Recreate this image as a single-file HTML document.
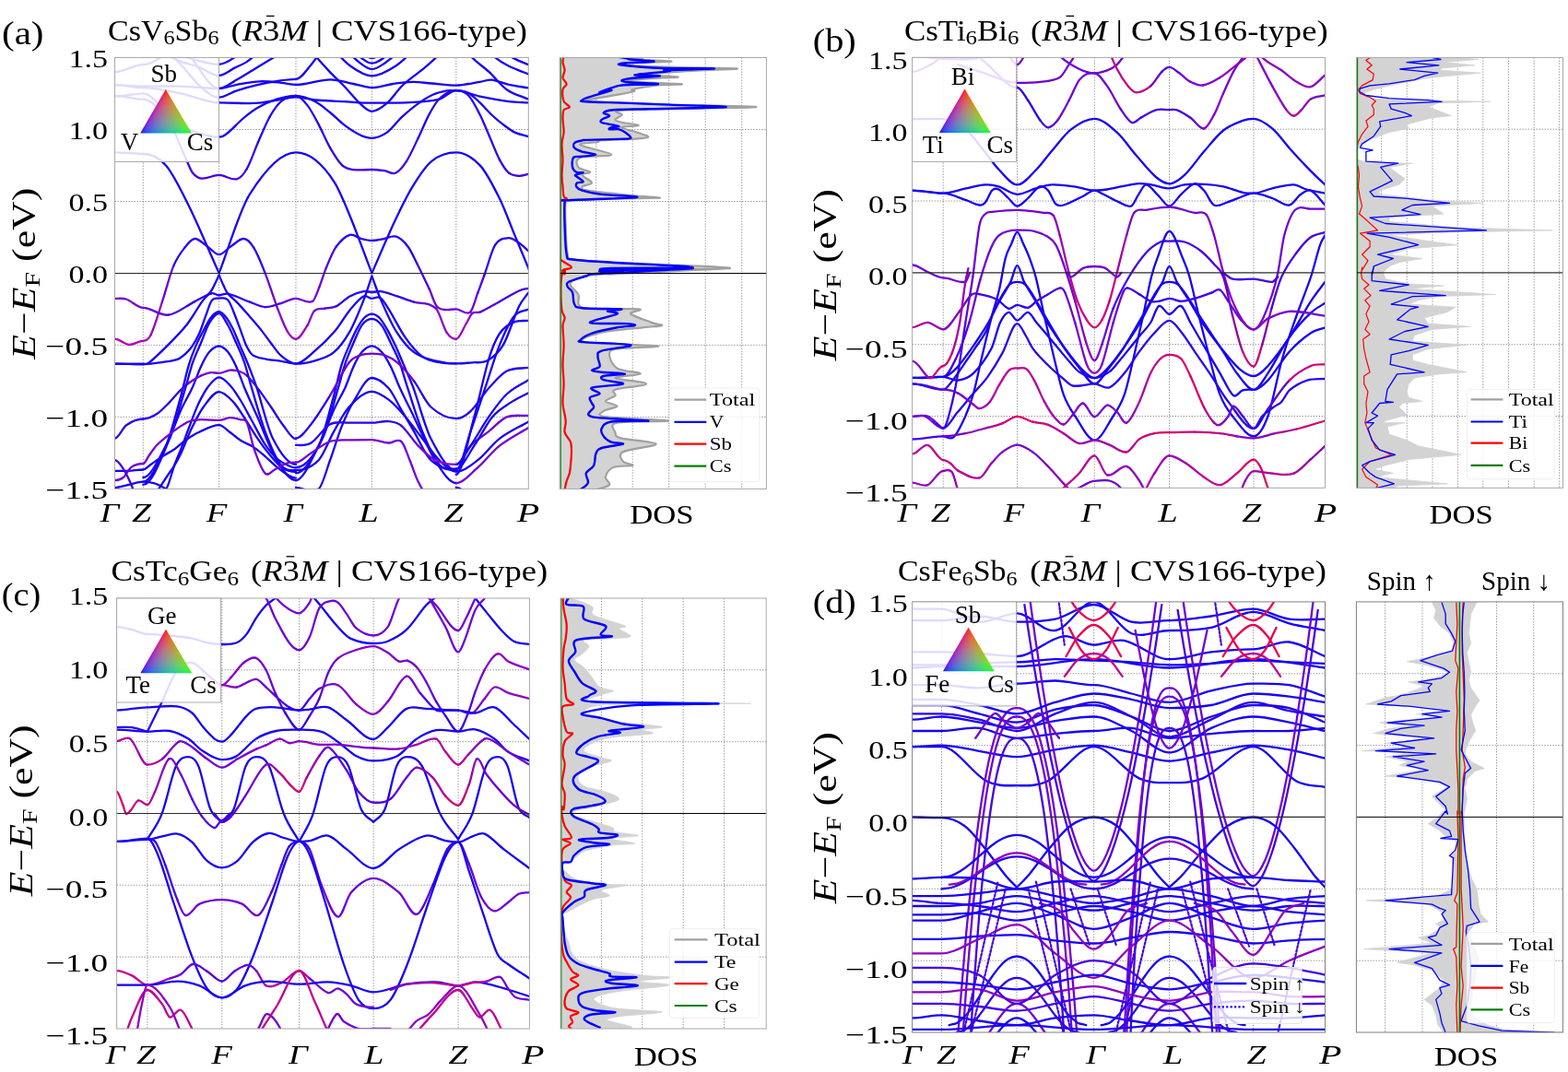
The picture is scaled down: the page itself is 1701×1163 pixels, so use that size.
<!DOCTYPE html>
<html><head><meta charset="utf-8"><title>Band structures</title>
<style>html,body{margin:0;padding:0;background:#fff;overflow:hidden}svg{display:block}</style>
</head><body>
<svg width="1701" height="1163" viewBox="0 0 1701 1163" font-family='"Liberation Serif", "DejaVu Serif", serif' fill="#000">
<rect width="1701" height="1163" fill="#fff"/>
<defs><filter id="gam" x="0" y="0" width="1" height="1" color-interpolation-filters="sRGB"><feComponentTransfer><feFuncR type="gamma" exponent="0.5"/><feFuncG type="gamma" exponent="0.5"/><feFuncB type="gamma" exponent="0.5"/></feComponentTransfer></filter><clipPath id="tria"><path d="M179.8,97.1 L207.9,144.5 L152.2,144.5Z"/></clipPath><linearGradient id="gRa" gradientUnits="userSpaceOnUse" x1="179.80" y1="97.10" x2="179.80" y2="144.50"><stop offset="0" stop-color="#ff0000"/><stop offset="1" stop-color="#000000"/></linearGradient><linearGradient id="gGa" gradientUnits="userSpaceOnUse" x1="207.90" y1="144.50" x2="166.30" y2="120.28"><stop offset="0" stop-color="#00ff00"/><stop offset="1" stop-color="#000000"/></linearGradient><linearGradient id="gBa" gradientUnits="userSpaceOnUse" x1="152.20" y1="144.50" x2="193.42" y2="120.07"><stop offset="0" stop-color="#0000ff"/><stop offset="1" stop-color="#000000"/></linearGradient><clipPath id="clipa"><rect x="124.5" y="62.5" width="448.8" height="467.9"/></clipPath><clipPath id="dclipa"><rect x="607.2" y="62.5" width="224.2" height="467.9"/></clipPath><clipPath id="trib"><path d="M1046.6,96.6 L1074.7,144.0 L1019.0,144.0Z"/></clipPath><linearGradient id="gRb" gradientUnits="userSpaceOnUse" x1="1046.60" y1="96.60" x2="1046.60" y2="144.00"><stop offset="0" stop-color="#ff0000"/><stop offset="1" stop-color="#000000"/></linearGradient><linearGradient id="gGb" gradientUnits="userSpaceOnUse" x1="1074.70" y1="144.00" x2="1033.10" y2="119.78"><stop offset="0" stop-color="#00ff00"/><stop offset="1" stop-color="#000000"/></linearGradient><linearGradient id="gBb" gradientUnits="userSpaceOnUse" x1="1019.00" y1="144.00" x2="1060.22" y2="119.57"><stop offset="0" stop-color="#0000ff"/><stop offset="1" stop-color="#000000"/></linearGradient><clipPath id="clipb"><rect x="989.6" y="62.4" width="447.9" height="466.9"/></clipPath><clipPath id="dclipb"><rect x="1471.6" y="62.4" width="223.9" height="466.9"/></clipPath><clipPath id="tric"><path d="M180.0,682.8 L208.1,730.2 L152.4,730.2Z"/></clipPath><linearGradient id="gRc" gradientUnits="userSpaceOnUse" x1="180.00" y1="682.80" x2="180.00" y2="730.20"><stop offset="0" stop-color="#ff0000"/><stop offset="1" stop-color="#000000"/></linearGradient><linearGradient id="gGc" gradientUnits="userSpaceOnUse" x1="208.10" y1="730.20" x2="166.50" y2="705.98"><stop offset="0" stop-color="#00ff00"/><stop offset="1" stop-color="#000000"/></linearGradient><linearGradient id="gBc" gradientUnits="userSpaceOnUse" x1="152.40" y1="730.20" x2="193.62" y2="705.77"><stop offset="0" stop-color="#0000ff"/><stop offset="1" stop-color="#000000"/></linearGradient><clipPath id="clipc"><rect x="126.6" y="649.0" width="447.8" height="467.0"/></clipPath><clipPath id="dclipc"><rect x="608.1" y="649.0" width="223.1" height="467.0"/></clipPath><clipPath id="trid"><path d="M1050.6,680.8 L1078.7,728.2 L1023.0,728.2Z"/></clipPath><linearGradient id="gRd" gradientUnits="userSpaceOnUse" x1="1050.60" y1="680.80" x2="1050.60" y2="728.20"><stop offset="0" stop-color="#ff0000"/><stop offset="1" stop-color="#000000"/></linearGradient><linearGradient id="gGd" gradientUnits="userSpaceOnUse" x1="1078.70" y1="728.20" x2="1037.10" y2="703.98"><stop offset="0" stop-color="#00ff00"/><stop offset="1" stop-color="#000000"/></linearGradient><linearGradient id="gBd" gradientUnits="userSpaceOnUse" x1="1023.00" y1="728.20" x2="1064.22" y2="703.77"><stop offset="0" stop-color="#0000ff"/><stop offset="1" stop-color="#000000"/></linearGradient><clipPath id="clipd"><rect x="989.6" y="652.9" width="447.9" height="467.1"/></clipPath><clipPath id="dclipd"><rect x="1471.4" y="652.9" width="224.1" height="467.1"/></clipPath></defs>
<path d="M155.3,62.5V530.4M237.6,62.5V530.4M321.0,62.5V530.4M403.4,62.5V530.4M494.8,62.5V530.4M124.5,452.4H573.3M124.5,374.4H573.3M124.5,218.5H573.3M124.5,140.5H573.3" fill="none" stroke="#8a8a8a" stroke-width="0.9" stroke-dasharray="1.4,1.6"/>
<path d="M646.7,62.5V530.4M686.2,62.5V530.4M725.7,62.5V530.4M765.2,62.5V530.4M804.7,62.5V530.4M607.2,452.4H831.4M607.2,374.4H831.4M607.2,218.5H831.4M607.2,140.5H831.4" fill="none" stroke="#8a8a8a" stroke-width="0.9" stroke-dasharray="1.4,1.6"/>
<g clip-path="url(#clipa)" fill="none" stroke-linecap="round" stroke-linejoin="round">
<path d="M121.4,165.4C122.4,165.4 123.5,165.4 124.5,165.4C134.8,165.4 145.0,167.0 155.3,167.0C163.5,167.0 171.8,170.1 180.0,179.4C188.2,188.8 196.5,206.4 204.7,223.1C215.7,245.4 226.6,272.0 237.6,296.4" stroke="#1800f4" stroke-width="2.3"/>
<path d="M237.6,296.4C248.7,267.8 259.8,228.1 271.0,210.6C287.6,184.4 304.3,165.4 321.0,165.4C327.9,165.4 334.7,167.9 341.6,173.2C348.7,178.8 355.9,186.7 363.0,198.2C368.5,207.0 374.0,220.7 379.5,234.0C387.5,253.4 395.4,275.6 403.4,296.4" stroke="#1800f4" stroke-width="2.3"/>
<path d="M403.4,296.4C411.6,277.7 419.9,257.8 428.1,240.3C434.5,226.6 440.9,213.3 447.3,202.8C454.3,191.4 461.3,180.3 468.3,174.8C477.1,167.8 486.0,165.4 494.8,165.4C503.4,165.4 512.1,170.3 520.7,179.4C527.8,186.9 534.8,201.1 541.9,215.3C547.4,226.4 552.9,241.9 558.4,255.1C563.4,267.1 568.3,279.0 573.3,291.0C575.9,298.0 578.5,305.0 581.1,312.1" stroke="#1800f4" stroke-width="2.3"/>
<path d="M121.4,367.7C122.4,367.7 123.5,367.7 124.5,367.7C129.6,367.7 134.8,373.6 139.9,374.0C145.0,374.3 150.2,369.8 155.3,369.8C158.0,369.8 160.8,369.1 163.5,363.5" stroke="#b000b8" stroke-width="2.3"/><path d="M163.5,363.5C167.6,355.1 171.8,340.1 175.9,327.6" stroke="#9a00c2" stroke-width="2.3"/><path d="M175.9,327.6C180.0,315.2 184.1,298.5 188.2,288.6" stroke="#6b00d7" stroke-width="2.3"/><path d="M188.2,288.6C192.3,278.8 196.4,273.7 200.6,268.4" stroke="#3100eb" stroke-width="2.3"/><path d="M200.6,268.4C204.1,263.8 207.7,259.1 211.3,259.0C215.9,258.9 220.6,264.6 225.3,267.6C229.4,270.3 233.5,276.2 237.6,276.2C241.8,276.2 245.9,270.3 250.1,267.6C254.8,264.6 259.6,258.9 264.3,259.0C267.9,259.1 271.5,262.6 275.1,268.4" stroke="#2800ee" stroke-width="2.3"/><path d="M275.1,268.4C279.3,275.1 283.5,285.8 287.6,296.4" stroke="#3200eb" stroke-width="2.3"/><path d="M287.6,296.4C292.4,308.5 297.1,324.0 301.8,336.4" stroke="#6e00d6" stroke-width="2.3"/><path d="M301.8,336.4C305.2,345.1 308.5,354.1 311.8,359.6" stroke="#8e00c8" stroke-width="2.3"/><path d="M311.8,359.6C314.9,364.7 317.9,367.9 321.0,367.9" stroke="#a500bd" stroke-width="2.3"/><path d="M321.0,367.9C325.1,367.9 329.2,359.6 333.4,353.2" stroke="#a100bf" stroke-width="2.3"/><path d="M333.4,353.2C335.8,349.4 338.3,339.9 340.8,337.5" stroke="#8900ca" stroke-width="2.3"/><path d="M340.8,337.5C344.6,333.7 348.5,335.5 352.3,334.7" stroke="#7100d5" stroke-width="2.3"/><path d="M352.3,334.7C356.4,333.8 360.6,334.2 364.7,332.2" stroke="#4d00e1" stroke-width="2.3"/><path d="M364.7,332.2C369.6,329.8 374.6,324.1 379.5,321.4C384.4,318.7 389.4,317.0 394.3,316.1C397.4,315.6 400.4,317.0 403.4,317.0C406.8,317.0 410.1,315.6 413.5,316.1C419.2,317.0 425.0,319.5 430.8,321.4C436.9,323.4 443.0,325.7 449.1,327.6" stroke="#2800ee" stroke-width="2.3"/><path d="M449.1,327.6C457.0,330.1 464.9,327.3 472.9,334.7" stroke="#6200da" stroke-width="2.3"/><path d="M472.9,334.7C476.8,338.4 480.8,354.9 484.7,360.9" stroke="#8d00c8" stroke-width="2.3"/><path d="M484.7,360.9C488.1,366.0 491.4,367.9 494.8,367.9" stroke="#a500bd" stroke-width="2.3"/><path d="M494.8,367.9C498.5,367.9 502.1,356.9 505.8,351.0" stroke="#a200bf" stroke-width="2.3"/><path d="M505.8,351.0C507.9,347.7 510.0,341.9 512.1,340.1" stroke="#8c00c9" stroke-width="2.3"/><path d="M512.1,340.1C514.9,337.7 517.8,339.8 520.7,338.6" stroke="#7900d2" stroke-width="2.3"/><path d="M520.7,338.6C527.8,335.5 534.8,331.0 541.9,327.2" stroke="#5a00dd" stroke-width="2.3"/><path d="M541.9,327.2C549.0,323.3 556.0,318.7 563.1,315.5C566.5,313.9 569.9,313.5 573.3,312.8C575.9,312.3 578.5,312.3 581.1,312.1" stroke="#4400e4" stroke-width="2.3"/>
<path d="M121.4,323.9C122.4,323.9 123.5,323.9 124.5,323.9C128.6,323.9 132.7,323.2 136.8,324.5C143.0,326.5 149.1,333.9 155.3,333.9" stroke="#7400d4" stroke-width="2.3"/><path d="M155.3,333.9C164.4,333.9 173.4,342.7 182.5,341.7" stroke="#6400d9" stroke-width="2.3"/><path d="M182.5,341.7C191.8,340.6 201.1,332.3 210.4,327.6" stroke="#4400e4" stroke-width="2.3"/><path d="M210.4,327.6C216.8,324.5 223.1,320.0 229.4,318.3" stroke="#3400ea" stroke-width="2.3"/><path d="M229.4,318.3C232.1,317.5 234.9,320.3 237.6,320.3" stroke="#2b00ed" stroke-width="2.3"/><path d="M237.6,320.3C240.9,320.3 244.3,318.0 247.6,318.8" stroke="#2a00ed" stroke-width="2.3"/><path d="M247.6,318.8C255.4,320.5 263.2,324.9 271.0,327.6" stroke="#3200ea" stroke-width="2.3"/><path d="M271.0,327.6C276.5,329.6 282.1,332.8 287.6,333.1" stroke="#3c00e7" stroke-width="2.3"/><path d="M287.6,333.1C293.2,333.4 298.8,330.8 304.3,329.2" stroke="#4400e4" stroke-width="2.3"/><path d="M304.3,329.2C309.9,327.6 315.4,323.8 321.0,323.8" stroke="#6400d9" stroke-width="2.3"/><path d="M321.0,323.8C327.0,323.8 333.1,329.9 339.1,326.9C341.6,325.6 344.1,317.2 346.5,311.1" stroke="#7400d4" stroke-width="2.3"/><path d="M346.5,311.1C349.0,305.0 351.5,296.1 354.0,290.2" stroke="#6600d9" stroke-width="2.3"/><path d="M354.0,290.2C357.5,281.7 361.1,272.7 364.7,267.7" stroke="#4a00e2" stroke-width="2.3"/><path d="M364.7,267.7C369.6,260.9 374.6,256.4 379.5,254.8C383.6,253.5 387.7,257.9 391.9,259.0C395.7,260.0 399.6,261.0 403.4,261.0C407.4,261.0 411.3,260.0 415.3,259.3C420.2,258.5 425.0,255.2 429.9,256.7C434.2,258.0 438.4,262.1 442.7,267.7C446.1,272.2 449.4,280.1 452.8,286.8" stroke="#2800ee" stroke-width="2.3"/><path d="M452.8,286.8C457.0,295.3 461.3,304.3 465.6,313.3" stroke="#4400e4" stroke-width="2.3"/><path d="M465.6,313.3C468.6,319.8 471.6,331.0 474.7,333.3" stroke="#6200da" stroke-width="2.3"/><path d="M474.7,333.3C481.4,338.3 488.1,335.3 494.8,335.3C499.9,335.3 505.0,342.4 510.1,338.6" stroke="#7400d4" stroke-width="2.3"/><path d="M510.1,338.6C512.9,336.5 515.6,324.7 518.4,317.5" stroke="#6800d8" stroke-width="2.3"/><path d="M518.4,317.5C520.7,311.3 523.1,305.0 525.4,298.5" stroke="#4f00e1" stroke-width="2.3"/><path d="M525.4,298.5C529.3,287.7 533.3,271.8 537.2,265.7" stroke="#3100eb" stroke-width="2.3"/><path d="M537.2,265.7C541.9,258.4 546.6,258.6 551.3,258.2C555.2,257.9 559.2,261.0 563.1,263.5C566.5,265.7 569.9,269.4 573.3,272.3C575.9,275.1 578.5,278.0 581.1,280.8" stroke="#2800ee" stroke-width="2.3"/>
<path d="M121.4,104.6C122.4,104.6 123.5,104.6 124.5,104.6C134.8,104.6 145.0,101.4 155.3,101.4C163.5,101.4 171.8,112.3 180.0,124.8C187.4,136.2 194.8,157.2 202.2,173.2C204.4,178.0 206.6,184.5 208.8,187.2C212.1,191.3 215.4,193.3 218.7,193.6C225.0,194.2 231.3,189.9 237.6,189.9C244.0,189.9 250.4,195.6 256.8,194.3C260.4,193.5 264.0,189.7 267.6,183.5" stroke="#4400e4" stroke-width="2.3"/><path d="M267.6,183.5C271.8,176.3 276.0,163.5 280.1,154.0" stroke="#3700e8" stroke-width="2.3"/><path d="M280.1,154.0C284.3,144.6 288.5,134.1 292.6,126.7" stroke="#2900ee" stroke-width="2.3"/><path d="M292.6,126.7C296.8,119.4 301.0,113.2 305.2,109.9C310.4,105.6 315.7,103.9 321.0,103.9C325.1,103.9 329.2,108.9 333.4,114.1C337.5,119.3 341.6,127.4 345.7,135.1C349.8,142.9 354.0,153.3 358.1,160.4" stroke="#2800ee" stroke-width="2.3"/><path d="M358.1,160.4C362.5,168.0 366.9,175.4 371.3,179.4" stroke="#3400ea" stroke-width="2.3"/><path d="M371.3,179.4C375.4,183.3 379.5,183.6 383.6,184.1" stroke="#4300e5" stroke-width="2.3"/><path d="M383.6,184.1C390.2,185.1 396.8,184.0 403.4,184.0C408.0,184.0 412.5,184.6 417.1,185.2C421.1,185.8 425.0,189.4 429.0,187.7C433.0,186.0 436.9,181.2 440.9,175.1" stroke="#4400e4" stroke-width="2.3"/><path d="M440.9,175.1C445.1,168.5 449.4,158.6 453.7,149.8" stroke="#3900e8" stroke-width="2.3"/><path d="M453.7,149.8C457.9,141.0 462.2,130.0 466.5,122.4C470.4,115.2 474.4,108.9 478.3,105.5C483.8,100.8 489.3,98.2 494.8,98.2C499.2,98.2 503.7,99.0 508.1,103.5C512.3,107.7 516.5,116.4 520.7,124.5C524.1,131.2 527.5,140.0 530.9,147.8" stroke="#2800ee" stroke-width="2.3"/><path d="M530.9,147.8C534.6,156.2 538.2,166.2 541.9,173.1" stroke="#2b00ed" stroke-width="2.3"/><path d="M541.9,173.1C545.3,179.5 548.7,184.9 552.1,187.7" stroke="#3700e8" stroke-width="2.3"/><path d="M552.1,187.7C555.8,190.8 559.4,190.6 563.1,190.8C566.5,191.0 569.9,189.5 573.3,188.8C575.9,188.3 578.5,187.8 581.1,187.2" stroke="#4400e4" stroke-width="2.3"/>
<path d="M121.4,103.9C122.4,103.9 123.5,103.9 124.5,103.9C134.8,103.9 145.0,107.7 155.3,107.7C166.3,107.7 177.2,125.8 188.2,132.6C196.4,137.8 204.7,140.9 212.9,143.6C221.1,146.2 229.4,148.7 237.6,148.7C240.4,148.7 243.2,147.3 245.9,145.1C251.5,140.9 257.1,134.2 262.6,129.5C268.2,124.8 273.7,120.3 279.3,117.1C286.2,113.0 293.2,109.9 300.1,107.7C307.1,105.5 314.1,103.9 321.0,103.9C327.9,103.9 334.7,106.7 341.6,110.0C347.1,112.7 352.6,117.6 358.1,122.0C363.0,126.0 368.0,131.4 372.9,135.1C378.7,139.5 384.4,143.4 390.2,146.2C394.6,148.3 399.0,149.8 403.4,149.8C408.9,149.8 414.4,147.4 419.9,143.6C425.3,139.7 430.8,131.8 436.3,126.7C442.1,121.4 447.9,116.5 453.7,112.4C459.2,108.4 464.6,105.0 470.1,102.5C475.0,100.3 479.9,99.2 484.7,98.3C488.1,97.7 491.4,98.2 494.8,98.2C499.2,98.2 503.7,98.7 508.1,101.0C512.3,103.1 516.5,107.5 520.7,111.4C524.9,115.4 529.1,120.6 533.3,124.5C537.5,128.5 541.6,132.0 545.8,135.1C550.0,138.3 554.2,141.6 558.4,143.6C563.4,145.9 568.3,146.7 573.3,148.2C575.9,148.8 578.5,149.3 581.1,149.8" stroke="#1800f4" stroke-width="2.3"/>
<path d="M121.4,92.1C122.4,92.1 123.5,92.1 124.5,92.1C134.8,92.1 145.0,95.2 155.3,95.2C169.0,95.2 182.7,98.7 196.4,101.4C210.2,104.2 223.9,111.4 237.6,111.4C250.9,111.4 264.3,112.5 277.6,111.9C284.9,111.6 292.1,109.9 299.3,108.8C306.5,107.7 313.8,105.3 321.0,105.3C327.9,105.3 334.7,107.8 341.6,108.5C352.0,109.4 362.5,109.6 372.9,110.2C383.1,110.7 393.2,111.7 403.4,111.7C418.6,111.7 433.9,111.7 449.1,110.8C458.2,110.3 467.4,110.2 476.5,107.7C482.6,106.0 488.7,98.2 494.8,98.2C503.4,98.2 512.1,102.8 520.7,104.6C531.2,106.8 541.6,108.8 552.1,110.2C559.2,111.1 566.2,111.0 573.3,111.4C575.9,111.4 578.5,111.4 581.1,111.4" stroke="#1800f4" stroke-width="2.3"/>
<path d="M121.4,92.1C122.4,92.1 123.5,92.1 124.5,92.1C134.8,92.1 145.0,93.6 155.3,93.6C169.0,93.6 182.7,93.3 196.4,93.6C210.2,94.0 223.9,96.0 237.6,96.0C244.0,96.0 250.4,93.0 256.8,91.9C265.1,90.5 273.5,88.7 281.8,88.3C289.6,88.0 297.4,89.0 305.2,89.8C310.4,90.2 315.7,91.9 321.0,91.9C324.3,91.9 327.6,91.5 330.9,91.0C340.0,89.6 349.0,86.3 358.1,86.3C366.6,86.3 375.1,89.4 383.6,91.0C390.2,92.3 396.8,95.1 403.4,95.1C411.0,95.1 418.6,92.1 426.2,91.0C433.3,90.0 440.3,88.9 447.3,88.8C454.3,88.7 461.3,90.0 468.3,90.5C477.1,91.2 486.0,92.6 494.8,92.6C503.4,92.6 512.1,90.1 520.7,88.8C524.9,88.2 529.1,86.2 533.3,86.6C539.5,87.3 545.8,90.6 552.1,91.9C559.2,93.5 566.2,94.2 573.3,95.4C575.9,95.8 578.5,96.3 581.1,96.8" stroke="#1800f4" stroke-width="2.3"/>
<path d="M329.2,43.7C332.5,48.1 335.8,53.0 339.1,57.0C345.4,64.6 351.8,71.6 358.1,78.4C363.0,83.6 368.0,87.9 372.9,93.0C378.7,99.0 384.4,106.6 390.2,111.9C394.6,115.9 399.0,120.8 403.4,120.8C408.9,120.8 414.4,116.5 419.9,111.9C425.3,107.3 430.8,98.3 436.3,93.0C443.3,86.3 450.3,82.0 457.3,76.2C462.5,71.8 467.7,67.8 472.9,62.4C477.1,58.0 481.4,52.0 485.7,46.8" stroke="#1800f4" stroke-width="2.3"/>
<path d="M171.8,46.8C180.0,54.6 188.2,61.7 196.4,70.2C203.3,77.3 210.2,87.7 217.0,93.6C223.9,99.6 230.7,105.7 237.6,105.7C244.0,105.7 250.4,100.4 256.8,98.3C264.3,95.9 271.8,93.8 279.3,92.1C287.6,90.2 296.0,88.7 304.3,87.4C309.9,86.6 315.4,85.8 321.0,85.8C326.5,85.8 332.0,76.5 337.5,70.2C341.6,65.6 345.7,58.8 349.8,53.1" stroke="#1800f4" stroke-width="2.3"/>
<path d="M358.1,50.0C365.5,57.2 372.9,66.5 380.3,71.8C388.0,77.3 395.7,82.4 403.4,82.4C411.9,82.4 420.5,77.3 429.0,71.8C437.2,66.5 445.4,57.2 453.7,50.0" stroke="#1800f4" stroke-width="2.3"/>
<path d="M370.4,50.0C377.3,56.2 384.2,63.5 391.0,68.7C395.2,71.8 399.3,75.1 403.4,75.1C408.0,75.1 412.5,71.8 417.1,68.7C424.7,63.5 432.3,56.2 440.0,50.0" stroke="#1800f4" stroke-width="2.3"/>
<path d="M380.3,53.1C388.0,58.3 395.7,68.7 403.4,68.7C411.9,68.7 420.5,58.3 429.0,53.1" stroke="#1800f4" stroke-width="2.3"/>
<path d="M391.0,56.2C395.2,58.5 399.3,63.1 403.4,63.1C408.0,63.1 412.5,58.5 417.1,56.2" stroke="#1800f4" stroke-width="2.3"/>
<path d="M494.8,43.7C500.6,43.7 506.3,56.9 512.1,62.4C518.3,68.5 524.6,72.6 530.9,78.4C537.2,84.2 543.5,92.9 549.8,97.2C557.6,102.7 565.4,104.2 573.3,107.7C575.9,108.2 578.5,108.7 581.1,109.2" stroke="#1800f4" stroke-width="2.3"/>
<path d="M522.3,46.8C527.2,52.0 532.2,58.3 537.2,62.4C542.2,66.6 547.1,69.3 552.1,71.8C559.2,75.3 566.2,77.5 573.3,80.4C575.9,81.2 578.5,81.9 581.1,82.7" stroke="#1800f4" stroke-width="2.3"/>
<path d="M545.8,53.1C549.2,56.2 552.6,60.3 556.0,62.4C561.8,66.0 567.5,67.7 573.3,70.2C575.9,71.3 578.5,72.3 581.1,73.4" stroke="#1800f4" stroke-width="2.3"/>
<path d="M167.6,53.1C176.4,57.4 185.2,62.3 194.0,65.9C200.8,68.7 207.7,69.8 214.6,72.3C222.2,75.1 229.9,81.9 237.6,81.9C243.4,81.9 249.3,76.3 255.1,73.4C259.3,71.3 263.5,69.8 267.6,67.1C271.5,64.6 275.4,60.9 279.3,57.8" stroke="#1800f4" stroke-width="2.3"/>
<path d="M180.0,54.6C189.6,57.8 199.2,61.5 208.8,64.0C218.4,66.5 228.0,69.8 237.6,69.8C243.2,69.8 248.7,66.2 254.3,62.4C257.1,60.6 259.8,56.2 262.6,53.1" stroke="#1800f4" stroke-width="2.3"/>
<path d="M204.7,59.3C215.7,71.5 226.6,96.0 237.6,96.0C244.0,96.0 250.4,90.1 256.8,86.6C263.7,82.8 270.7,78.2 277.6,74.0C286.5,68.6 295.4,63.2 304.3,57.8" stroke="#1800f4" stroke-width="2.3"/>
<path d="M121.4,78.1C122.4,78.1 123.5,78.1 124.5,78.1C134.8,78.1 145.0,70.2 155.3,70.2C166.3,70.2 177.2,58.8 188.2,53.1" stroke="#1800f4" stroke-width="2.3"/>
<path d="M121.4,394.6C122.4,394.6 123.5,394.6 124.5,394.6C134.8,394.6 145.0,395.0 155.3,395.0C157.2,395.0 159.1,395.4 161.1,393.9C167.9,388.7 174.8,381.8 181.6,374.9C188.6,367.9 195.6,361.2 202.6,352.3C208.4,344.9 214.2,334.1 220.0,326.1C223.1,321.7 226.2,320.1 229.4,315.2C232.1,310.9 234.9,304.0 237.6,298.5" stroke="#1800f4" stroke-width="2.3"/>
<path d="M237.6,298.5C239.1,302.0 240.7,305.8 242.2,309.1C243.7,312.3 245.2,316.0 246.8,318.0C250.2,322.4 253.7,324.5 257.2,328.1C261.2,332.3 265.3,336.9 269.3,341.5C273.7,346.6 278.2,351.6 282.6,357.1C286.5,362.0 290.4,367.7 294.3,372.7C297.9,377.4 301.5,383.2 305.2,386.1C310.4,390.5 315.7,394.6 321.0,394.6C327.9,394.6 334.7,393.4 341.6,391.3C348.5,389.2 355.3,388.0 362.2,382.2C368.0,377.4 373.7,369.7 379.5,359.6C384.4,351.0 389.4,338.5 394.3,326.1C397.4,318.5 400.4,308.4 403.4,299.6" stroke="#1800f4" stroke-width="2.3"/>
<path d="M403.4,299.6C406.8,308.4 410.1,318.5 413.5,326.1C418.9,338.5 424.4,351.0 429.9,359.6C436.3,369.7 442.7,377.4 449.1,382.2C456.7,388.0 464.3,389.3 471.9,391.3C479.6,393.3 487.2,394.4 494.8,394.4C500.6,394.4 506.3,393.9 512.1,393.3C517.6,392.8 523.1,394.4 528.6,391.3C534.3,388.1 540.1,384.3 545.8,374.4C551.6,364.6 557.3,344.3 563.1,332.3C566.5,325.3 569.9,322.4 573.3,317.5C575.9,315.7 578.5,313.9 581.1,312.1" stroke="#1800f4" stroke-width="2.3"/>
<path d="M121.4,394.6C122.4,394.6 123.5,394.6 124.5,394.6C134.8,394.6 145.0,395.0 155.3,395.0C162.4,395.0 169.6,393.9 176.7,392.9C182.2,392.1 187.7,391.7 193.2,389.6C196.2,388.4 199.2,385.7 202.2,382.9C204.4,380.8 206.6,378.4 208.8,375.1C211.3,371.3 213.7,367.2 216.2,361.7C218.4,356.7 220.6,349.7 222.8,343.7C224.7,338.5 226.6,332.3 228.5,328.1C229.6,325.8 230.7,324.8 231.8,324.2C233.8,323.3 235.7,323.6 237.6,323.6C239.7,323.6 241.8,322.9 243.9,323.6C245.4,324.1 246.9,324.5 248.4,327.0C250.7,330.8 252.9,337.0 255.1,342.6C257.6,348.9 260.1,356.0 262.6,362.8C264.1,366.9 265.7,372.0 267.2,375.1C269.4,379.5 271.7,383.5 273.9,385.1C278.7,388.4 283.6,388.5 288.5,389.6C294.0,390.8 299.6,390.9 305.2,391.8C310.4,392.6 315.7,394.4 321.0,394.4C327.9,394.4 334.7,386.4 341.6,380.7C348.7,374.8 355.9,368.0 363.0,359.6C368.5,353.2 374.0,343.1 379.5,336.4C384.4,330.4 389.4,324.0 394.3,321.4C397.4,319.8 400.4,323.8 403.4,323.8C406.4,323.8 409.5,321.0 412.5,323.0C415.6,324.9 418.6,330.6 421.7,335.4C427.8,345.2 433.9,358.1 440.0,366.6C446.1,375.2 452.1,382.5 458.2,386.9C464.3,391.4 470.4,391.9 476.5,393.2C482.6,394.4 488.7,394.4 494.8,394.4" stroke="#1800f4" stroke-width="2.3"/>
<path d="M155.3,522.6C163.5,522.6 171.8,502.4 180.0,483.6C185.5,471.2 191.0,448.5 196.4,429.0C199.2,419.3 201.9,405.5 204.7,396.3C207.3,387.5 209.9,381.2 212.5,375.1C215.5,368.1 218.5,362.7 221.5,357.1C224.1,352.2 226.7,346.8 229.4,343.7C232.1,340.5 234.9,338.1 237.6,338.1C240.0,338.1 242.5,340.7 244.9,343.7C247.6,347.0 250.2,351.9 252.8,357.1C255.4,362.3 257.9,369.0 260.5,375.1C263.5,382.1 266.5,388.8 269.5,396.3C272.4,403.8 275.4,411.2 278.4,420.2C284.2,437.8 290.1,464.3 296.0,475.8C304.3,492.2 312.7,503.9 321.0,503.9" stroke="#1800f4" stroke-width="2.3"/>
<path d="M155.3,525.8C164.9,525.8 174.5,497.9 184.1,475.8C189.9,462.6 195.6,439.2 201.4,420.2C203.9,412.0 206.3,401.3 208.8,394.1C211.9,385.1 215.0,379.2 218.1,371.8C221.1,364.6 224.1,355.3 227.1,350.4C230.6,344.7 234.1,339.8 237.6,339.8C240.8,339.8 244.0,347.2 247.2,352.8C250.2,357.9 253.1,365.1 256.1,371.8C259.1,378.5 262.1,384.4 265.0,393.0C267.6,400.5 270.2,411.6 272.8,420.2C277.7,436.6 282.7,454.9 287.6,468.1C293.2,482.8 298.8,496.9 304.3,503.9C309.9,511.0 315.4,510.2 321.0,510.2" stroke="#1800f4" stroke-width="2.3"/>
<path d="M155.3,518.0C163.5,518.0 171.8,498.3 180.0,483.6C185.5,473.9 191.0,456.7 196.4,444.6C200.6,435.6 204.7,429.1 208.8,420.2C211.9,413.4 215.0,403.9 218.1,397.4C221.1,391.1 224.1,385.1 227.1,381.8C230.6,377.9 234.1,375.5 237.6,375.5C240.8,375.5 244.0,378.0 247.2,381.8C250.2,385.3 253.1,391.0 256.1,397.4C259.1,403.8 262.1,413.1 265.0,420.2C269.8,431.4 274.5,441.7 279.3,452.4C286.2,468.1 293.2,487.8 300.1,499.2C307.1,510.7 314.1,521.1 321.0,521.1" stroke="#1800f4" stroke-width="2.3"/>
<path d="M155.3,546.0C163.6,546.0 171.9,540.6 180.2,530.5C183.2,526.7 186.3,512.5 189.4,504.2C192.0,497.2 194.6,491.4 197.3,484.6C199.9,477.9 202.5,470.4 205.1,463.7C208.5,454.8 212.0,445.0 215.5,437.6C219.0,430.2 222.5,423.7 226.0,419.2C229.9,414.3 233.7,409.4 237.6,409.4C241.6,409.4 245.6,413.7 249.5,418.0C253.5,422.2 257.4,428.5 261.4,435.0C265.7,442.1 270.0,450.7 274.4,458.5C278.7,466.4 283.1,475.6 287.5,482.1C291.8,488.6 296.2,493.8 300.6,497.7C304.9,501.6 309.2,503.4 313.6,505.5C316.1,506.7 318.5,507.5 321.0,507.5" stroke="#1800f4" stroke-width="2.3"/>
<path d="M155.3,546.0C165.3,546.0 175.4,524.0 185.4,510.8C188.9,506.2 192.4,499.7 196.0,492.5C199.9,484.5 203.8,473.2 207.7,465.1C212.1,456.2 216.4,447.3 220.7,441.5C226.4,434.0 232.0,425.1 237.6,425.1C242.4,425.1 247.3,430.0 252.1,435.0C256.4,439.4 260.8,446.7 265.1,453.2C269.5,459.8 273.9,467.8 278.3,474.1C283.5,481.7 288.8,488.9 294.0,495.0C298.3,500.2 302.7,505.4 307.1,508.1C311.7,511.1 316.4,512.0 321.0,512.0" stroke="#1800f4" stroke-width="2.3"/>
<path d="M121.4,510.8C122.4,510.8 123.5,510.8 124.5,510.8C129.5,510.8 134.6,511.0 139.6,510.8C144.8,510.6 150.1,509.5 155.3,509.5C157.9,509.5 160.6,506.1 163.2,504.2C167.6,501.2 171.9,497.9 176.3,495.0C180.6,492.2 185.0,490.3 189.4,487.2C193.7,484.2 198.1,479.8 202.5,476.8C206.8,473.8 211.1,470.9 215.5,469.0C222.8,465.7 230.2,461.2 237.6,461.2C241.6,461.2 245.6,466.2 249.5,469.0C253.5,471.8 257.4,475.6 261.4,478.0C265.7,480.8 270.0,481.8 274.4,484.6C278.7,487.4 283.1,491.3 287.5,495.0C291.8,498.8 296.2,503.4 300.6,506.9C304.9,510.4 309.2,513.6 313.6,516.1C316.1,517.5 318.5,518.6 321.0,518.6" stroke="#1800f4" stroke-width="2.3"/>
<path d="M121.4,475.5C122.4,475.5 123.5,475.5 124.5,475.5C128.7,475.5 132.9,464.1 137.1,461.2C143.2,457.0 149.2,454.5 155.3,454.5C160.1,454.5 165.0,452.3 169.8,449.3C174.1,446.7 178.5,442.0 182.8,437.6C186.7,433.7 190.7,428.5 194.6,424.5" stroke="#2800ee" stroke-width="2.3"/><path d="M194.6,424.5C198.1,421.0 201.6,417.8 205.1,415.3" stroke="#3800e9" stroke-width="2.3"/><path d="M205.1,415.3C209.4,412.2 213.8,409.6 218.1,407.5" stroke="#6e00d6" stroke-width="2.3"/><path d="M218.1,407.5C221.6,405.9 225.1,404.7 228.6,404.2C231.6,403.8 234.6,404.9 237.6,404.9C241.6,404.9 245.6,401.9 249.5,401.6C253.0,401.3 256.5,401.9 260.0,403.0" stroke="#7400d4" stroke-width="2.3"/><path d="M260.0,403.0C262.6,403.9 265.2,405.0 267.9,407.5" stroke="#6e00d6" stroke-width="2.3"/><path d="M267.9,407.5C272.2,411.7 276.6,417.4 281.0,423.1" stroke="#3e00e6" stroke-width="2.3"/><path d="M281.0,423.1C285.3,428.8 289.6,435.2 294.0,441.5C298.3,447.9 302.7,455.6 307.1,461.2C311.7,467.1 316.4,476.2 321.0,476.2" stroke="#2800ee" stroke-width="2.3"/>
<path d="M121.4,521.1C122.4,521.1 123.5,521.1 124.5,521.1C127.6,521.1 130.7,520.4 133.7,518.0C136.6,515.7 139.5,508.9 142.4,506.9C146.7,503.9 151.0,503.0 155.3,503.0C157.5,503.0 159.7,496.8 161.9,493.8C164.5,490.2 167.2,486.2 169.8,483.3C173.2,479.6 176.7,477.0 180.2,474.1C184.1,470.9 188.1,467.8 192.0,465.1C196.4,462.1 200.7,459.1 205.1,457.3C208.5,455.8 212.0,455.4 215.5,455.3C222.8,454.9 230.2,455.9 237.6,455.9C241.6,455.9 245.6,453.3 249.5,453.2C253.5,453.1 257.4,454.1 261.4,455.3C263.5,455.9 265.7,453.7 267.9,458.5C270.5,464.4 273.1,479.9 275.7,487.2C279.6,498.2 283.6,509.5 287.5,513.4C291.0,517.0 294.5,511.2 298.0,509.5C301.9,507.7 305.8,504.3 309.7,503.0C313.4,501.7 317.2,501.6 321.0,501.6" stroke="#7400d4" stroke-width="2.3"/>
<path d="M121.4,499.2C122.4,499.2 123.5,499.2 124.5,499.2C127.6,499.2 130.7,503.9 133.7,508.6C136.8,513.3 139.9,519.8 143.0,527.3C145.0,532.3 147.1,539.8 149.1,546.0" stroke="#4400e4" stroke-width="2.3"/>
<path d="M121.4,528.9C122.4,528.9 123.5,528.9 124.5,528.9C129.6,528.9 134.8,526.8 139.9,525.8C145.0,524.7 150.2,522.6 155.3,522.6C163.5,522.6 171.8,524.6 180.0,530.5C182.7,532.4 185.5,540.9 188.2,546.0" stroke="#1800f4" stroke-width="2.3"/>
<path d="M321.0,507.1C329.2,507.1 337.5,499.2 345.7,483.6C351.2,473.2 356.7,448.5 362.2,429.0C364.9,419.3 367.7,405.3 370.4,396.3C373.2,387.3 375.9,381.6 378.7,375.1C381.4,368.5 384.2,362.2 386.9,357.1C389.7,352.1 392.4,347.6 395.2,344.8C397.9,342.1 400.7,340.6 403.4,340.6C406.1,340.6 408.9,342.1 411.6,344.8C414.4,347.6 417.1,352.4 419.9,357.1C422.9,362.4 425.9,368.5 429.0,375.1C432.0,381.6 435.1,389.1 438.1,396.3C441.5,404.2 444.8,411.0 448.2,420.2C454.6,437.6 461.0,463.5 467.4,475.8C476.5,493.5 485.7,510.2 494.8,510.2" stroke="#1800f4" stroke-width="2.3"/>
<path d="M321.0,513.3C330.6,513.3 340.2,495.3 349.8,475.8C355.6,464.2 361.4,439.2 367.1,420.2C369.6,412.0 372.1,401.4 374.6,394.1C377.6,385.2 380.6,378.7 383.6,371.8C386.6,364.9 389.7,356.6 392.7,352.6C396.3,347.9 399.8,345.9 403.4,345.9C406.9,345.9 410.4,348.3 413.9,352.8C417.2,356.9 420.4,365.1 423.7,371.8C427.0,378.5 430.2,384.4 433.5,393.0C436.3,400.5 439.1,411.6 442.0,420.2C447.4,436.6 452.8,454.9 458.2,468.1C464.3,482.8 470.4,497.2 476.5,503.9C482.6,510.7 488.7,508.6 494.8,508.6" stroke="#1800f4" stroke-width="2.3"/>
<path d="M321.0,521.1C329.2,521.1 337.5,498.9 345.7,483.6C351.2,473.5 356.7,456.7 362.2,444.6C366.3,435.6 370.4,429.2 374.6,420.2C377.6,413.5 380.6,403.8 383.6,397.4C386.6,391.0 389.7,385.1 392.7,381.8C396.3,377.8 399.8,375.4 403.4,375.4C406.9,375.4 410.4,378.0 413.9,381.8C417.2,385.3 420.4,391.0 423.7,397.4C427.0,403.8 430.2,413.1 433.5,420.2C438.7,431.4 443.9,441.7 449.1,452.4C456.7,468.1 464.3,487.3 471.9,499.2C479.6,511.2 487.2,524.2 494.8,524.2" stroke="#1800f4" stroke-width="2.3"/>
<path d="M321.0,528.9C329.2,528.9 337.5,537.0 345.7,530.5C349.8,527.2 354.0,510.4 358.1,499.2C362.2,488.1 366.3,473.8 370.4,463.4C374.6,453.0 378.7,443.5 382.8,436.9C389.7,425.7 396.5,410.0 403.4,410.0C409.5,410.0 415.6,414.7 421.7,421.2C426.2,426.2 430.8,436.9 435.4,444.6C440.0,452.4 444.5,460.2 449.1,468.1C455.2,478.4 461.3,493.6 467.4,499.2C476.5,507.7 485.7,510.2 494.8,510.2" stroke="#1800f4" stroke-width="2.3"/>
<path d="M321.0,510.2C329.2,510.2 337.5,507.7 345.7,499.2C351.2,493.6 356.7,477.7 362.2,468.1C367.7,458.4 373.2,447.3 378.7,441.5C386.9,432.9 395.2,424.8 403.4,424.8C409.5,424.8 415.6,429.1 421.7,433.7C427.8,438.3 433.9,445.4 440.0,452.4C446.1,459.5 452.1,468.1 458.2,475.8C464.3,483.6 470.4,493.3 476.5,499.2C482.6,505.2 488.7,511.7 494.8,511.7" stroke="#1800f4" stroke-width="2.3"/>
<path d="M321.0,482.9C326.5,482.9 332.0,483.9 337.5,480.5C344.3,476.3 351.2,463.9 358.1,460.2C364.9,456.6 371.8,458.9 378.7,458.7C386.9,458.4 395.2,458.7 403.4,458.7C409.5,458.7 415.6,456.5 421.7,457.1C426.2,457.6 430.8,458.0 435.4,461.8" stroke="#2800ee" stroke-width="2.3"/><path d="M435.4,461.8C441.5,466.9 447.6,477.4 453.7,483.6" stroke="#4e00e1" stroke-width="2.3"/><path d="M453.7,483.6C459.8,489.9 465.9,496.2 471.9,499.2" stroke="#7c00d0" stroke-width="2.3"/><path d="M471.9,499.2C479.6,503.0 487.2,503.9 494.8,503.9" stroke="#9d00c1" stroke-width="2.3"/><path d="M494.8,503.9C500.0,503.9 505.3,489.0 510.5,483.6" stroke="#9c00c1" stroke-width="2.3"/><path d="M510.5,483.6C517.0,477.0 523.6,473.2 530.1,468.1C536.7,462.9 543.2,455.0 549.8,452.4C557.6,449.3 565.4,451.4 573.3,450.9C575.9,450.4 578.5,449.9 581.1,449.3" stroke="#7400d4" stroke-width="2.3"/>
<path d="M321.0,501.6C326.5,501.6 332.0,494.8 337.5,491.4C344.3,487.3 351.2,481.3 358.1,479.0C364.9,476.6 371.8,477.7 378.7,477.4C386.9,477.1 395.2,477.1 403.4,477.1C409.5,477.1 415.6,480.2 421.7,480.5C426.2,480.8 430.8,475.2 435.4,479.0C438.4,481.5 441.5,492.0 444.5,499.2C447.6,506.5 450.6,516.4 453.7,522.6C458.2,532.0 462.8,538.2 467.4,546.0" stroke="#7400d4" stroke-width="2.3"/>
<path d="M321.0,475.5C326.5,475.5 332.0,467.1 337.5,460.2C344.3,451.6 351.2,440.2 358.1,429.0" stroke="#2800ee" stroke-width="2.3"/><path d="M358.1,429.0C364.9,417.9 371.8,402.3 378.7,393.2" stroke="#6b00d7" stroke-width="2.3"/><path d="M378.7,393.2C382.8,387.7 386.9,387.0 391.0,385.4C395.2,383.8 399.3,383.7 403.4,383.7C408.0,383.7 412.5,383.8 417.1,385.4C421.7,387.0 426.2,389.2 430.8,393.2C436.9,398.5 443.0,405.4 449.1,413.4" stroke="#7400d4" stroke-width="2.3"/><path d="M449.1,413.4C455.2,421.5 461.3,436.1 467.4,441.5C476.5,449.7 485.7,454.2 494.8,454.2C500.0,454.2 505.3,451.1 510.5,446.2C517.0,440.1 523.6,428.5 530.1,421.2C536.7,414.0 543.2,405.9 549.8,402.5C557.6,398.5 565.4,400.1 573.3,398.9C575.9,398.6 578.5,398.2 581.1,397.9" stroke="#2800ee" stroke-width="2.3"/>
<path d="M494.8,503.9C500.0,503.9 505.3,491.3 510.5,483.6C517.0,474.1 523.6,461.8 530.1,452.4C536.7,443.1 543.2,433.6 549.8,427.5C557.6,420.2 565.4,417.3 573.3,412.2C575.9,411.1 578.5,409.9 581.1,408.8" stroke="#1800f4" stroke-width="2.3"/>
<path d="M494.8,508.6C501.3,508.6 507.9,493.0 514.4,483.6C521.0,474.3 527.5,460.2 534.0,452.4C540.6,444.6 547.1,441.2 553.7,436.9C560.2,432.5 566.8,429.8 573.3,426.2C575.9,425.1 578.5,424.0 581.1,422.8" stroke="#1800f4" stroke-width="2.3"/>
<path d="M494.8,511.7C502.7,511.7 510.5,505.2 518.4,499.2C526.2,493.3 534.0,481.8 541.9,475.8C552.4,467.9 562.8,463.6 573.3,457.4C575.9,455.8 578.5,454.1 581.1,452.4" stroke="#1800f4" stroke-width="2.3"/>
<path d="M494.8,524.2C502.7,524.2 510.5,513.8 518.4,507.1C526.2,500.3 534.0,489.8 541.9,483.6C552.4,475.4 562.8,470.5 573.3,464.0C575.9,463.3 578.5,462.5 581.1,461.8" stroke="#7400d4" stroke-width="2.3"/>
<path d="M494.8,528.9C500.0,528.9 505.3,535.1 510.5,538.2" stroke="#1800f4" stroke-width="2.3"/>
<path d="M494.8,510.2C500.0,510.2 505.3,482.9 510.5,468.1C515.7,453.2 521.0,436.9 526.2,421.2C531.4,405.7 536.7,387.4 541.9,374.4C547.1,361.4 552.4,349.8 557.6,343.2C562.8,336.8 568.1,338.1 573.3,335.4" stroke="#1800f4" stroke-width="2.3"/>
<path d="M494.8,514.8C501.3,514.8 507.9,475.6 514.4,452.4C519.7,434.0 524.9,407.3 530.1,390.0C534.0,377.1 538.0,367.8 541.9,362.0C547.1,354.2 552.4,351.8 557.6,349.5C562.8,347.1 568.1,348.4 573.3,347.9" stroke="#1800f4" stroke-width="2.3"/>
</g>
<g clip-path="url(#dclipa)" fill="none" stroke-linejoin="round">
<path d="M607.2,61.3 C617.6,61.3 654.6,61.0 669.5,61.3 C684.5,61.6 694.8,62.5 696.9,63.0 C699.0,63.5 676.9,63.9 682.2,64.5 C687.4,65.1 729.2,66.0 728.5,66.6 C727.8,67.2 686.0,67.4 678.0,68.1 C669.9,68.8 671.3,70.0 680.1,70.8 C688.8,71.6 710.8,72.3 730.6,72.9 C750.5,73.5 793.5,73.9 799.1,74.4 C804.7,74.9 776.8,75.4 764.3,76.1 C751.9,76.8 736.3,77.8 724.3,78.6 C712.4,79.4 691.0,79.9 692.7,80.7 C694.5,81.5 730.6,82.8 734.9,83.4 C739.1,84.1 725.7,84.0 718.0,84.5 C710.3,85.0 694.1,85.9 688.5,86.6 C682.9,87.3 675.9,87.9 684.3,88.7 C692.7,89.5 734.1,90.6 739.1,91.2 C744.0,91.9 722.6,91.5 713.8,92.5 C705.0,93.5 690.8,96.0 686.4,97.1 C682.0,98.3 691.3,98.1 687.4,99.2 C683.6,100.4 671.8,102.3 663.2,103.9 C654.6,105.5 640.0,107.7 635.8,108.7 C631.6,109.8 622.8,109.4 637.9,110.2 C653.0,111.0 696.0,112.6 726.4,113.6 C756.8,114.6 823.7,115.3 820.2,116.1 C816.7,116.9 730.5,117.5 705.4,118.2 C680.2,118.9 674.6,119.3 669.5,120.3 C664.4,121.4 675.2,123.0 674.8,124.5 C674.4,126.1 667.2,128.4 667.4,129.8 C667.6,131.2 671.6,131.9 675.9,133.0 C680.1,134.0 693.1,135.2 692.7,136.1 C692.4,137.0 674.1,137.0 673.7,138.2 C673.4,139.5 685.7,141.7 690.6,143.5 C695.5,145.3 704.3,147.5 703.2,148.8 C702.2,150.0 693.1,150.3 684.3,150.9 C675.5,151.5 656.5,151.8 650.6,152.3 C644.6,152.9 652.0,153.2 648.5,154.0 C645.0,154.8 627.0,154.9 629.5,157.2 C632.0,159.5 663.2,165.4 663.2,167.7 C663.2,170.0 635.5,168.6 629.5,170.9 C623.5,173.2 625.6,178.8 627.4,181.4 C629.1,184.1 639.3,185.3 640.0,186.7 C640.7,188.1 631.3,187.9 631.6,189.9 C632.0,191.8 642.1,196.2 642.1,198.3 C642.1,200.4 632.3,201.1 631.6,202.5 C630.9,203.9 629.1,205.1 637.9,206.7 C646.7,208.3 671.3,210.7 684.3,212.0 C697.3,213.3 715.2,214.0 715.9,214.5 C716.6,215.0 704.3,214.7 688.5,215.1 C672.7,215.6 633.5,216.5 621.1,217.2 C608.6,217.9 614.9,214.8 613.7,219.3 C612.5,223.9 613.3,235.2 613.7,244.6 C614.0,254.1 614.2,270.1 615.8,276.2 C617.4,282.4 611.8,279.9 623.2,281.5 C634.6,283.1 656.2,284.2 684.3,285.7 C712.4,287.2 790.0,289.3 791.7,290.6 C793.5,291.8 710.3,292.3 694.8,293.1 C679.4,293.9 704.3,294.5 699.0,295.2 C693.8,295.9 647.8,298.0 663.2,297.3 C678.7,296.6 786.5,291.5 791.7,291.1 C797.0,290.6 719.7,293.4 694.8,294.6 C669.9,295.9 654.8,296.4 642.1,298.4 C629.5,300.5 621.4,303.3 619.0,306.9 C616.5,310.4 624.9,314.9 627.4,319.5 C629.8,324.1 622.8,331.6 633.7,334.2 C644.6,336.9 684.3,334.2 692.7,335.3 C701.1,336.4 681.8,338.1 684.3,340.6 C686.7,343.0 701.8,347.9 707.5,350.1 C713.1,352.2 719.7,352.3 718.0,353.2 C716.2,354.1 707.8,354.1 696.9,355.3 C686.0,356.5 663.2,358.0 652.7,360.6 C642.1,363.2 623.5,368.7 633.7,371.1 C643.9,373.6 707.8,374.1 713.8,375.3 C719.7,376.6 678.3,376.9 669.5,378.5 C660.8,380.1 661.1,381.3 661.1,384.8 C661.1,388.3 663.9,396.1 669.5,399.6 C675.2,403.0 695.2,403.7 694.8,405.5 C694.5,407.2 666.4,408.3 667.4,410.1 C668.5,411.9 701.1,414.3 701.1,416.4 C701.1,418.5 673.0,420.6 667.4,422.7 C661.8,424.9 669.2,427.0 667.4,429.1 C665.7,431.2 656.5,433.5 656.9,435.4 C657.2,437.3 669.9,438.9 669.5,440.7 C669.2,442.4 656.9,444.0 654.8,445.9 C652.7,447.9 645.0,450.5 656.9,452.2 C668.8,454.0 724.3,455.4 726.4,456.5 C728.5,457.5 679.4,456.5 669.5,458.6 C659.7,460.7 666.7,466.3 667.4,469.1 C668.1,471.9 666.4,473.3 673.7,475.4 C681.1,477.5 711.3,479.3 711.7,481.7 C712.0,484.2 681.8,487.0 675.9,490.2 C669.9,493.3 674.1,498.2 675.9,500.7 C677.6,503.2 688.1,503.9 686.4,504.9 C684.6,506.0 670.2,504.9 665.3,507.0 C660.4,509.1 657.6,514.4 656.9,517.6 C656.2,520.7 662.9,523.7 661.1,526.0 C659.3,528.3 655.3,530.4 646.4,531.3 C637.4,532.1 613.7,531.3 607.2,531.3Z" fill="#d3d3d3" stroke="#d3d3d3" stroke-width="0.8"/>
<path d="M669.5,61.3 C674.1,61.6 694.8,62.5 696.9,63.0 C699.0,63.5 676.9,63.9 682.2,64.5 C687.4,65.1 729.2,66.0 728.5,66.6 C727.8,67.2 686.0,67.4 678.0,68.1 C669.9,68.8 671.3,70.0 680.1,70.8 C688.8,71.6 710.8,72.3 730.6,72.9 C750.5,73.5 793.5,73.9 799.1,74.4 C804.7,74.9 776.8,75.4 764.3,76.1 C751.9,76.8 736.3,77.8 724.3,78.6 C712.4,79.4 691.0,79.9 692.7,80.7 C694.5,81.5 730.6,82.8 734.9,83.4 C739.1,84.1 725.7,84.0 718.0,84.5 C710.3,85.0 694.1,85.9 688.5,86.6 C682.9,87.3 675.9,87.9 684.3,88.7 C692.7,89.5 734.1,90.6 739.1,91.2 C744.0,91.9 722.6,91.5 713.8,92.5 C705.0,93.5 690.8,96.0 686.4,97.1 C682.0,98.3 691.3,98.1 687.4,99.2 C683.6,100.4 671.8,102.3 663.2,103.9 C654.6,105.5 640.0,107.7 635.8,108.7 C631.6,109.8 622.8,109.4 637.9,110.2 C653.0,111.0 696.0,112.6 726.4,113.6 C756.8,114.6 823.7,115.3 820.2,116.1 C816.7,116.9 730.5,117.5 705.4,118.2 C680.2,118.9 674.6,119.3 669.5,120.3 C664.4,121.4 675.2,123.0 674.8,124.5 C674.4,126.1 667.2,128.4 667.4,129.8 C667.6,131.2 671.6,131.9 675.9,133.0 C680.1,134.0 693.1,135.2 692.7,136.1 C692.4,137.0 674.1,137.0 673.7,138.2 C673.4,139.5 685.7,141.7 690.6,143.5 C695.5,145.3 704.3,147.5 703.2,148.8 C702.2,150.0 693.1,150.3 684.3,150.9 C675.5,151.5 656.5,151.8 650.6,152.3 C644.6,152.9 652.0,153.2 648.5,154.0 C645.0,154.8 627.0,154.9 629.5,157.2 C632.0,159.5 663.2,165.4 663.2,167.7 C663.2,170.0 635.5,168.6 629.5,170.9 C623.5,173.2 625.6,178.8 627.4,181.4 C629.1,184.1 639.3,185.3 640.0,186.7 C640.7,188.1 631.3,187.9 631.6,189.9 C632.0,191.8 642.1,196.2 642.1,198.3 C642.1,200.4 632.3,201.1 631.6,202.5 C630.9,203.9 629.1,205.1 637.9,206.7 C646.7,208.3 671.3,210.7 684.3,212.0 C697.3,213.3 715.2,214.0 715.9,214.5 C716.6,215.0 704.3,214.7 688.5,215.1 C672.7,215.6 633.5,216.5 621.1,217.2 C608.6,217.9 614.9,214.8 613.7,219.3 C612.5,223.9 613.3,235.2 613.7,244.6 C614.0,254.1 614.2,270.1 615.8,276.2 C617.4,282.4 611.8,279.9 623.2,281.5 C634.6,283.1 656.2,284.2 684.3,285.7 C712.4,287.2 790.0,289.3 791.7,290.6 C793.5,291.8 710.3,292.3 694.8,293.1 C679.4,293.9 704.3,294.5 699.0,295.2 C693.8,295.9 647.8,298.0 663.2,297.3 C678.7,296.6 786.5,291.5 791.7,291.1 C797.0,290.6 719.7,293.4 694.8,294.6 C669.9,295.9 654.8,296.4 642.1,298.4 C629.5,300.5 621.4,303.3 619.0,306.9 C616.5,310.4 624.9,314.9 627.4,319.5 C629.8,324.1 622.8,331.6 633.7,334.2 C644.6,336.9 684.3,334.2 692.7,335.3 C701.1,336.4 681.8,338.1 684.3,340.6 C686.7,343.0 701.8,347.9 707.5,350.1 C713.1,352.2 719.7,352.3 718.0,353.2 C716.2,354.1 707.8,354.1 696.9,355.3 C686.0,356.5 663.2,358.0 652.7,360.6 C642.1,363.2 623.5,368.7 633.7,371.1 C643.9,373.6 707.8,374.1 713.8,375.3 C719.7,376.6 678.3,376.9 669.5,378.5 C660.8,380.1 661.1,381.3 661.1,384.8 C661.1,388.3 663.9,396.1 669.5,399.6 C675.2,403.0 695.2,403.7 694.8,405.5 C694.5,407.2 666.4,408.3 667.4,410.1 C668.5,411.9 701.1,414.3 701.1,416.4 C701.1,418.5 673.0,420.6 667.4,422.7 C661.8,424.9 669.2,427.0 667.4,429.1 C665.7,431.2 656.5,433.5 656.9,435.4 C657.2,437.3 669.9,438.9 669.5,440.7 C669.2,442.4 656.9,444.0 654.8,445.9 C652.7,447.9 645.0,450.5 656.9,452.2 C668.8,454.0 724.3,455.4 726.4,456.5 C728.5,457.5 679.4,456.5 669.5,458.6 C659.7,460.7 666.7,466.3 667.4,469.1 C668.1,471.9 666.4,473.3 673.7,475.4 C681.1,477.5 711.3,479.3 711.7,481.7 C712.0,484.2 681.8,487.0 675.9,490.2 C669.9,493.3 674.1,498.2 675.9,500.7 C677.6,503.2 688.1,503.9 686.4,504.9 C684.6,506.0 670.2,504.9 665.3,507.0 C660.4,509.1 657.6,514.4 656.9,517.6 C656.2,520.7 662.9,523.7 661.1,526.0 C659.3,528.3 648.8,530.4 646.4,531.3" stroke="#a0a0a0" stroke-width="2.2"/>
<path d="M611.6,61.3 C611.4,62.4 610.4,65.2 610.5,67.6 C610.7,70.1 612.6,73.3 612.6,76.1 C612.6,78.9 610.2,82.0 610.5,84.5 C610.9,87.0 614.7,89.1 614.7,91.2 C614.7,93.3 611.1,94.1 610.5,97.1 C610.0,100.2 610.4,106.6 611.6,109.8 C612.8,112.9 617.9,114.5 617.9,116.1 C617.9,117.7 612.8,117.2 611.6,119.3 C610.4,121.4 610.5,124.7 610.5,128.7 C610.5,132.8 611.8,138.9 611.6,143.5 C611.4,148.1 609.7,151.2 609.5,156.1 C609.3,161.1 610.5,167.4 610.5,173.0 C610.5,178.6 609.5,184.9 609.5,189.9 C609.5,194.8 610.2,198.6 610.5,202.5 C610.9,206.4 610.9,210.9 611.6,213.0 C612.3,215.2 615.3,214.7 614.7,215.6 C614.2,216.4 609.6,217.3 608.4,218.3 C607.2,219.3 607.7,211.8 607.6,221.5 C607.4,231.1 607.3,266.1 607.6,276.2 C607.9,286.4 607.4,280.3 609.5,282.6 C611.6,284.8 619.8,288.2 620.0,289.9 C620.2,291.7 611.8,291.9 610.5,293.1 C609.3,294.3 612.3,297.5 612.6,297.3 C613.0,297.1 613.2,291.9 612.6,292.1 C612.1,292.3 610.2,294.6 609.5,298.4 C608.8,302.3 608.4,309.0 608.4,315.3 C608.4,321.6 608.8,331.4 609.5,336.4 C610.2,341.3 612.5,342.0 612.6,344.8 C612.8,347.6 610.7,348.3 610.5,353.2 C610.4,358.1 611.6,367.3 611.6,374.3 C611.6,381.3 610.5,388.3 610.5,395.4 C610.5,402.4 611.6,409.4 611.6,416.4 C611.6,423.4 610.2,430.8 610.5,437.5 C610.9,444.2 613.3,451.2 613.7,456.5 C614.0,461.7 611.8,465.2 612.6,469.1 C613.5,473.0 617.7,476.1 619.0,479.6 C620.2,483.1 620.0,486.0 620.0,490.2 C620.0,494.4 619.3,501.1 619.0,504.9 C618.6,508.8 618.6,510.5 617.9,513.3 C617.2,516.2 615.6,518.8 614.7,521.8 C613.9,524.8 613.0,529.7 612.6,531.3" stroke="#ff0000" stroke-width="2.2"/>
<path d="M668.5,61.3 C670.4,61.7 677.4,62.9 680.1,63.4 C682.7,64.0 679.4,64.0 684.3,64.5 C689.2,65.0 711.0,65.9 709.6,66.6 C708.2,67.3 681.5,68.0 675.9,68.7 C670.2,69.4 668.5,69.9 675.9,70.8 C683.2,71.7 703.6,73.4 720.1,74.0 C736.6,74.6 774.5,74.0 774.9,74.4 C775.2,74.7 730.3,75.6 722.2,76.1 C714.1,76.5 732.0,76.2 726.4,77.1 C720.8,78.0 690.3,80.5 688.5,81.3 C686.7,82.2 717.3,81.7 715.9,82.4 C714.5,83.1 686.4,84.5 680.1,85.6 C673.7,86.6 672.3,87.8 678.0,88.7 C683.6,89.7 712.0,90.7 713.8,91.2 C715.5,91.8 695.5,91.6 688.5,91.9 C681.5,92.2 677.6,91.7 671.6,92.9 C665.7,94.2 656.0,98.0 652.7,99.2 C649.3,100.5 649.9,100.5 651.6,100.3 C653.4,100.1 665.5,97.3 663.2,98.2 C660.9,99.1 643.2,103.8 637.9,105.6 C632.7,107.3 632.0,108.0 631.6,108.7 C631.3,109.5 627.0,109.7 635.8,110.2 C644.6,110.7 669.2,111.3 684.3,111.9 C699.4,112.5 709.2,112.9 726.4,113.6 C743.6,114.3 791.0,115.3 787.5,116.1 C784.0,116.9 725.7,117.7 705.4,118.2 C685.0,118.7 673.7,118.6 665.3,119.3 C656.9,120.0 655.5,121.4 654.8,122.4 C654.1,123.5 661.5,124.4 661.1,125.6 C660.8,126.8 654.1,128.6 652.7,129.8 C651.3,131.0 650.9,132.1 652.7,133.0 C654.4,133.8 660.1,134.4 663.2,135.1 C666.4,135.8 671.6,136.6 671.6,137.2 C671.6,137.7 665.0,137.7 663.2,138.2 C661.5,138.8 659.7,140.0 661.1,140.3 C662.5,140.7 668.8,139.8 671.6,140.3 C674.4,140.9 675.9,141.9 678.0,143.5 C680.1,145.1 685.3,148.6 684.3,149.8 C683.2,151.0 679.7,150.5 671.6,150.9 C663.6,151.2 642.5,151.7 635.8,151.9 C629.1,152.2 633.7,151.8 631.6,152.3 C629.5,152.9 624.6,153.7 623.2,155.1 C621.8,156.4 621.8,158.8 623.2,160.4 C624.6,161.9 627.7,163.3 631.6,164.6 C635.5,165.8 646.4,166.8 646.4,167.7 C646.4,168.6 635.6,169.3 631.6,169.8 C627.6,170.4 623.9,169.0 622.1,170.9 C620.4,172.8 620.5,178.8 621.1,181.4 C621.6,184.1 623.4,185.7 625.3,186.7 C627.2,187.7 632.8,186.8 632.7,187.3 C632.5,187.8 625.3,189.1 624.2,189.9 C623.2,190.6 624.9,190.7 626.3,192.0 C627.7,193.2 632.7,196.2 632.7,197.2 C632.7,198.3 627.6,197.4 626.3,198.3 C625.1,199.2 624.4,201.1 625.3,202.5 C626.2,203.9 627.0,205.3 631.6,206.7 C636.2,208.1 642.8,209.7 652.7,210.9 C662.5,212.1 696.6,213.0 690.6,214.1 C684.6,215.1 629.8,216.4 616.9,217.2 C603.9,218.1 613.3,214.8 612.6,219.3 C611.9,223.9 612.3,235.2 612.6,244.6 C613.0,254.1 613.3,270.1 614.7,276.2 C616.2,282.4 613.0,280.1 621.1,281.5 C629.1,282.9 641.4,283.3 663.2,284.7 C685.0,286.1 751.7,288.9 751.7,289.9 C751.7,291.0 679.7,290.5 663.2,291.0 C646.7,291.5 650.6,292.4 652.7,293.1 C654.8,293.8 677.6,294.5 675.9,295.2 C674.1,295.9 629.5,298.0 642.1,297.3 C654.8,296.6 750.0,291.6 751.7,291.1 C753.5,290.5 665.3,293.1 652.7,293.8 C640.0,294.5 677.6,294.7 675.9,295.3 C674.1,295.9 648.8,296.7 642.1,297.4 C635.5,298.1 640.0,298.1 635.8,299.5 C631.6,300.9 620.2,303.9 616.9,305.8 C613.5,307.7 615.1,309.1 615.8,311.1 C616.5,313.0 619.8,314.2 621.1,317.4 C622.3,320.6 621.4,327.2 623.2,330.0 C624.9,332.8 623.2,333.4 631.6,334.2 C640.0,335.1 669.2,334.8 673.7,335.3 C678.3,335.8 659.7,336.5 659.0,337.4 C658.3,338.3 672.7,338.5 669.5,340.6 C666.4,342.7 638.3,348.3 640.0,350.1 C641.8,351.8 672.0,350.6 680.1,351.1 C688.1,351.6 690.3,352.5 688.5,353.2 C686.7,353.9 677.3,353.9 669.5,355.3 C661.8,356.7 648.8,359.4 642.1,361.6 C635.5,363.9 630.9,367.4 629.5,369.0 C628.1,370.6 624.6,370.2 633.7,371.1 C642.8,372.0 681.1,372.7 684.3,374.3 C687.4,375.9 658.6,378.5 652.7,380.6 C646.7,382.7 648.8,384.1 648.5,386.9 C648.1,389.7 651.6,395.0 650.6,397.5 C649.5,399.9 641.8,400.6 642.1,401.7 C642.5,402.7 646.7,403.1 652.7,403.8 C658.6,404.4 677.6,404.8 678.0,405.5 C678.3,406.2 658.6,406.9 654.8,408.0 C650.9,409.1 651.3,410.8 654.8,412.2 C658.3,413.6 678.0,415.0 675.9,416.4 C673.7,417.8 646.4,418.9 642.1,420.6 C637.9,422.4 650.9,425.2 650.6,427.0 C650.2,428.7 641.4,429.4 640.0,431.2 C638.6,432.9 641.4,435.7 642.1,437.5 C642.8,439.2 644.2,439.2 644.2,441.7 C644.2,444.2 632.3,449.8 642.1,452.2 C652.0,454.7 699.7,455.6 703.2,456.5 C706.8,457.3 671.6,456.1 663.2,457.5 C654.8,458.9 654.1,462.3 652.7,464.9 C651.3,467.5 653.0,470.9 654.8,473.3 C656.5,475.8 659.7,478.2 663.2,479.6 C666.7,481.0 677.6,480.7 675.9,481.7 C674.1,482.8 657.6,484.2 652.7,486.0 C647.8,487.7 647.8,489.1 646.4,492.3 C645.0,495.4 646.0,501.4 644.2,504.9 C642.5,508.4 636.9,510.2 635.8,513.3 C634.8,516.5 639.0,520.9 637.9,523.9 C636.9,526.9 630.9,530.0 629.5,531.3" stroke="#0000ff" stroke-width="2.4"/>
<path d="M608.0,60.0 L608.0,535.0" stroke="#008000" stroke-width="1.6"/>
</g>
<path d="M124.5,296.5H573.3" stroke="#2a2a2a" stroke-width="1.1"/>
<rect x="124.5" y="62.5" width="448.8" height="467.9" fill="none" stroke="#a8a8a8" stroke-width="1"/>
<path d="M607.2,296.5H831.4" stroke="#000" stroke-width="1"/>
<rect x="607.2" y="62.5" width="224.2" height="467.9" fill="none" stroke="#a8a8a8" stroke-width="1"/>
<text x="117.0" y="72.9" font-size="28" text-anchor="end" textLength="42.5" lengthAdjust="spacingAndGlyphs" >1.5</text>
<text x="117.0" y="150.5" font-size="28" text-anchor="end" textLength="42.5" lengthAdjust="spacingAndGlyphs" >1.0</text>
<text x="117.0" y="228.7" font-size="28" text-anchor="end" textLength="42.5" lengthAdjust="spacingAndGlyphs" >0.5</text>
<text x="117.0" y="307.3" font-size="28" text-anchor="end" textLength="42.5" lengthAdjust="spacingAndGlyphs" >0.0</text>
<text x="117.0" y="384.5" font-size="28" text-anchor="end" textLength="67.5" lengthAdjust="spacingAndGlyphs" >−0.5</text>
<text x="117.0" y="462.6" font-size="28" text-anchor="end" textLength="67.5" lengthAdjust="spacingAndGlyphs" >−1.0</text>
<text x="117.0" y="540.6" font-size="28" text-anchor="end" textLength="67.5" lengthAdjust="spacingAndGlyphs" >−1.5</text>
<text x="118.8" y="565.9" font-size="29.5" text-anchor="middle" textLength="20.8" lengthAdjust="spacingAndGlyphs" font-style="italic">Γ</text>
<text x="153.6" y="565.9" font-size="29.5" text-anchor="middle" textLength="21.0" lengthAdjust="spacingAndGlyphs" font-style="italic">Z</text>
<text x="235.0" y="565.9" font-size="29.5" text-anchor="middle" textLength="22.6" lengthAdjust="spacingAndGlyphs" font-style="italic">F</text>
<text x="317.9" y="565.9" font-size="29.5" text-anchor="middle" textLength="20.8" lengthAdjust="spacingAndGlyphs" font-style="italic">Γ</text>
<text x="400.0" y="565.9" font-size="29.5" text-anchor="middle" textLength="21.5" lengthAdjust="spacingAndGlyphs" font-style="italic">L</text>
<text x="492.0" y="565.9" font-size="29.5" text-anchor="middle" textLength="21.0" lengthAdjust="spacingAndGlyphs" font-style="italic">Z</text>
<text x="572.9" y="565.9" font-size="29.5" text-anchor="middle" textLength="24.5" lengthAdjust="spacingAndGlyphs" font-style="italic">P</text>
<text x="717.9" y="567.6" font-size="30" text-anchor="middle" textLength="69.4" lengthAdjust="spacingAndGlyphs" >DOS</text>
<rect x="124.5" y="62.5" width="113" height="113" fill="#fff" fill-opacity="0.86" stroke="#aaa" stroke-width="1"/>
<g clip-path="url(#tria)"><g filter="url(#gam)"><rect x="151.2" y="96.1" width="57.7" height="49.4" fill="url(#gRa)"/><rect x="151.2" y="96.1" width="57.7" height="49.4" fill="url(#gGa)" style="mix-blend-mode:screen"/><rect x="151.2" y="96.1" width="57.7" height="49.4" fill="url(#gBa)" style="mix-blend-mode:screen"/></g></g>
<text x="177.8" y="88.8" font-size="27" text-anchor="middle" >Sb</text>
<text x="140.4" y="163.1" font-size="27" text-anchor="middle" >V</text>
<text x="216.9" y="163.1" font-size="27" text-anchor="middle" >Cs</text>
<path d="M1023.2,62.4V529.3M1103.5,62.4V529.3M1187.3,62.4V529.3M1268.5,62.4V529.3M1360.0,62.4V529.3M989.6,451.5H1437.5M989.6,373.7H1437.5M989.6,218.0H1437.5M989.6,140.2H1437.5" fill="none" stroke="#8a8a8a" stroke-width="0.9" stroke-dasharray="1.4,1.6"/>
<path d="M1498.6,62.4V529.3M1526.3,62.4V529.3M1554.0,62.4V529.3M1581.4,62.4V529.3M1608.8,62.4V529.3M1636.6,62.4V529.3M1664.2,62.4V529.3M1691.6,62.4V529.3M1471.6,451.5H1695.5M1471.6,373.7H1695.5M1471.6,218.0H1695.5M1471.6,140.2H1695.5" fill="none" stroke="#8a8a8a" stroke-width="0.9" stroke-dasharray="1.4,1.6"/>
<g clip-path="url(#clipb)" fill="none" stroke-linecap="round" stroke-linejoin="round">
<path d="M986.2,129.2C987.4,129.2 988.5,129.2 989.6,129.2C1000.8,129.2 1012.0,129.2 1023.2,129.2C1031.2,129.2 1039.3,133.9 1047.3,140.1C1054.0,145.3 1060.7,155.4 1067.4,163.5C1072.7,169.9 1078.1,178.3 1083.4,183.7C1090.1,190.5 1096.8,200.4 1103.5,200.4C1110.5,200.4 1117.5,190.5 1124.5,183.7C1130.0,178.3 1135.6,169.9 1141.2,163.5C1148.2,155.4 1155.2,145.4 1162.2,140.1C1170.5,133.8 1178.9,128.8 1187.3,128.8C1195.4,128.8 1203.5,136.4 1211.7,143.6C1218.7,149.7 1225.7,160.7 1232.8,168.8C1239.8,176.8 1246.8,186.0 1253.9,192.0C1258.8,196.1 1263.6,199.3 1268.5,199.3C1274.0,199.3 1279.5,195.0 1285.0,189.9C1292.0,183.5 1299.0,172.6 1306.0,164.6C1313.0,156.5 1320.0,147.1 1327.1,141.5C1334.1,135.9 1341.1,133.7 1348.1,130.9C1352.1,129.4 1356.0,128.8 1360.0,128.8C1366.7,128.8 1373.4,133.7 1380.2,139.4C1386.9,145.0 1393.6,155.0 1400.3,162.4C1407.5,170.4 1414.8,178.2 1422.0,185.6C1427.2,190.9 1432.3,195.4 1437.5,200.4C1440.1,203.1 1442.7,205.9 1445.2,208.6" stroke="#1800f4" stroke-width="2.3"/>
<path d="M1047.3,46.7C1055.3,54.5 1063.4,63.2 1071.4,70.1" stroke="#7000d4" stroke-width="2.3"/><path d="M1071.4,70.1C1082.1,79.3 1092.8,95.0 1103.5,95.0" stroke="#5100df" stroke-width="2.3"/><path d="M1103.5,95.0C1107.4,95.0 1111.3,103.4 1115.2,109.0" stroke="#3500e9" stroke-width="2.3"/><path d="M1115.2,109.0C1119.7,115.4 1124.2,124.8 1128.6,130.8" stroke="#2c00ed" stroke-width="2.3"/><path d="M1128.6,130.8C1131.4,134.5 1134.2,138.3 1137.0,138.3" stroke="#4300e4" stroke-width="2.3"/><path d="M1137.0,138.3C1140.4,138.3 1143.7,135.1 1147.1,130.8" stroke="#5700dd" stroke-width="2.3"/><path d="M1147.1,130.8C1151.3,125.4 1155.5,116.8 1159.6,109.0" stroke="#6f00d4" stroke-width="2.3"/><path d="M1159.6,109.0C1163.3,102.3 1166.9,92.6 1170.5,87.2C1173.3,83.0 1176.1,81.5 1178.9,80.2C1181.7,78.9 1184.5,79.3 1187.3,79.3C1191.9,79.3 1196.5,87.1 1201.1,93.4C1206.0,100.1 1210.8,111.1 1215.7,118.3" stroke="#7000d4" stroke-width="2.3"/><path d="M1215.7,118.3C1219.8,124.3 1223.8,131.2 1227.9,133.0" stroke="#5e00db" stroke-width="2.3"/><path d="M1227.9,133.0C1231.1,134.4 1234.4,129.4 1237.6,127.7" stroke="#4a00e2" stroke-width="2.3"/><path d="M1237.6,127.7C1243.1,124.8 1248.5,120.8 1253.9,119.3C1258.8,117.9 1263.6,119.1 1268.5,119.1C1271.2,119.1 1274.0,118.2 1276.7,119.3C1281.6,121.1 1286.5,124.3 1291.4,127.7" stroke="#4400e4" stroke-width="2.3"/><path d="M1291.4,127.7C1296.3,131.0 1301.1,140.1 1306.0,139.5" stroke="#6500d4" stroke-width="2.3"/><path d="M1306.0,139.5C1309.7,139.1 1313.3,131.2 1317.0,124.6" stroke="#8800c4" stroke-width="2.3"/><path d="M1317.0,124.6C1320.4,118.5 1323.7,108.7 1327.1,101.2" stroke="#8700c6" stroke-width="2.3"/><path d="M1327.1,101.2C1330.7,93.1 1334.4,84.6 1338.0,77.9" stroke="#7b00cd" stroke-width="2.3"/><path d="M1338.0,77.9C1341.4,71.7 1344.8,67.1 1348.1,62.3C1350.5,58.8 1353.0,56.1 1355.4,53.0" stroke="#7000d4" stroke-width="2.3"/>
<path d="M1039.3,70.1C1047.3,72.7 1055.3,75.4 1063.3,77.9C1076.7,82.0 1090.1,89.8 1103.5,89.8C1111.9,89.8 1120.3,89.8 1128.6,88.8C1135.6,87.9 1142.6,88.3 1149.6,84.1C1152.9,82.1 1156.3,75.1 1159.6,70.1C1161.9,66.8 1164.1,64.0 1166.3,59.2C1167.7,56.2 1169.1,50.9 1170.5,46.7" stroke="#7000d4" stroke-width="2.3"/>
<path d="M1141.2,46.7C1144.0,51.4 1146.8,58.1 1149.6,60.7C1156.6,67.4 1163.6,71.3 1170.5,74.7C1176.1,77.5 1181.7,79.3 1187.3,79.3C1191.9,79.3 1196.5,78.0 1201.1,76.3C1204.6,75.0 1208.1,73.5 1211.7,70.1C1215.7,66.2 1219.8,59.7 1223.8,54.5" stroke="#7000d4" stroke-width="2.3"/>
<path d="M1199.5,46.7C1203.5,56.1 1207.6,67.0 1211.7,74.7C1215.7,82.5 1219.8,88.5 1223.8,93.4C1226.8,97.0 1229.8,100.3 1232.8,100.3C1237.9,100.3 1243.1,97.6 1248.2,93.4" stroke="#c00090" stroke-width="2.3"/><path d="M1248.2,93.4C1252.3,90.1 1256.3,82.0 1260.4,77.9" stroke="#7200c5" stroke-width="2.3"/><path d="M1260.4,77.9C1263.1,75.1 1265.8,72.9 1268.5,72.9" stroke="#4b00e1" stroke-width="2.3"/><path d="M1268.5,72.9C1272.2,72.9 1275.8,76.9 1279.5,79.4" stroke="#5b00db" stroke-width="2.3"/><path d="M1279.5,79.4C1283.4,82.2 1287.4,86.7 1291.4,88.8" stroke="#6e00d5" stroke-width="2.3"/><path d="M1291.4,88.8C1296.0,91.1 1300.5,93.2 1305.1,92.5" stroke="#7a00ce" stroke-width="2.3"/><path d="M1305.1,92.5C1311.2,91.6 1317.3,87.8 1323.4,84.1" stroke="#8800c5" stroke-width="2.3"/><path d="M1323.4,84.1C1329.5,80.4 1335.6,74.8 1341.7,70.1C1346.3,66.5 1350.8,63.5 1355.4,59.2C1357.0,57.8 1358.5,53.0 1360.0,53.0" stroke="#9000c0" stroke-width="2.3"/>
<path d="M1087.4,46.7C1092.8,54.5 1098.1,70.1 1103.5,70.1C1106.3,70.1 1109.1,64.4 1111.9,59.2C1113.3,56.6 1114.7,50.9 1116.1,46.7" stroke="#7000d4" stroke-width="2.3"/>
<path d="M1355.4,46.7C1357.0,49.3 1358.5,52.0 1360.0,54.6" stroke="#7000d4" stroke-width="2.3"/><path d="M1360.0,54.6C1361.3,57.2 1362.6,59.8 1363.9,62.3" stroke="#7200d3" stroke-width="2.3"/><path d="M1363.9,62.3C1369.3,72.8 1374.7,83.6 1380.2,93.4" stroke="#7c00cc" stroke-width="2.3"/><path d="M1380.2,93.4C1385.1,102.3 1390.0,111.5 1394.9,118.3" stroke="#8c00c2" stroke-width="2.3"/><path d="M1394.9,118.3C1397.7,122.3 1400.6,125.4 1403.4,125.7" stroke="#a900a7" stroke-width="2.3"/><path d="M1403.4,125.7C1406.0,125.9 1408.6,122.4 1411.2,119.9" stroke="#bc0093" stroke-width="2.3"/><path d="M1411.2,119.9C1414.8,116.4 1418.4,109.7 1422.0,107.4" stroke="#8c00bc" stroke-width="2.3"/><path d="M1422.0,107.4C1427.2,104.2 1432.3,104.7 1437.5,103.4C1440.1,103.2 1442.7,103.0 1445.2,102.8" stroke="#7000d4" stroke-width="2.3"/>
<path d="M1360.0,46.7C1363.1,46.7 1366.2,59.3 1369.3,62.3C1376.3,69.1 1383.2,71.3 1390.2,76.3C1395.6,80.2 1401.1,85.7 1406.5,88.8C1411.7,91.6 1416.8,95.3 1422.0,94.1C1427.2,92.8 1432.3,85.6 1437.5,81.4C1440.1,79.2 1442.7,77.0 1445.2,74.7" stroke="#9000c0" stroke-width="2.3"/>
<path d="M986.2,77.9C987.4,77.9 988.5,77.9 989.6,77.9C996.3,77.9 1003.0,73.2 1009.8,70.1C1014.2,68.0 1018.7,62.3 1023.2,62.3C1031.2,62.3 1039.3,51.9 1047.3,46.7" stroke="#7000d4" stroke-width="2.3"/>
<path d="M986.2,59.2C987.4,59.2 988.5,59.2 989.6,59.2C995.2,59.2 1000.8,61.5 1006.4,62.3C1012.0,63.1 1017.6,63.9 1023.2,63.9C1036.6,63.9 1050.0,65.9 1063.3,62.3C1071.4,60.2 1079.4,51.9 1087.4,46.7" stroke="#7000d4" stroke-width="2.3"/>
<path d="M986.2,206.6C987.4,206.6 988.5,206.6 989.6,206.6C1000.8,206.6 1012.0,209.7 1023.2,209.7C1031.5,209.7 1039.8,206.1 1048.1,204.4C1055.1,203.0 1062.0,200.8 1069.0,200.4C1073.8,200.1 1078.6,200.9 1083.4,202.4C1090.1,204.4 1096.8,210.8 1103.5,210.8C1110.2,210.8 1116.9,206.3 1123.6,204.4C1129.5,202.8 1135.3,200.7 1141.2,200.4C1149.3,200.0 1157.4,201.3 1165.5,202.4C1172.8,203.4 1180.0,206.6 1187.3,206.6C1191.9,206.6 1196.5,206.3 1201.1,205.5C1211.7,203.8 1222.2,200.4 1232.8,199.3C1238.2,198.7 1243.6,199.6 1249.0,200.4C1255.5,201.3 1262.0,204.4 1268.5,204.4C1274.0,204.4 1279.5,201.0 1285.0,200.4C1292.0,199.5 1299.0,199.6 1306.0,199.9C1313.0,200.2 1320.0,200.9 1327.1,202.4C1334.1,203.9 1341.1,207.2 1348.1,208.8C1352.1,209.7 1356.0,209.7 1360.0,209.7C1366.7,209.7 1373.4,205.9 1380.2,204.4C1387.9,202.8 1395.6,200.1 1403.4,200.4C1408.0,200.5 1412.7,204.2 1417.3,205.5C1424.1,207.4 1430.8,208.3 1437.5,209.7C1440.1,209.9 1442.7,210.0 1445.2,210.2" stroke="#1800f4" stroke-width="2.3"/>
<path d="M986.2,206.6C987.4,206.6 988.5,206.6 989.6,206.6C1000.8,206.6 1012.0,209.7 1023.2,209.7C1031.5,209.7 1039.8,214.5 1048.1,217.2C1052.9,218.7 1057.7,222.0 1062.5,222.5C1064.7,222.7 1066.8,221.9 1069.0,219.4C1071.4,216.6 1073.8,208.9 1076.2,206.6C1078.6,204.3 1081.0,204.4 1083.4,205.5C1086.9,207.2 1090.4,211.9 1093.9,215.0C1097.1,217.9 1100.3,223.6 1103.5,223.6C1107.4,223.6 1111.3,218.4 1115.2,215.0C1119.4,211.4 1123.6,204.0 1127.8,202.4C1130.9,201.2 1133.9,203.3 1137.0,206.6C1139.8,209.6 1142.6,218.7 1145.4,221.4C1148.2,224.0 1151.0,223.3 1153.8,222.5C1160.8,220.5 1167.7,216.3 1174.7,213.0C1178.9,211.0 1183.1,206.6 1187.3,206.6C1190.5,206.6 1193.8,209.3 1197.0,210.8C1202.7,213.5 1208.4,217.0 1214.1,219.4C1218.4,221.2 1222.8,225.3 1227.1,223.6C1229.8,222.5 1232.5,214.7 1235.2,210.8C1237.9,206.9 1240.6,200.2 1243.3,200.4C1247.7,200.6 1252.0,207.9 1256.3,211.9C1260.4,215.6 1264.4,223.6 1268.5,223.6C1272.8,223.6 1277.0,214.6 1281.3,210.8C1286.2,206.5 1291.1,200.1 1296.0,199.3C1299.3,198.7 1302.7,202.9 1306.0,206.6C1309.7,210.6 1313.3,220.7 1317.0,222.5C1321.9,224.9 1326.8,220.9 1331.6,219.4C1337.1,217.7 1342.6,214.9 1348.1,213.0C1352.1,211.6 1356.0,209.7 1360.0,209.7C1366.7,209.7 1373.4,212.8 1380.2,215.0C1386.4,217.0 1392.5,223.3 1398.8,222.5C1402.9,221.9 1407.0,213.6 1411.2,210.8C1414.8,208.3 1418.4,205.0 1422.0,206.6C1427.2,208.9 1432.3,217.2 1437.5,222.5C1440.1,223.6 1442.7,224.7 1445.2,225.7" stroke="#1800f4" stroke-width="2.3"/>
<path d="M986.2,451.5C987.4,451.6 988.5,451.8 989.6,451.8C994.1,451.8 998.6,449.7 1003.0,451.5C1009.8,454.1 1016.5,464.7 1023.2,464.7" stroke="#7000d4" stroke-width="2.3"/><path d="M1023.2,464.7C1025.9,464.7 1028.6,453.7 1031.2,443.7" stroke="#3a00e8" stroke-width="2.3"/><path d="M1031.2,443.7C1033.9,433.7 1036.6,420.3 1039.3,404.8" stroke="#3400ea" stroke-width="2.3"/><path d="M1039.3,404.8C1041.9,389.2 1044.6,367.7 1047.3,350.3" stroke="#4c00e1" stroke-width="2.3"/><path d="M1047.3,350.3C1050.0,332.9 1052.6,319.0 1055.3,300.5" stroke="#6400d8" stroke-width="2.3"/><path d="M1055.3,300.5C1057.7,283.8 1060.1,256.7 1062.5,244.6C1064.7,233.8 1066.8,234.3 1069.0,232.0C1071.4,229.4 1073.8,230.1 1076.2,229.8C1085.3,228.7 1094.4,227.8 1103.5,227.8C1113.0,227.8 1122.5,229.4 1132.0,230.9" stroke="#7000d4" stroke-width="2.3"/><path d="M1132.0,230.9C1135.6,231.5 1139.3,229.0 1142.9,234.0" stroke="#7100d3" stroke-width="2.3"/><path d="M1142.9,234.0C1145.1,237.1 1147.4,246.8 1149.6,255.0" stroke="#8d00bb" stroke-width="2.3"/><path d="M1149.6,255.0C1152.9,267.4 1156.3,283.3 1159.6,295.8" stroke="#a800a4" stroke-width="2.3"/><path d="M1159.6,295.8C1162.7,307.3 1165.8,318.7 1168.9,326.9" stroke="#c3008c" stroke-width="2.3"/><path d="M1168.9,326.9C1172.2,335.9 1175.6,342.0 1178.9,347.2" stroke="#cf007a" stroke-width="2.3"/><path d="M1178.9,347.2C1181.7,351.5 1184.5,355.4 1187.3,355.4C1190.0,355.4 1192.7,351.9 1195.4,347.2" stroke="#db0068" stroke-width="2.3"/><path d="M1195.4,347.2C1198.1,342.4 1200.8,335.5 1203.5,326.9" stroke="#d00078" stroke-width="2.3"/><path d="M1203.5,326.9C1206.2,318.4 1209.0,306.2 1211.7,295.8" stroke="#c50088" stroke-width="2.3"/><path d="M1211.7,295.8C1215.2,282.2 1218.7,267.2 1222.2,255.0" stroke="#a600a6" stroke-width="2.3"/><path d="M1222.2,255.0C1224.9,245.6 1227.6,234.4 1230.3,230.9" stroke="#7800cd" stroke-width="2.3"/><path d="M1230.3,230.9C1234.7,225.3 1239.0,228.5 1243.3,227.8C1251.7,226.4 1260.1,224.7 1268.5,224.7C1277.7,224.7 1286.8,229.0 1296.0,230.9C1300.2,231.8 1304.5,228.0 1308.8,232.9" stroke="#7000d4" stroke-width="2.3"/><path d="M1308.8,232.9C1311.5,236.1 1314.2,245.6 1317.0,255.0" stroke="#7900ce" stroke-width="2.3"/><path d="M1317.0,255.0C1320.4,266.5 1323.7,283.8 1327.1,295.8" stroke="#8400c8" stroke-width="2.3"/><path d="M1327.1,295.8C1330.4,307.8 1333.8,319.0 1337.1,326.9" stroke="#8f00c0" stroke-width="2.3"/><path d="M1337.1,326.9C1341.7,337.7 1346.3,345.7 1350.9,351.8" stroke="#8300c8" stroke-width="2.3"/><path d="M1350.9,351.8C1353.9,355.9 1357.0,357.4 1360.0,357.4" stroke="#7500d1" stroke-width="2.3"/><path d="M1360.0,357.4C1363.1,357.4 1366.2,353.1 1369.3,347.2C1372.9,340.3 1376.5,330.0 1380.2,319.2C1382.2,312.9 1384.3,305.9 1386.3,295.8C1388.7,284.5 1391.0,263.5 1393.3,255.0C1397.2,240.8 1401.1,231.6 1405.0,227.8C1410.6,222.2 1416.3,226.9 1422.0,226.7C1427.2,226.5 1432.3,226.7 1437.5,226.7C1440.1,226.7 1442.7,226.7 1445.2,226.7" stroke="#7000d4" stroke-width="2.3"/>
<path d="M1023.2,408.8C1027.8,408.8 1032.3,398.7 1036.9,389.2" stroke="#3400ea" stroke-width="2.3"/><path d="M1036.9,389.2C1041.7,379.2 1046.5,365.9 1051.3,350.3" stroke="#4d00e0" stroke-width="2.3"/><path d="M1051.3,350.3C1055.3,337.3 1059.3,317.4 1063.3,303.6" stroke="#6500d8" stroke-width="2.3"/><path d="M1063.3,303.6C1067.1,290.7 1070.8,278.7 1074.6,270.0C1077.8,262.5 1081.0,257.3 1084.2,255.0C1090.7,250.5 1097.1,249.7 1103.5,249.7C1109.6,249.7 1115.8,249.5 1121.9,250.8C1127.0,251.9 1132.0,253.9 1137.0,257.0C1139.8,258.8 1142.6,260.7 1145.4,265.6C1148.2,270.5 1151.0,278.4 1153.8,286.6" stroke="#7000d4" stroke-width="2.3"/><path d="M1153.8,286.6C1158.0,298.9 1162.2,312.4 1166.3,326.9" stroke="#7600d0" stroke-width="2.3"/><path d="M1166.3,326.9C1170.5,341.4 1174.7,360.8 1178.9,373.6" stroke="#8200c9" stroke-width="2.3"/><path d="M1178.9,373.6C1181.7,382.2 1184.5,391.1 1187.3,391.1" stroke="#8c00c2" stroke-width="2.3"/><path d="M1187.3,391.1C1190.0,391.1 1192.7,381.1 1195.4,373.6" stroke="#8300c6" stroke-width="2.3"/><path d="M1195.4,373.6C1199.5,362.4 1203.5,344.9 1207.6,334.7" stroke="#6400d5" stroke-width="2.3"/><path d="M1207.6,334.7C1213.3,320.5 1219.0,310.1 1224.7,300.5C1230.9,289.9 1237.1,281.1 1243.3,274.2C1248.5,268.4 1253.6,265.1 1258.8,262.5C1262.0,260.9 1265.3,261.6 1268.5,261.6C1274.0,261.6 1279.5,260.8 1285.0,262.5C1290.8,264.3 1296.6,267.6 1302.4,272.0C1307.2,275.7 1312.1,281.0 1317.0,286.6C1320.4,290.5 1323.7,291.2 1327.1,300.5" stroke="#4400e4" stroke-width="2.3"/><path d="M1327.1,300.5C1330.4,309.8 1333.8,329.6 1337.1,342.5" stroke="#6900c5" stroke-width="2.3"/><path d="M1337.1,342.5C1340.8,356.6 1344.4,372.6 1348.1,381.4" stroke="#96009f" stroke-width="2.3"/><path d="M1348.1,381.4C1352.1,390.9 1356.0,397.5 1360.0,397.5" stroke="#c70075" stroke-width="2.3"/><path d="M1360.0,397.5C1363.1,397.5 1366.2,383.7 1369.3,373.6" stroke="#c1007a" stroke-width="2.3"/><path d="M1369.3,373.6C1372.7,362.8 1376.0,346.5 1379.4,334.7" stroke="#8000b1" stroke-width="2.3"/><path d="M1379.4,334.7C1383.0,322.1 1386.6,308.5 1390.2,300.5C1395.6,288.4 1401.1,281.6 1406.5,274.2C1411.7,267.1 1416.8,260.9 1422.0,257.2C1427.2,253.5 1432.3,253.7 1437.5,251.9C1440.1,251.5 1442.7,251.1 1445.2,250.7" stroke="#4400e4" stroke-width="2.3"/>
<path d="M1023.2,473.3C1026.9,473.3 1030.7,477.7 1034.4,474.4C1038.7,470.5 1043.0,460.9 1047.3,451.5C1050.2,445.0 1053.2,437.1 1056.1,426.6C1059.1,416.0 1062.0,400.6 1065.0,388.1C1068.4,373.4 1071.9,358.7 1075.4,345.1C1078.3,333.7 1081.3,325.8 1084.2,313.2C1086.4,304.1 1088.5,288.3 1090.7,280.2C1092.8,272.1 1094.9,269.4 1097.1,264.7C1099.2,259.9 1101.4,251.9 1103.5,251.9C1105.7,251.9 1108.0,259.9 1110.2,264.7C1112.4,269.4 1114.7,274.3 1116.9,280.2C1119.1,286.2 1121.4,291.7 1123.6,300.5C1126.7,312.5 1129.8,328.9 1132.8,342.5C1136.5,358.5 1140.1,374.4 1143.7,389.2C1147.1,402.9 1150.4,418.9 1153.8,428.1C1158.0,439.7 1162.2,445.3 1166.3,451.5C1173.3,461.8 1180.3,477.5 1187.3,477.5C1194.1,477.5 1200.8,461.8 1207.6,451.5C1211.7,445.3 1215.7,439.7 1219.8,428.1C1223.0,418.9 1226.3,402.9 1229.5,389.2C1233.0,374.4 1236.6,358.5 1240.1,342.5C1243.1,328.9 1246.0,312.5 1249.0,300.5C1251.2,291.7 1253.3,285.8 1255.5,280.2C1259.8,269.2 1264.2,250.8 1268.5,250.8C1273.4,250.8 1278.3,269.2 1283.1,280.2C1285.6,285.8 1288.0,291.7 1290.5,300.5C1293.8,312.5 1297.2,328.9 1300.5,342.5C1304.5,358.5 1308.5,374.4 1312.4,389.2C1316.1,402.9 1319.7,418.9 1323.4,428.1C1328.0,439.7 1332.5,445.8 1337.1,451.5C1344.8,460.9 1352.4,473.3 1360.0,473.3C1365.2,473.3 1370.3,465.5 1375.5,451.5C1380.7,437.5 1385.8,407.4 1391.0,389.2C1396.2,371.0 1401.3,357.3 1406.5,342.5C1411.7,327.7 1416.8,316.0 1422.0,300.5C1425.4,290.4 1428.7,275.4 1432.1,265.6C1433.9,260.3 1435.7,258.5 1437.5,255.0C1440.1,250.4 1442.7,245.9 1445.2,241.3" stroke="#1800f4" stroke-width="2.3"/>
<path d="M986.2,287.5C987.4,287.5 988.5,287.5 989.6,287.5C995.2,287.5 1000.8,292.7 1006.4,295.0C1012.0,297.3 1017.6,301.4 1023.2,301.4C1031.2,301.4 1039.3,307.3 1047.3,305.8C1048.9,305.5 1050.5,299.1 1052.1,295.8" stroke="#7000d4" stroke-width="2.3"/>
<path d="M1157.1,295.8C1158.8,297.4 1160.5,300.9 1162.2,300.5C1166.4,299.4 1170.5,293.0 1174.7,291.1C1178.9,289.2 1183.1,289.0 1187.3,289.0C1191.4,289.0 1195.4,289.2 1199.5,291.1C1203.5,293.0 1207.6,299.4 1211.7,300.5C1213.3,300.9 1214.9,297.4 1216.5,295.8" stroke="#7000d4" stroke-width="2.3"/>
<path d="M1327.1,295.8C1330.4,298.1 1333.8,302.0 1337.1,302.6C1344.8,304.2 1352.4,302.6 1360.0,302.6C1366.7,302.6 1373.4,306.3 1380.2,305.8C1382.2,305.6 1384.3,302.2 1386.3,300.5" stroke="#4400e4" stroke-width="2.3"/>
<path d="M986.2,409.9C987.4,409.9 988.5,409.9 989.6,409.9C995.2,409.9 1000.8,410.1 1006.4,409.9C1012.0,409.7 1017.6,408.8 1023.2,408.8C1027.8,408.8 1032.3,404.6 1036.9,400.1C1042.5,394.5 1048.1,386.2 1053.7,378.3C1059.6,370.0 1065.5,361.3 1071.4,351.4C1075.7,344.2 1079.9,334.8 1084.2,326.9C1088.2,319.6 1092.3,313.9 1096.3,305.8C1098.7,300.9 1101.1,288.0 1103.5,288.0C1106.0,288.0 1108.5,300.9 1111.0,305.8C1115.2,313.9 1119.4,319.6 1123.6,326.9C1128.1,334.8 1132.6,344.2 1137.0,351.4C1143.2,361.3 1149.3,370.0 1155.5,378.3C1161.3,386.2 1167.2,394.2 1173.1,400.1C1177.8,404.8 1182.6,410.1 1187.3,410.1C1191.9,410.1 1196.5,404.8 1201.1,400.1C1206.8,394.2 1212.5,386.2 1218.2,378.3C1224.1,370.0 1230.1,361.3 1236.0,351.4C1240.4,344.2 1244.7,334.8 1249.0,326.9C1253.1,319.6 1257.1,313.7 1261.2,305.8C1263.6,301.0 1266.1,288.8 1268.5,288.8C1271.2,288.8 1274.0,301.0 1276.7,305.8C1281.3,313.7 1285.9,319.6 1290.5,326.9C1295.3,334.8 1300.2,344.2 1305.1,351.4C1311.8,361.3 1318.5,370.0 1325.2,378.3C1331.6,386.2 1338.0,394.6 1344.4,400.1C1349.6,404.5 1354.8,408.0 1360.0,408.0C1365.2,408.0 1370.3,402.6 1375.5,397.0C1383.2,388.5 1391.0,377.5 1398.8,365.9C1406.5,354.2 1414.2,339.0 1422.0,326.9C1427.2,318.9 1432.3,312.8 1437.5,305.8C1440.1,302.4 1442.7,299.1 1445.2,295.8" stroke="#1800f4" stroke-width="2.3"/>
<path d="M986.2,416.4C987.4,416.4 988.5,416.4 989.6,416.4C1000.8,416.4 1012.0,422.7 1023.2,422.7C1027.2,422.7 1031.2,415.3 1035.2,410.4C1038.7,406.1 1042.2,400.3 1045.7,395.3C1049.7,389.5 1053.7,383.8 1057.7,377.8C1061.7,371.8 1065.8,367.2 1069.8,359.3C1072.5,354.0 1075.1,344.3 1077.8,338.3C1081.0,331.1 1084.2,325.2 1087.4,319.8C1090.1,315.2 1092.8,310.6 1095.5,308.3C1098.1,305.9 1100.8,305.8 1103.5,305.8C1106.3,305.8 1109.1,305.9 1111.9,308.3C1114.7,310.6 1117.5,315.4 1120.3,319.8C1123.6,325.0 1127.0,331.5 1130.3,337.2C1134.2,343.9 1138.1,350.5 1142.0,357.0C1146.8,364.8 1151.5,373.2 1156.3,380.2C1161.0,387.1 1165.8,393.1 1170.5,398.7C1176.1,405.2 1181.7,416.4 1187.3,416.4C1192.7,416.4 1198.1,405.2 1203.5,398.7C1208.1,393.1 1212.7,387.1 1217.3,380.2C1221.9,373.2 1226.5,364.8 1231.1,357.0C1234.9,350.5 1238.7,343.9 1242.5,337.2C1245.8,331.5 1249.0,325.0 1252.3,319.8C1255.0,315.4 1257.7,310.6 1260.4,308.3C1263.1,305.9 1265.8,305.8 1268.5,305.8C1271.5,305.8 1274.6,305.9 1277.6,308.3C1280.7,310.6 1283.8,315.4 1286.8,319.8C1290.5,325.0 1294.1,331.5 1297.8,337.2C1302.0,343.9 1306.3,350.5 1310.6,357.0C1315.8,364.8 1321.0,372.2 1326.1,380.2C1331.3,388.1 1336.5,398.2 1341.7,404.8C1347.8,412.5 1353.9,422.8 1360.0,422.8C1365.2,422.8 1370.3,412.4 1375.5,404.8C1383.2,393.4 1391.0,376.7 1398.8,365.9C1406.5,355.0 1414.2,346.8 1422.0,339.4C1427.2,334.4 1432.3,332.3 1437.5,328.8C1440.1,328.2 1442.7,327.6 1445.2,326.9" stroke="#1800f4" stroke-width="2.3"/>
<path d="M986.2,355.1C987.4,355.1 988.5,355.1 989.6,355.1" stroke="#c00090" stroke-width="2.3"/><path d="M989.6,355.1C995.2,355.1 1000.8,349.5 1006.4,349.8" stroke="#b3009d" stroke-width="2.3"/><path d="M1006.4,349.8C1012.0,350.2 1017.6,357.3 1023.2,357.3" stroke="#9800b8" stroke-width="2.3"/><path d="M1023.2,357.3C1029.1,357.3 1035.0,345.1 1040.9,337.8" stroke="#7f00ca" stroke-width="2.3"/><path d="M1040.9,337.8C1045.1,332.6 1049.4,323.5 1053.7,319.8" stroke="#7000d4" stroke-width="2.3"/><path d="M1053.7,319.8C1056.7,317.2 1059.6,318.6 1062.5,319.2" stroke="#5d00db" stroke-width="2.3"/><path d="M1062.5,319.2C1069.0,320.4 1075.4,321.9 1081.8,325.1" stroke="#4300e4" stroke-width="2.3"/><path d="M1081.8,325.1C1086.0,327.1 1090.1,333.8 1094.3,334.9" stroke="#2800ee" stroke-width="2.3"/><path d="M1094.3,334.9C1097.3,335.7 1100.4,330.8 1103.5,330.8" stroke="#2e00ec" stroke-width="2.3"/><path d="M1103.5,330.8C1107.4,330.8 1111.3,334.5 1115.2,333.8" stroke="#3300ea" stroke-width="2.3"/><path d="M1115.2,333.8C1118.3,333.2 1121.4,328.8 1124.5,326.8" stroke="#3800e8" stroke-width="2.3"/><path d="M1124.5,326.8C1128.4,324.2 1132.3,322.0 1136.2,319.8" stroke="#3d00e7" stroke-width="2.3"/><path d="M1136.2,319.8C1140.9,317.1 1145.7,312.8 1150.4,312.3" stroke="#4300e4" stroke-width="2.3"/><path d="M1150.4,312.3C1152.1,312.1 1153.8,313.6 1155.5,317.6" stroke="#5800dd" stroke-width="2.3"/><path d="M1155.5,317.6C1159.1,326.3 1162.7,338.2 1166.3,350.3" stroke="#6d00d5" stroke-width="2.3"/><path d="M1166.3,350.3C1170.5,364.2 1174.7,384.5 1178.9,395.4" stroke="#7d00cc" stroke-width="2.3"/><path d="M1178.9,395.4C1181.7,402.7 1184.5,404.8 1187.3,404.8C1190.0,404.8 1192.7,402.7 1195.4,395.4" stroke="#8b00c3" stroke-width="2.3"/><path d="M1195.4,395.4C1199.5,384.5 1203.5,364.2 1207.6,350.3" stroke="#7d00cc" stroke-width="2.3"/><path d="M1207.6,350.3C1211.1,338.2 1214.6,326.3 1218.2,317.6" stroke="#6c00d5" stroke-width="2.3"/><path d="M1218.2,317.6C1219.8,313.6 1221.4,312.1 1223.0,312.3" stroke="#5600de" stroke-width="2.3"/><path d="M1223.0,312.3C1227.6,312.8 1232.2,317.1 1236.8,319.8" stroke="#3a00e8" stroke-width="2.3"/><path d="M1236.8,319.8C1240.6,322.0 1244.4,325.4 1248.2,326.8" stroke="#2a00ed" stroke-width="2.3"/><path d="M1248.2,326.8C1251.2,327.8 1254.2,327.4 1257.1,326.9" stroke="#2e00ec" stroke-width="2.3"/><path d="M1257.1,326.9C1260.9,326.4 1264.7,323.8 1268.5,323.8" stroke="#3200ea" stroke-width="2.3"/><path d="M1268.5,323.8C1272.8,323.8 1277.0,326.9 1281.3,326.9" stroke="#3700e9" stroke-width="2.3"/><path d="M1281.3,326.9C1286.2,326.9 1291.1,325.2 1296.0,323.8" stroke="#3b00e7" stroke-width="2.3"/><path d="M1296.0,323.8C1302.0,322.1 1308.2,319.7 1314.2,317.6" stroke="#4100e5" stroke-width="2.3"/><path d="M1314.2,317.6C1317.3,316.6 1320.3,312.9 1323.4,314.5" stroke="#4b00e1" stroke-width="2.3"/><path d="M1323.4,314.5C1326.4,316.0 1329.5,322.6 1332.5,326.9" stroke="#5a00dc" stroke-width="2.3"/><path d="M1332.5,326.9C1337.1,333.5 1341.7,342.1 1346.3,347.2" stroke="#6c00d5" stroke-width="2.3"/><path d="M1346.3,347.2C1350.8,352.3 1355.4,357.4 1360.0,357.4" stroke="#8400c8" stroke-width="2.3"/><path d="M1360.0,357.4C1365.2,357.4 1370.3,348.2 1375.5,345.6" stroke="#8800c5" stroke-width="2.3"/><path d="M1375.5,345.6C1383.2,341.7 1391.0,338.2 1398.8,337.8" stroke="#7400d1" stroke-width="2.3"/><path d="M1398.8,337.8C1411.7,337.2 1424.6,341.0 1437.5,342.7C1440.1,342.6 1442.7,342.6 1445.2,342.5" stroke="#7000d4" stroke-width="2.3"/>
<path d="M986.2,409.9C987.4,409.9 988.5,409.9 989.6,409.9C1000.8,409.9 1012.0,408.8 1023.2,408.8C1028.6,408.8 1033.9,413.2 1039.3,412.6C1044.9,411.9 1050.5,410.1 1056.1,404.8C1062.5,398.7 1069.0,390.5 1075.4,378.3C1078.6,372.2 1081.8,356.7 1085.0,350.0C1088.1,343.5 1091.2,339.3 1094.3,338.9C1097.3,338.5 1100.4,347.6 1103.5,347.6C1107.4,347.6 1111.3,338.5 1115.2,338.9C1118.3,339.3 1121.4,346.3 1124.5,350.0C1128.4,354.6 1132.3,359.2 1136.2,363.8C1140.1,368.5 1144.0,373.2 1147.9,377.8C1151.8,382.5 1155.7,387.3 1159.6,391.7C1163.3,395.8 1166.9,401.0 1170.5,403.4C1176.1,407.1 1181.7,410.1 1187.3,410.1C1192.7,410.1 1198.1,407.1 1203.5,403.4C1207.1,401.0 1210.6,395.8 1214.1,391.7C1217.9,387.3 1221.7,382.5 1225.5,377.8C1229.3,373.2 1233.0,368.5 1236.8,363.8C1240.6,359.2 1244.4,355.9 1248.2,350.0C1251.2,345.3 1254.2,333.4 1257.1,332.1C1260.9,330.4 1264.7,340.9 1268.5,340.9C1272.8,340.9 1277.0,330.4 1281.3,332.1C1284.7,333.4 1288.0,344.1 1291.4,350.0C1296.0,358.0 1300.5,365.8 1305.1,373.6C1311.2,384.1 1317.3,394.5 1323.4,404.8C1328.3,413.0 1333.2,425.4 1338.0,429.1C1341.4,431.6 1344.8,424.4 1348.1,423.4C1352.1,422.3 1356.0,422.8 1360.0,422.8C1365.2,422.8 1370.3,418.1 1375.5,412.6C1383.2,404.3 1391.0,390.0 1398.8,381.4C1406.5,372.9 1414.2,366.4 1422.0,361.2C1427.2,357.7 1432.3,357.3 1437.5,355.4C1440.1,354.7 1442.7,354.1 1445.2,353.4" stroke="#1800f4" stroke-width="2.3"/>
<path d="M986.2,451.5C987.4,451.6 988.5,451.8 989.6,451.8C995.2,451.8 1000.8,449.9 1006.4,451.5C1009.8,452.4 1013.1,456.6 1016.5,459.3" stroke="#7000d4" stroke-width="2.3"/><path d="M1016.5,459.3C1018.7,461.0 1021.0,464.7 1023.2,464.7" stroke="#4000e5" stroke-width="2.3"/><path d="M1023.2,464.7C1028.3,464.7 1033.4,453.5 1038.5,447.6C1044.3,440.8 1050.2,433.5 1056.1,426.6C1061.2,420.6 1066.3,415.9 1071.4,408.8C1076.7,401.4 1082.1,392.8 1087.4,383.1C1092.8,373.5 1098.1,351.1 1103.5,351.1C1106.6,351.1 1109.6,359.1 1112.7,364.0C1115.2,368.0 1117.7,374.2 1120.3,377.8C1123.6,382.7 1127.0,385.9 1130.3,389.5C1134.2,393.7 1138.1,397.4 1142.0,401.0C1145.7,404.4 1149.3,407.5 1152.9,410.4C1156.6,413.3 1160.2,417.8 1163.8,418.5C1171.7,419.9 1179.5,416.4 1187.3,416.4C1192.7,416.4 1198.1,422.3 1203.5,420.3C1209.0,418.4 1214.4,411.3 1219.8,404.8C1225.2,398.3 1230.6,388.7 1236.0,381.4C1241.4,374.2 1246.8,366.8 1252.3,361.2C1257.7,355.6 1263.1,347.9 1268.5,347.9C1273.1,347.9 1277.7,355.6 1282.2,361.2C1286.8,366.8 1291.4,374.7 1296.0,381.4C1302.0,390.3 1308.2,398.8 1314.2,407.9C1320.3,417.0 1326.5,428.3 1332.5,435.9C1341.7,447.3 1350.8,464.9 1360.0,464.9C1365.2,464.9 1370.3,450.7 1375.5,443.7" stroke="#2800ee" stroke-width="2.3"/><path d="M1375.5,443.7C1383.2,433.2 1391.0,420.3 1398.8,412.6" stroke="#6100cb" stroke-width="2.3"/><path d="M1398.8,412.6C1406.5,404.8 1414.2,400.4 1422.0,397.0" stroke="#c4008a" stroke-width="2.3"/><path d="M1422.0,397.0C1427.2,394.7 1432.3,395.8 1437.5,395.3" stroke="#d8006c" stroke-width="2.3"/><path d="M1437.5,395.3C1440.1,395.3 1442.7,395.4 1445.2,395.4" stroke="#e00060" stroke-width="2.3"/>
<path d="M986.2,416.4C987.4,416.4 988.5,416.4 989.6,416.4" stroke="#2800ee" stroke-width="2.3"/><path d="M989.6,416.4C995.2,416.4 1000.8,417.7 1006.4,418.8" stroke="#3700e9" stroke-width="2.3"/><path d="M1006.4,418.8C1012.0,419.8 1017.6,422.7 1023.2,422.7" stroke="#5500de" stroke-width="2.3"/><path d="M1023.2,422.7C1028.6,422.7 1033.9,423.9 1039.3,426.6" stroke="#6a00d6" stroke-width="2.3"/><path d="M1039.3,426.6C1044.9,429.4 1050.5,435.0 1056.1,439.0" stroke="#7b00cd" stroke-width="2.3"/><path d="M1056.1,439.0C1058.3,440.5 1060.4,443.6 1062.5,443.2" stroke="#8b00c3" stroke-width="2.3"/><path d="M1062.5,443.2C1066.3,442.6 1070.0,440.4 1073.8,435.9" stroke="#9a00b6" stroke-width="2.3"/><path d="M1073.8,435.9C1077.3,431.7 1080.7,422.9 1084.2,417.2" stroke="#af00a1" stroke-width="2.3"/><path d="M1084.2,417.2C1087.7,411.5 1091.2,404.9 1094.7,401.7C1097.6,398.9 1100.6,399.5 1103.5,399.5C1106.9,399.5 1110.2,398.0 1113.6,400.4C1116.3,402.4 1119.1,407.5 1121.9,412.6" stroke="#c00090" stroke-width="2.3"/><path d="M1121.9,412.6C1125.6,419.2 1129.2,428.7 1132.8,435.4" stroke="#b6009a" stroke-width="2.3"/><path d="M1132.8,435.4C1136.2,441.7 1139.5,447.5 1142.9,451.5" stroke="#a700a9" stroke-width="2.3"/><path d="M1142.9,451.5C1146.5,455.8 1150.1,460.8 1153.8,460.5" stroke="#9800b8" stroke-width="2.3"/><path d="M1153.8,460.5C1157.1,460.2 1160.5,453.6 1163.8,449.9" stroke="#8b00c3" stroke-width="2.3"/><path d="M1163.8,449.9C1167.5,445.9 1171.1,437.1 1174.7,437.5" stroke="#8100c9" stroke-width="2.3"/><path d="M1174.7,437.5C1178.9,437.9 1183.1,452.2 1187.3,452.2" stroke="#7600d0" stroke-width="2.3"/><path d="M1187.3,452.2C1191.9,452.2 1196.5,440.7 1201.1,439.6" stroke="#7500d1" stroke-width="2.3"/><path d="M1201.1,439.6C1204.6,438.9 1208.1,443.6 1211.7,446.8" stroke="#7f00cb" stroke-width="2.3"/><path d="M1211.7,446.8C1215.2,450.0 1218.7,460.2 1222.2,458.6" stroke="#8700c5" stroke-width="2.3"/><path d="M1222.2,458.6C1226.8,456.6 1231.4,445.4 1236.0,435.9" stroke="#9200be" stroke-width="2.3"/><path d="M1236.0,435.9C1240.1,427.5 1244.1,413.1 1248.2,404.8" stroke="#ac00a4" stroke-width="2.3"/><path d="M1248.2,404.8C1251.7,397.5 1255.2,392.7 1258.8,389.2" stroke="#c1008f" stroke-width="2.3"/><path d="M1258.8,389.2C1262.0,386.0 1265.3,384.8 1268.5,384.8" stroke="#c90083" stroke-width="2.3"/><path d="M1268.5,384.8C1272.8,384.8 1277.0,384.9 1281.3,389.2" stroke="#d10076" stroke-width="2.3"/><path d="M1281.3,389.2C1284.7,392.6 1288.0,400.8 1291.4,407.9" stroke="#d9006a" stroke-width="2.3"/><path d="M1291.4,407.9C1296.3,418.2 1301.1,432.0 1306.0,441.7" stroke="#d8006a" stroke-width="2.3"/><path d="M1306.0,441.7C1309.7,448.9 1313.3,454.6 1317.0,458.6" stroke="#b30096" stroke-width="2.3"/><path d="M1317.0,458.6C1319.1,461.0 1321.3,461.8 1323.4,460.8" stroke="#9900b5" stroke-width="2.3"/><path d="M1323.4,460.8C1326.4,459.4 1329.5,455.7 1332.5,451.5" stroke="#8300c6" stroke-width="2.3"/><path d="M1332.5,451.5C1334.4,448.9 1336.2,440.6 1338.0,440.6" stroke="#6e00cf" stroke-width="2.3"/><path d="M1338.0,440.6C1341.4,440.6 1344.8,447.8 1348.1,451.5" stroke="#5800d9" stroke-width="2.3"/><path d="M1348.1,451.5C1352.1,455.9 1356.0,464.9 1360.0,464.9" stroke="#3900e7" stroke-width="2.3"/><path d="M1360.0,464.9C1363.1,464.9 1366.2,454.7 1369.3,451.5C1374.0,446.6 1378.6,444.0 1383.2,440.6C1385.6,438.8 1387.9,438.5 1390.2,435.9C1393.1,432.8 1395.9,425.8 1398.8,423.4C1405.2,418.0 1411.7,414.6 1418.1,412.6C1424.6,410.5 1431.0,411.5 1437.5,411.0" stroke="#2800ee" stroke-width="2.3"/>
<path d="M986.2,476.5C987.4,476.5 988.5,476.5 989.6,476.5" stroke="#2800ee" stroke-width="2.3"/><path d="M989.6,476.5C1000.8,476.5 1012.0,473.3 1023.2,473.3" stroke="#4600e3" stroke-width="2.3"/><path d="M1023.2,473.3C1031.2,473.3 1039.3,471.7 1047.3,470.2" stroke="#6d00d5" stroke-width="2.3"/><path d="M1047.3,470.2C1055.3,468.6 1063.4,466.1 1071.4,463.9" stroke="#9100b8" stroke-width="2.3"/><path d="M1071.4,463.9C1076.7,462.5 1082.1,461.3 1087.4,459.3" stroke="#b3009b" stroke-width="2.3"/><path d="M1087.4,459.3C1092.8,457.2 1098.1,451.8 1103.5,451.8" stroke="#cb0080" stroke-width="2.3"/><path d="M1103.5,451.8C1109.1,451.8 1114.7,456.2 1120.3,457.7" stroke="#e00060" stroke-width="2.3"/><path d="M1120.3,457.7C1125.8,459.2 1131.4,458.7 1137.0,460.8" stroke="#d00078" stroke-width="2.3"/><path d="M1137.0,460.8C1142.6,462.9 1148.2,466.8 1153.8,470.2" stroke="#c00090" stroke-width="2.3"/><path d="M1153.8,470.2C1159.4,473.5 1165.0,479.8 1170.5,481.0" stroke="#ad00a3" stroke-width="2.3"/><path d="M1170.5,481.0C1176.1,482.3 1181.7,477.5 1187.3,477.5C1192.7,477.5 1198.1,480.6 1203.5,482.6" stroke="#9a00b6" stroke-width="2.3"/><path d="M1203.5,482.6C1209.8,484.9 1216.0,491.6 1222.2,490.4" stroke="#ae00a2" stroke-width="2.3"/><path d="M1222.2,490.4C1226.8,489.5 1231.4,479.5 1236.0,476.4" stroke="#c1008f" stroke-width="2.3"/><path d="M1236.0,476.4C1241.4,472.7 1246.8,471.4 1252.3,470.2" stroke="#cd007d" stroke-width="2.3"/><path d="M1252.3,470.2C1257.7,468.9 1263.1,469.1 1268.5,469.1" stroke="#da006a" stroke-width="2.3"/><path d="M1268.5,469.1C1277.7,469.1 1286.8,468.4 1296.0,468.6" stroke="#d8006c" stroke-width="2.3"/><path d="M1296.0,468.6C1305.1,468.8 1314.2,469.2 1323.4,470.2" stroke="#c80084" stroke-width="2.3"/><path d="M1323.4,470.2C1329.5,470.8 1335.6,472.4 1341.7,473.3" stroke="#ac00a1" stroke-width="2.3"/><path d="M1341.7,473.3C1347.8,474.1 1353.9,475.4 1360.0,475.4C1367.8,475.4 1375.5,471.8 1383.2,470.2" stroke="#8400c3" stroke-width="2.3"/><path d="M1383.2,470.2C1391.0,468.5 1398.8,467.4 1406.5,465.5" stroke="#ac00a1" stroke-width="2.3"/><path d="M1406.5,465.5C1416.8,462.9 1427.2,459.5 1437.5,456.5" stroke="#d00078" stroke-width="2.3"/><path d="M1437.5,456.5C1440.1,455.8 1442.7,455.2 1445.2,454.6" stroke="#e00060" stroke-width="2.3"/>
<path d="M986.2,391.7C987.4,391.7 988.5,391.7 989.6,391.7" stroke="#7000d4" stroke-width="2.3"/><path d="M989.6,391.7C995.2,391.7 1000.8,403.9 1006.4,408.8" stroke="#8400c8" stroke-width="2.3"/><path d="M1006.4,408.8C1007.7,410.0 1009.1,410.9 1010.4,409.9" stroke="#b6009a" stroke-width="2.3"/><path d="M1010.4,409.9C1014.7,406.9 1018.9,397.0 1023.2,397.0" stroke="#d10077" stroke-width="2.3"/><path d="M1023.2,397.0C1026.4,397.0 1029.6,391.2 1032.8,383.0" stroke="#d00073" stroke-width="2.3"/><path d="M1032.8,383.0C1035.5,376.1 1038.2,366.1 1040.9,351.8" stroke="#b30096" stroke-width="2.3"/><path d="M1040.9,351.8C1043.0,340.4 1045.1,319.3 1047.3,305.8" stroke="#9b00b3" stroke-width="2.3"/><path d="M1047.3,305.8C1048.4,299.0 1049.4,296.0 1050.5,291.1" stroke="#9000c0" stroke-width="2.3"/>
<path d="M986.2,492.6C987.4,492.6 988.5,492.6 989.6,492.6C995.2,492.6 1000.8,481.8 1006.4,482.9C1012.0,484.0 1017.6,499.1 1023.2,499.1C1025.9,499.1 1028.6,500.9 1031.2,502.8C1033.9,504.8 1036.6,509.3 1039.3,510.6" stroke="#c00090" stroke-width="2.3"/><path d="M1039.3,510.6C1047.0,514.5 1054.8,520.1 1062.5,518.4" stroke="#bb0095" stroke-width="2.3"/><path d="M1062.5,518.4C1066.8,517.5 1071.1,507.7 1075.4,502.8" stroke="#a000b0" stroke-width="2.3"/><path d="M1075.4,502.8C1079.4,498.3 1083.4,493.3 1087.4,490.4" stroke="#8e00c1" stroke-width="2.3"/><path d="M1087.4,490.4C1092.8,486.5 1098.1,482.6 1103.5,482.6" stroke="#8300c8" stroke-width="2.3"/><path d="M1103.5,482.6C1109.1,482.6 1114.7,486.5 1120.3,490.4" stroke="#7600d0" stroke-width="2.3"/><path d="M1120.3,490.4C1125.8,494.3 1131.4,500.2 1137.0,506.0" stroke="#7800cf" stroke-width="2.3"/><path d="M1137.0,506.0C1142.6,511.7 1148.2,518.7 1153.8,524.6" stroke="#8800c5" stroke-width="2.3"/><path d="M1153.8,524.6C1158.0,529.1 1162.2,532.9 1166.3,537.1" stroke="#9000c0" stroke-width="2.3"/>
<path d="M986.2,523.7C987.4,523.7 988.5,523.7 989.6,523.7C995.2,523.7 1000.8,528.3 1006.4,526.2C1012.0,524.0 1017.6,510.8 1023.2,510.8C1026.4,510.8 1029.6,507.9 1032.8,512.2C1035.0,515.1 1037.1,525.7 1039.3,532.4C1040.6,536.6 1041.9,540.7 1043.3,544.9" stroke="#9000c0" stroke-width="2.3"/>
<path d="M1137.0,544.9C1142.6,539.7 1148.2,534.5 1153.8,529.3C1159.4,524.1 1165.0,519.5 1170.5,513.7C1176.1,507.9 1181.7,494.4 1187.3,494.4" stroke="#c00090" stroke-width="2.3"/><path d="M1187.3,494.4C1191.9,494.4 1196.5,513.8 1201.1,515.3" stroke="#b2009e" stroke-width="2.3"/><path d="M1201.1,515.3C1208.1,517.6 1215.2,504.7 1222.2,506.0C1226.8,506.8 1231.4,515.0 1236.0,521.5C1238.7,525.4 1241.4,531.9 1244.1,537.1" stroke="#9000c0" stroke-width="2.3"/>
<path d="M1153.8,537.1C1159.4,534.5 1165.0,531.8 1170.5,529.3C1176.1,526.8 1181.7,521.8 1187.3,521.8C1192.7,521.8 1198.1,520.1 1203.5,521.5C1207.6,522.6 1211.7,524.6 1215.7,529.3C1218.4,532.4 1221.1,539.7 1223.8,544.9" stroke="#7000d4" stroke-width="2.3"/>
<path d="M1236.0,544.9C1241.4,534.5 1246.8,522.1 1252.3,513.7" stroke="#b4009c" stroke-width="2.3"/><path d="M1252.3,513.7C1257.7,505.3 1263.1,494.4 1268.5,494.4" stroke="#9c00b4" stroke-width="2.3"/><path d="M1268.5,494.4C1274.6,494.4 1280.7,499.1 1286.8,502.8" stroke="#9a00b6" stroke-width="2.3"/><path d="M1286.8,502.8C1292.9,506.6 1299.0,513.0 1305.1,516.9" stroke="#ad00a3" stroke-width="2.3"/><path d="M1305.1,516.9C1311.2,520.7 1317.3,526.7 1323.4,526.2" stroke="#c00090" stroke-width="2.3"/><path d="M1323.4,526.2C1329.5,525.7 1335.6,518.3 1341.7,513.7" stroke="#cd007d" stroke-width="2.3"/><path d="M1341.7,513.7C1347.8,509.1 1353.9,498.6 1360.0,498.6" stroke="#da006a" stroke-width="2.3"/><path d="M1360.0,498.6C1362.6,498.6 1365.2,502.4 1367.8,507.5C1370.3,512.6 1372.9,523.1 1375.5,529.3C1378.1,535.5 1380.7,539.7 1383.2,544.9" stroke="#e00060" stroke-width="2.3"/>
<path d="M1341.7,544.9C1344.8,537.1 1347.8,527.1 1350.9,521.5" stroke="#9300bd" stroke-width="2.3"/><path d="M1350.9,521.5C1353.9,515.9 1357.0,511.2 1360.0,511.2" stroke="#9a00b6" stroke-width="2.3"/><path d="M1360.0,511.2C1366.7,511.2 1373.4,513.4 1380.2,513.7" stroke="#a700a9" stroke-width="2.3"/><path d="M1380.2,513.7C1387.9,514.2 1395.6,516.6 1403.4,513.7" stroke="#ba0096" stroke-width="2.3"/><path d="M1403.4,513.7C1409.6,511.4 1415.8,503.6 1422.0,498.2" stroke="#a300a8" stroke-width="2.3"/><path d="M1422.0,498.2C1427.2,493.6 1432.3,488.6 1437.5,483.8" stroke="#8000c6" stroke-width="2.3"/><path d="M1437.5,483.8C1440.1,483.4 1442.7,483.0 1445.2,482.6" stroke="#7000d4" stroke-width="2.3"/>
</g>
<g clip-path="url(#dclipb)" fill="none" stroke-linejoin="round">
<path d="M1471.6,62.4 L1583.0,62.4 L1604.1,64.5 L1566.1,67.6 L1599.9,70.8 L1564.0,74.0 L1561.9,76.1 L1606.2,79.2 L1583.0,81.3 L1549.3,84.5 L1528.2,88.7 L1507.1,92.9 L1490.3,97.1 L1481.9,100.3 L1477.6,103.5 L1486.1,106.6 L1528.2,108.7 L1616.7,110.2 L1559.8,111.9 L1549.3,116.1 L1574.6,125.6 L1553.5,127.7 L1526.1,135.1 L1528.2,139.3 L1507.1,143.5 L1490.3,149.8 L1477.6,156.1 L1473.4,160.4 L1472.4,166.7 L1472.4,173.0 L1481.9,176.2 L1532.4,177.2 L1507.1,181.4 L1524.0,194.1 L1517.7,200.4 L1496.6,206.7 L1496.6,210.9 L1528.2,214.1 L1553.5,217.2 L1608.3,220.4 L1553.5,223.6 L1566.1,232.0 L1538.7,234.1 L1507.1,236.2 L1507.1,240.4 L1580.9,246.7 L1684.1,249.9 L1570.4,252.0 L1507.1,255.2 L1549.3,261.5 L1580.9,265.7 L1528.2,269.9 L1507.1,276.2 L1543.0,280.5 L1517.7,284.7 L1507.1,288.9 L1500.8,295.2 L1502.9,290.0 L1500.8,296.3 L1502.9,302.6 L1528.2,307.9 L1566.1,310.0 L1528.2,313.2 L1623.0,319.5 L1559.8,321.6 L1538.7,325.8 L1528.2,330.0 L1578.8,333.2 L1570.4,338.5 L1545.1,344.8 L1549.3,351.1 L1595.6,354.3 L1553.5,357.4 L1534.5,363.7 L1532.4,370.1 L1591.4,374.3 L1549.3,378.5 L1532.4,384.8 L1532.4,391.1 L1549.3,395.4 L1591.4,403.8 L1559.8,405.9 L1534.5,410.1 L1528.2,416.4 L1526.1,424.9 L1528.2,431.2 L1543.0,435.4 L1521.9,437.5 L1517.7,441.7 L1526.1,450.1 L1502.9,456.5 L1500.8,458.6 L1524.0,458.6 L1505.0,462.8 L1507.1,471.2 L1526.1,477.5 L1538.7,483.8 L1585.1,493.3 L1528.2,498.6 L1502.9,504.9 L1490.3,509.1 L1511.4,513.3 L1492.4,517.6 L1570.4,524.9 L1517.7,527.0 L1507.1,530.2 L1471.6,530.2Z" fill="#d3d3d3" stroke="#d3d3d3" stroke-width="0.8"/>
<path d="M1486.1,62.4 L1481.9,65.5 L1488.2,70.8 L1482.9,75.0 L1490.3,80.3 L1489.2,86.6 L1477.6,92.9 L1473.4,97.1 L1475.5,101.4 L1486.1,105.6 L1492.4,109.8 L1488.2,114.0 L1490.3,118.2 L1490.3,124.5 L1481.9,130.9 L1484.0,137.2 L1477.6,145.6 L1473.4,154.0 L1471.3,162.5 L1471.3,176.2 L1473.4,181.4 L1474.5,189.9 L1473.4,202.5 L1475.5,215.1 L1477.6,223.6 L1474.5,232.0 L1481.9,238.3 L1494.5,249.9 L1475.5,253.1 L1486.1,261.5 L1486.1,267.8 L1477.6,276.2 L1484.0,282.6 L1477.6,293.1 L1477.6,290.0 L1476.6,296.3 L1477.6,302.6 L1485.0,309.0 L1479.7,313.2 L1487.1,320.6 L1480.8,325.8 L1486.1,332.1 L1481.9,340.6 L1485.0,349.0 L1480.8,357.4 L1486.1,362.7 L1478.7,368.0 L1479.7,378.5 L1481.9,389.0 L1486.1,403.8 L1479.7,408.0 L1479.7,416.4 L1484.0,424.9 L1481.9,437.5 L1482.9,448.0 L1480.8,458.6 L1485.0,469.1 L1492.4,486.0 L1509.2,493.3 L1486.1,500.7 L1477.6,509.1 L1481.9,517.6 L1494.5,526.0 L1492.4,530.2" stroke="#ff0000" stroke-width="1.2"/>
<path d="M1553.5,62.4 L1563.0,64.5 L1526.1,67.6 L1560.9,70.8 L1518.7,75.0 L1559.8,79.2 L1545.1,82.4 L1534.5,86.6 L1507.1,90.8 L1486.1,92.9 L1475.5,96.1 L1474.5,99.2 L1481.9,103.5 L1507.1,106.6 L1549.3,108.7 L1564.0,110.4 L1507.1,112.9 L1509.2,118.2 L1524.0,122.4 L1531.4,125.6 L1496.6,131.9 L1497.7,137.2 L1490.3,147.7 L1477.6,156.1 L1475.5,160.4 L1489.2,162.9 L1481.9,164.6 L1481.9,175.1 L1516.6,177.2 L1497.7,181.4 L1510.3,196.2 L1486.1,207.8 L1490.3,213.0 L1524.0,215.1 L1572.5,220.4 L1532.4,222.5 L1520.8,227.8 L1540.9,232.6 L1486.1,236.2 L1502.9,242.5 L1612.5,249.9 L1482.9,253.1 L1507.1,257.3 L1538.7,265.7 L1494.5,276.2 L1511.4,280.5 L1490.3,288.9 L1488.2,299.4 L1490.3,290.0 L1488.2,296.3 L1488.2,304.7 L1528.2,309.0 L1496.6,315.3 L1568.2,320.6 L1532.4,321.6 L1509.2,330.0 L1538.7,333.2 L1530.3,335.3 L1515.6,346.9 L1549.3,354.3 L1524.0,359.5 L1507.1,368.0 L1549.3,374.3 L1528.2,380.6 L1509.2,384.8 L1508.2,395.4 L1545.1,403.8 L1515.6,405.9 L1505.0,422.7 L1502.9,435.4 L1511.4,436.4 L1496.6,437.5 L1488.2,448.0 L1494.5,451.2 L1481.9,458.6 L1490.3,458.6 L1484.0,464.9 L1488.2,477.5 L1496.6,488.1 L1513.5,493.3 L1486.1,500.7 L1477.6,504.9 L1486.1,513.3 L1492.4,517.6 L1512.4,524.9 L1490.3,530.2" stroke="#0000ff" stroke-width="1.3"/>
<path d="M1472.4,60.0 L1472.4,535.0" stroke="#008000" stroke-width="1.6"/>
</g>
<path d="M989.6,295.9H1437.5" stroke="#2a2a2a" stroke-width="1.1"/>
<rect x="989.6" y="62.4" width="447.9" height="466.9" fill="none" stroke="#a8a8a8" stroke-width="1"/>
<path d="M1471.6,295.9H1695.5" stroke="#000" stroke-width="1"/>
<rect x="1471.6" y="62.4" width="223.9" height="466.9" fill="none" stroke="#a8a8a8" stroke-width="1"/>
<text x="984.6" y="74.6" font-size="28" text-anchor="end" textLength="42.5" lengthAdjust="spacingAndGlyphs" >1.5</text>
<text x="984.6" y="152.5" font-size="28" text-anchor="end" textLength="42.5" lengthAdjust="spacingAndGlyphs" >1.0</text>
<text x="984.6" y="231.2" font-size="28" text-anchor="end" textLength="42.5" lengthAdjust="spacingAndGlyphs" >0.5</text>
<text x="984.6" y="309.3" font-size="28" text-anchor="end" textLength="42.5" lengthAdjust="spacingAndGlyphs" >0.0</text>
<text x="984.6" y="387.5" font-size="28" text-anchor="end" textLength="67.5" lengthAdjust="spacingAndGlyphs" >−0.5</text>
<text x="984.6" y="465.6" font-size="28" text-anchor="end" textLength="67.5" lengthAdjust="spacingAndGlyphs" >−1.0</text>
<text x="984.6" y="543.6" font-size="28" text-anchor="end" textLength="67.5" lengthAdjust="spacingAndGlyphs" >−1.5</text>
<text x="983.8" y="565.9" font-size="29.5" text-anchor="middle" textLength="20.8" lengthAdjust="spacingAndGlyphs" font-style="italic">Γ</text>
<text x="1020.3" y="565.9" font-size="29.5" text-anchor="middle" textLength="21.0" lengthAdjust="spacingAndGlyphs" font-style="italic">Z</text>
<text x="1099.8" y="565.9" font-size="29.5" text-anchor="middle" textLength="22.6" lengthAdjust="spacingAndGlyphs" font-style="italic">F</text>
<text x="1183.0" y="565.9" font-size="29.5" text-anchor="middle" textLength="20.8" lengthAdjust="spacingAndGlyphs" font-style="italic">Γ</text>
<text x="1267.1" y="565.9" font-size="29.5" text-anchor="middle" textLength="21.5" lengthAdjust="spacingAndGlyphs" font-style="italic">L</text>
<text x="1357.7" y="565.9" font-size="29.5" text-anchor="middle" textLength="21.0" lengthAdjust="spacingAndGlyphs" font-style="italic">Z</text>
<text x="1438.1" y="565.9" font-size="29.5" text-anchor="middle" textLength="24.5" lengthAdjust="spacingAndGlyphs" font-style="italic">P</text>
<text x="1585.2" y="568.2" font-size="30" text-anchor="middle" textLength="69.4" lengthAdjust="spacingAndGlyphs" >DOS</text>
<rect x="989.6" y="62.4" width="113" height="113" fill="#fff" fill-opacity="0.86" stroke="#aaa" stroke-width="1"/>
<g clip-path="url(#trib)"><g filter="url(#gam)"><rect x="1018.0" y="95.6" width="57.7" height="49.4" fill="url(#gRb)"/><rect x="1018.0" y="95.6" width="57.7" height="49.4" fill="url(#gGb)" style="mix-blend-mode:screen"/><rect x="1018.0" y="95.6" width="57.7" height="49.4" fill="url(#gBb)" style="mix-blend-mode:screen"/></g></g>
<text x="1044.5" y="92.4" font-size="27" text-anchor="middle" >Bi</text>
<text x="1012.3" y="166.4" font-size="27" text-anchor="middle" >Ti</text>
<text x="1084.8" y="166.4" font-size="27" text-anchor="middle" >Cs</text>
<path d="M159.9,649.0V1116.0M240.8,649.0V1116.0M324.6,649.0V1116.0M405.1,649.0V1116.0M497.1,649.0V1116.0M126.6,1038.2H574.4M126.6,960.3H574.4M126.6,804.7H574.4M126.6,726.8H574.4" fill="none" stroke="#8a8a8a" stroke-width="0.9" stroke-dasharray="1.4,1.6"/>
<path d="M652.4,649.0V1116.0M696.8,649.0V1116.0M741.2,649.0V1116.0M785.6,649.0V1116.0M608.1,1038.2H831.2M608.1,960.3H831.2M608.1,804.7H831.2M608.1,726.8H831.2" fill="none" stroke="#8a8a8a" stroke-width="0.9" stroke-dasharray="1.4,1.6"/>
<g clip-path="url(#clipc)" fill="none" stroke-linecap="round" stroke-linejoin="round">
<path d="M123.3,680.1C124.4,680.1 125.5,680.1 126.6,680.1C132.2,680.1 137.7,681.9 143.2,683.2C148.8,684.5 154.3,687.9 159.9,687.9C168.0,687.9 176.1,688.7 184.2,689.5C192.3,690.2 200.4,691.1 208.4,692.6C214.1,693.7 219.8,696.1 225.4,697.3C230.6,698.3 235.7,699.0 240.8,699.0C246.1,699.0 251.4,699.4 256.7,697.3C260.4,695.8 264.0,692.5 267.6,687.9C271.0,683.7 274.3,675.8 277.7,670.8C281.3,665.4 284.9,660.6 288.6,656.8C291.9,653.3 295.3,652.0 298.6,649.0C301.7,646.3 304.8,642.8 307.8,639.7" stroke="#1800f4" stroke-width="2.3"/>
<path d="M332.7,639.7C337.2,644.8 341.8,649.8 346.3,655.2C353.0,663.3 359.8,672.7 366.5,680.1C371.0,685.2 375.6,690.5 380.1,692.6C388.5,696.4 396.8,698.0 405.1,698.0C410.3,698.0 415.5,697.8 420.7,695.7C427.5,692.9 434.2,689.6 441.0,683.2C448.0,676.6 455.1,664.6 462.1,656.8C465.8,652.7 469.5,650.4 473.2,647.4C476.6,644.7 479.9,642.2 483.3,639.7" stroke="#1800f4" stroke-width="2.3"/>
<path d="M508.7,639.7C511.0,642.8 513.3,646.0 515.7,649.0C519.8,654.3 523.9,659.5 528.0,664.6C533.2,670.9 538.3,677.8 543.5,683.2C548.1,688.2 552.8,693.3 557.4,695.7C563.1,698.6 568.7,697.9 574.4,699.0C577.0,699.4 579.6,699.9 582.1,700.4" stroke="#1800f4" stroke-width="2.3"/>
<path d="M291.1,639.7C296.7,645.4 302.3,652.5 307.8,656.8C313.4,661.1 319.0,665.3 324.6,665.3C328.4,665.3 332.1,659.7 335.9,653.7C337.5,651.1 339.1,644.3 340.7,639.7" stroke="#7000d4" stroke-width="2.3"/>
<path d="M274.3,639.7C279.1,642.8 283.8,642.9 288.6,649.0C291.9,653.3 295.3,664.4 298.6,670.8C303.7,680.4 308.7,690.6 313.7,697.3C317.3,702.1 321.0,705.3 324.6,705.3C328.4,705.3 332.1,698.9 335.9,691.0C339.4,683.7 342.8,665.9 346.3,659.9C350.4,652.9 354.4,653.4 358.4,652.1C361.1,651.3 363.8,651.5 366.5,653.7C369.7,656.2 372.9,661.6 376.1,666.1C379.6,671.0 383.1,678.9 386.6,681.7C392.8,686.7 398.9,689.5 405.1,689.5C410.3,689.5 415.5,687.4 420.7,680.1C424.1,675.4 427.5,661.9 430.9,653.7C433.0,648.4 435.2,644.3 437.3,639.7" stroke="#7000d4" stroke-width="2.3"/>
<path d="M455.7,639.7C461.5,645.4 467.4,650.5 473.2,656.8C481.2,665.3 489.1,684.0 497.1,684.0C499.7,684.0 502.3,677.2 504.8,672.3C508.4,665.5 512.0,656.6 515.7,649.0C517.2,645.7 518.7,642.8 520.3,639.7" stroke="#7000d4" stroke-width="2.3"/>
<path d="M460.3,639.7C468.0,653.1 475.6,666.0 483.3,680.1C487.9,688.6 492.5,707.4 497.1,707.4C499.7,707.4 502.3,699.0 504.8,692.6C508.4,683.7 512.0,669.0 515.7,661.4C519.0,654.5 522.4,653.5 525.7,649.0C527.8,646.2 529.8,642.8 531.9,639.7" stroke="#7000d4" stroke-width="2.3"/>
<path d="M123.3,789.1C124.4,789.1 125.5,789.1 126.6,789.1C132.2,789.1 137.7,788.3 143.2,789.1C148.8,789.9 154.3,792.2 159.9,793.8" stroke="#2800ee" stroke-width="2.3"/><path d="M159.9,793.8C164.5,784.4 169.1,775.2 173.7,765.7" stroke="#2d00ec" stroke-width="2.3"/><path d="M173.7,765.7C179.9,752.9 186.1,735.2 192.3,726.8" stroke="#3800e8" stroke-width="2.3"/><path d="M192.3,726.8C197.7,719.6 203.0,718.3 208.4,719.0" stroke="#4400e4" stroke-width="2.3"/><path d="M208.4,719.0C213.8,719.8 219.2,727.5 224.6,731.5" stroke="#6200d6" stroke-width="2.3"/><path d="M224.6,731.5C230.0,735.5 235.4,743.2 240.8,743.2" stroke="#8100c7" stroke-width="2.3"/><path d="M240.8,743.2C244.2,743.2 247.5,738.1 250.9,734.6" stroke="#8d00c2" stroke-width="2.3"/><path d="M250.9,734.6C255.3,730.0 259.8,722.5 264.3,719.0" stroke="#8500c7" stroke-width="2.3"/><path d="M264.3,719.0C268.7,715.6 273.2,712.3 277.7,713.8" stroke="#7d00cc" stroke-width="2.3"/><path d="M277.7,713.8C281.3,714.9 284.9,720.2 288.6,726.8" stroke="#7500d1" stroke-width="2.3"/><path d="M288.6,726.8C291.9,732.9 295.3,744.3 298.6,751.7" stroke="#6b00d6" stroke-width="2.3"/><path d="M298.6,751.7C302.3,759.8 305.9,768.0 309.5,773.5" stroke="#5400de" stroke-width="2.3"/><path d="M309.5,773.5C314.5,781.2 319.6,791.6 324.6,791.6" stroke="#3800e8" stroke-width="2.3"/><path d="M324.6,791.6C328.4,791.6 332.1,782.5 335.9,776.6" stroke="#3200ea" stroke-width="2.3"/><path d="M335.9,776.6C339.4,771.2 342.8,766.1 346.3,758.0" stroke="#4600e3" stroke-width="2.3"/><path d="M346.3,758.0C349.6,750.5 352.8,736.9 356.0,729.9" stroke="#5800dd" stroke-width="2.3"/><path d="M356.0,729.9C359.5,722.4 363.0,717.2 366.5,714.4" stroke="#6a00d6" stroke-width="2.3"/><path d="M366.5,714.4C373.2,708.9 379.9,707.3 386.6,705.0" stroke="#7900ce" stroke-width="2.3"/><path d="M386.6,705.0C392.8,702.9 398.9,701.1 405.1,701.1" stroke="#8900c5" stroke-width="2.3"/><path d="M405.1,701.1C410.3,701.1 415.5,705.1 420.7,708.1" stroke="#8b00c3" stroke-width="2.3"/><path d="M420.7,708.1C424.7,710.5 428.7,715.9 432.7,717.5" stroke="#8300c8" stroke-width="2.3"/><path d="M432.7,717.5C435.8,718.7 438.8,715.7 441.9,716.7" stroke="#7d00cc" stroke-width="2.3"/><path d="M441.9,716.7C445.3,717.8 448.6,720.0 452.0,723.7" stroke="#7800cf" stroke-width="2.3"/><path d="M452.0,723.7C455.4,727.5 458.8,733.3 462.1,739.3" stroke="#7200d3" stroke-width="2.3"/><path d="M462.1,739.3C465.8,745.8 469.5,754.6 473.2,761.1" stroke="#6200d9" stroke-width="2.3"/><path d="M473.2,761.1C476.6,767.0 479.9,772.1 483.3,776.6" stroke="#4d00e1" stroke-width="2.3"/><path d="M483.3,776.6C487.9,782.9 492.5,793.6 497.1,793.6" stroke="#3600e9" stroke-width="2.3"/><path d="M497.1,793.6C500.7,793.6 504.3,782.0 507.9,773.5" stroke="#3700e8" stroke-width="2.3"/><path d="M507.9,773.5C510.5,767.5 513.1,756.9 515.7,750.2" stroke="#5000dd" stroke-width="2.3"/><path d="M515.7,750.2C519.0,741.4 522.4,733.1 525.7,726.8" stroke="#6700d2" stroke-width="2.3"/><path d="M525.7,726.8C529.3,720.1 532.9,714.9 536.5,711.3" stroke="#8400c6" stroke-width="2.3"/><path d="M536.5,711.3C538.6,709.2 540.6,708.8 542.7,709.7C545.5,710.9 548.4,716.0 551.2,717.5C558.9,721.6 566.7,723.4 574.4,726.4C577.0,726.5 579.6,726.7 582.1,726.8" stroke="#9000c0" stroke-width="2.3"/>
<path d="M240.8,743.2C246.1,743.2 251.4,746.4 256.7,745.5" stroke="#8a00c4" stroke-width="2.3"/><path d="M256.7,745.5C263.7,744.3 270.7,736.9 277.7,736.9" stroke="#7c00cd" stroke-width="2.3"/><path d="M277.7,736.9C281.3,736.9 284.9,742.4 288.6,745.5" stroke="#6f00d4" stroke-width="2.3"/><path d="M288.6,745.5C293.6,749.9 298.6,755.2 303.7,759.5" stroke="#5900dc" stroke-width="2.3"/><path d="M303.7,759.5C307.0,762.4 310.4,765.5 313.7,767.3" stroke="#4300e4" stroke-width="2.3"/><path d="M313.7,767.3C317.3,769.2 321.0,770.6 324.6,770.6" stroke="#3100eb" stroke-width="2.3"/><path d="M324.6,770.6C328.4,770.6 332.1,762.0 335.9,758.0" stroke="#3900e8" stroke-width="2.3"/><path d="M335.9,758.0C339.4,754.2 342.8,748.8 346.3,747.1" stroke="#5900dc" stroke-width="2.3"/><path d="M346.3,747.1C353.0,743.8 359.8,740.3 366.5,743.2" stroke="#7400d1" stroke-width="2.3"/><path d="M366.5,743.2C373.2,746.0 379.9,758.7 386.6,764.2" stroke="#8000ca" stroke-width="2.3"/><path d="M386.6,764.2C392.8,769.2 398.9,774.8 405.1,774.8C410.3,774.8 415.5,767.0 420.7,761.1" stroke="#8b00c3" stroke-width="2.3"/><path d="M420.7,761.1C427.5,753.3 434.2,735.5 441.0,733.7" stroke="#7e00cb" stroke-width="2.3"/><path d="M441.0,733.7C445.9,732.4 450.8,746.1 455.7,751.7" stroke="#7200d3" stroke-width="2.3"/><path d="M455.7,751.7C461.5,758.4 467.4,766.4 473.2,770.4" stroke="#4d00e1" stroke-width="2.3"/><path d="M473.2,770.4C476.6,772.7 479.9,770.6 483.3,770.6" stroke="#2900ee" stroke-width="2.3"/><path d="M483.3,770.6C487.9,770.6 492.5,770.6 497.1,770.6" stroke="#3e00e4" stroke-width="2.3"/><path d="M497.1,770.6C502.3,770.6 507.4,775.8 512.6,773.5" stroke="#5c00d7" stroke-width="2.3"/><path d="M512.6,773.5C516.9,771.6 521.3,763.1 525.7,758.0" stroke="#7c00c9" stroke-width="2.3"/><path d="M525.7,758.0C529.3,753.7 532.9,746.4 536.5,745.5C541.4,744.3 546.3,750.1 551.2,751.7C558.9,754.3 566.7,755.9 574.4,758.0C577.0,758.5 579.6,759.0 582.1,759.5" stroke="#9000c0" stroke-width="2.3"/>
<path d="M123.3,770.6C124.4,770.6 125.5,770.6 126.6,770.6C137.7,770.6 148.8,767.3 159.9,767.3C170.7,767.3 181.5,765.0 192.3,766.4C197.7,767.1 203.0,769.2 208.4,773.5C212.5,776.8 216.5,784.4 220.6,789.1C224.6,793.8 228.7,798.4 232.7,801.6C235.4,803.6 238.1,804.7 240.8,804.7C244.2,804.7 247.5,800.4 250.9,796.9C256.4,791.0 262.0,782.5 267.6,776.6C271.0,773.1 274.3,769.9 277.7,768.9C284.7,766.8 291.6,767.0 298.6,767.3C307.3,767.6 315.9,770.6 324.6,770.6C328.4,770.6 332.1,770.0 335.9,769.6C342.6,768.9 349.3,765.4 356.0,767.3C362.7,769.3 369.4,776.6 376.1,781.3C385.8,788.1 395.4,802.0 405.1,802.0C410.3,802.0 415.5,793.9 420.7,789.1C427.5,782.9 434.2,772.2 441.0,768.9C448.0,765.4 455.1,768.6 462.1,768.9C473.8,769.2 485.4,770.6 497.1,770.6C503.3,770.6 509.5,774.0 515.7,773.5C522.6,773.0 529.6,765.2 536.5,767.3C543.5,769.4 550.4,779.6 557.4,786.0C563.1,791.2 568.7,796.7 574.4,802.0C577.0,802.9 579.6,803.8 582.1,804.7" stroke="#1800f4" stroke-width="2.3"/>
<path d="M123.3,791.6C124.4,791.6 125.5,791.6 126.6,791.6C137.7,791.6 148.8,793.8 159.9,793.8C168.0,793.8 176.1,791.6 184.2,793.0C190.9,794.2 197.7,797.5 204.4,801.6C209.2,804.5 214.1,811.0 219.0,814.0C226.2,818.5 233.5,824.1 240.8,824.1C246.1,824.1 251.4,823.5 256.7,820.2C263.7,816.0 270.7,806.0 277.7,801.6C284.9,796.9 292.2,794.5 299.5,793.0C307.8,791.2 316.2,791.6 324.6,791.6C332.7,791.6 340.7,791.3 348.8,793.8C354.7,795.6 360.6,800.5 366.5,804.7C373.2,809.4 379.9,816.6 386.6,820.2C392.8,823.5 398.9,825.4 405.1,825.4C413.7,825.4 422.3,824.6 430.9,820.2C437.9,816.7 445.0,806.2 452.0,801.6C459.1,796.9 466.1,793.5 473.2,792.2C481.2,790.8 489.1,793.6 497.1,793.6C503.3,793.6 509.5,790.2 515.7,791.4C522.6,792.8 529.6,796.8 536.5,801.6C541.4,804.9 546.3,812.5 551.2,815.6C558.9,820.4 566.7,822.1 574.4,825.4C577.0,825.7 579.6,826.1 582.1,826.5" stroke="#1800f4" stroke-width="2.3"/>
<path d="M123.3,804.2C124.4,804.2 125.5,804.2 126.6,804.2" stroke="#c00090" stroke-width="2.3"/><path d="M126.6,804.2C131.5,804.2 136.4,797.8 141.3,801.6" stroke="#ab00a5" stroke-width="2.3"/><path d="M141.3,801.6C147.5,806.3 153.7,829.6 159.9,829.6" stroke="#a500ab" stroke-width="2.3"/><path d="M159.9,829.6C165.3,829.6 170.7,827.3 176.1,823.3" stroke="#ac00a1" stroke-width="2.3"/><path d="M176.1,823.3C182.0,819.0 187.9,807.9 193.9,804.7" stroke="#8200c5" stroke-width="2.3"/><path d="M193.9,804.7C197.4,802.7 200.9,805.6 204.4,807.8C211.1,811.9 217.9,818.7 224.6,823.3C230.0,827.0 235.4,832.7 240.8,832.7" stroke="#7000d4" stroke-width="2.3"/><path d="M240.8,832.7C246.4,832.7 252.0,826.3 257.6,823.3" stroke="#7300d2" stroke-width="2.3"/><path d="M257.6,823.3C264.5,819.6 271.5,815.8 278.5,812.4" stroke="#7a00ce" stroke-width="2.3"/><path d="M278.5,812.4C281.9,810.8 285.2,809.9 288.6,808.4" stroke="#8000ca" stroke-width="2.3"/><path d="M288.6,808.4C293.6,806.2 298.6,802.0 303.7,801.6" stroke="#8500c7" stroke-width="2.3"/><path d="M303.7,801.6C307.0,801.3 310.4,805.8 313.7,806.2" stroke="#8a00c4" stroke-width="2.3"/><path d="M313.7,806.2C317.3,806.7 321.0,804.2 324.6,804.2" stroke="#8e00c1" stroke-width="2.3"/><path d="M324.6,804.2C331.8,804.2 339.1,807.2 346.3,807.8" stroke="#8c00c3" stroke-width="2.3"/><path d="M346.3,807.8C353.0,808.4 359.8,807.4 366.5,807.8" stroke="#8300c8" stroke-width="2.3"/><path d="M366.5,807.8C379.3,808.6 392.2,811.5 405.1,811.5" stroke="#7800cf" stroke-width="2.3"/><path d="M405.1,811.5C414.3,811.5 423.5,813.2 432.7,812.4" stroke="#7c00ca" stroke-width="2.3"/><path d="M432.7,812.4C439.1,811.9 445.6,809.5 452.0,807.8" stroke="#9000b8" stroke-width="2.3"/><path d="M452.0,807.8C459.1,805.9 466.1,799.8 473.2,801.6" stroke="#a200aa" stroke-width="2.3"/><path d="M473.2,801.6C476.6,802.4 479.9,811.6 483.3,815.6" stroke="#b0009e" stroke-width="2.3"/><path d="M483.3,815.6C487.9,821.0 492.5,829.6 497.1,829.6" stroke="#ba0095" stroke-width="2.3"/><path d="M497.1,829.6C500.7,829.6 504.3,822.2 507.9,818.7" stroke="#b2009c" stroke-width="2.3"/><path d="M507.9,818.7C513.8,812.9 519.8,804.5 525.7,801.6" stroke="#8d00bb" stroke-width="2.3"/><path d="M525.7,801.6C529.3,799.8 532.9,802.7 536.5,804.7C541.4,807.4 546.3,812.3 551.2,815.6C558.9,820.6 566.7,824.9 574.4,829.6C577.0,830.1 579.6,830.6 582.1,831.1" stroke="#7000d4" stroke-width="2.3"/>
<path d="M159.9,910.5C165.1,901.4 170.3,896.4 175.5,883.1C180.7,869.9 185.9,842.2 191.0,831.1C195.5,821.6 199.9,821.2 204.4,821.2C208.0,821.2 211.7,822.5 215.3,831.1C219.6,841.2 223.8,867.4 228.1,877.5C232.3,887.6 236.6,887.1 240.8,891.8" stroke="#1800f4" stroke-width="2.3"/>
<path d="M240.8,891.8C245.1,887.1 249.4,887.6 253.7,877.5C258.0,867.4 262.3,841.2 266.6,831.1C270.3,822.5 274.0,821.2 277.7,821.2C282.4,821.2 287.1,821.5 291.8,831.1C297.2,842.4 302.7,870.2 308.2,883.8C313.7,897.4 319.1,903.2 324.6,912.9" stroke="#1800f4" stroke-width="2.3"/>
<path d="M324.6,912.9C329.5,903.2 334.4,897.4 339.3,883.8C344.1,870.2 349.0,842.4 353.9,831.1C358.1,821.5 362.3,821.2 366.5,821.2C370.3,821.2 374.2,822.5 378.1,831.1C382.6,841.2 387.1,867.4 391.6,877.5C396.1,887.6 400.6,887.1 405.1,891.8" stroke="#1800f4" stroke-width="2.3"/>
<path d="M405.1,891.8C409.3,887.1 413.5,887.6 417.7,877.5C421.8,867.4 426.0,841.2 430.2,831.1C433.8,822.5 437.4,821.2 441.0,821.2C446.6,821.2 452.2,821.6 457.8,831.1C464.4,842.2 470.9,869.9 477.5,883.1C484.0,896.4 490.6,901.4 497.1,910.5" stroke="#1800f4" stroke-width="2.3"/>
<path d="M497.1,910.5C502.2,901.4 507.2,896.4 512.3,883.1C517.3,869.9 522.4,842.2 527.4,831.1C531.7,821.6 536.1,821.2 540.4,821.2C543.8,821.2 547.2,822.7 550.6,831.1C554.6,841.0 558.5,866.8 562.5,876.1C566.5,885.5 570.4,883.5 574.4,887.2" stroke="#1800f4" stroke-width="2.3"/>
<path d="M123.3,859.0C124.4,859.0 125.5,859.0 126.6,859.0" stroke="#e00060" stroke-width="2.3"/><path d="M126.6,859.0C128.8,859.0 131.0,867.9 133.3,873.2" stroke="#dd0065" stroke-width="2.3"/><path d="M133.3,873.2C134.4,875.8 135.5,881.7 136.6,882.5" stroke="#d8006c" stroke-width="2.3"/><path d="M136.6,882.5C138.3,883.7 139.9,881.1 141.6,879.4" stroke="#d40072" stroke-width="2.3"/><path d="M141.6,879.4C144.4,876.5 147.1,869.4 149.9,868.5" stroke="#ce007c" stroke-width="2.3"/><path d="M149.9,868.5C153.2,867.4 156.6,873.2 159.9,873.2" stroke="#c50089" stroke-width="2.3"/><path d="M159.9,873.2C162.6,873.2 165.3,864.9 168.0,859.1" stroke="#b3009b" stroke-width="2.3"/><path d="M168.0,859.1C173.1,848.3 178.2,826.7 183.4,823.3" stroke="#8c00bc" stroke-width="2.3"/><path d="M183.4,823.3C187.7,820.5 192.0,833.0 196.3,840.5" stroke="#6c00d6" stroke-width="2.3"/><path d="M196.3,840.5C200.4,847.5 204.4,858.9 208.4,866.9" stroke="#6200d9" stroke-width="2.3"/><path d="M208.4,866.9C211.9,873.9 215.5,881.1 219.0,885.6" stroke="#5900dc" stroke-width="2.3"/><path d="M219.0,885.6C223.5,891.5 228.1,897.2 232.7,898.1" stroke="#5000e0" stroke-width="2.3"/><path d="M232.7,898.1C235.4,898.6 238.1,889.8 240.8,889.8" stroke="#4700e3" stroke-width="2.3"/><path d="M240.8,889.8C243.6,889.8 246.4,884.9 249.2,882.5" stroke="#4400e4" stroke-width="2.3"/>
<path d="M232.7,882.5C235.4,885.6 238.1,891.8 240.8,891.8" stroke="#4400e4" stroke-width="2.3"/><path d="M240.8,891.8C244.2,891.8 247.5,889.3 250.9,885.6" stroke="#4900e2" stroke-width="2.3"/><path d="M250.9,885.6C255.9,880.0 260.9,871.3 265.9,863.8" stroke="#5600dd" stroke-width="2.3"/><path d="M265.9,863.8C273.5,852.6 281.0,834.6 288.6,829.6" stroke="#6a00d6" stroke-width="2.3"/><path d="M288.6,829.6C293.6,826.3 298.6,834.7 303.7,838.9" stroke="#9400af" stroke-width="2.3"/><path d="M303.7,838.9C307.8,842.5 312.0,848.9 316.2,852.9" stroke="#b90089" stroke-width="2.3"/><path d="M316.2,852.9C319.0,855.6 321.8,859.0 324.6,859.0" stroke="#d5006c" stroke-width="2.3"/><path d="M324.6,859.0C327.3,859.0 330.0,848.4 332.7,843.6" stroke="#cd0073" stroke-width="2.3"/><path d="M332.7,843.6C337.2,835.4 341.8,826.4 346.3,820.2" stroke="#9b00a8" stroke-width="2.3"/><path d="M346.3,820.2C349.8,815.5 353.3,809.1 356.8,810.9" stroke="#6e00d5" stroke-width="2.3"/><path d="M356.8,810.9C363.2,814.3 369.7,826.1 376.1,835.8" stroke="#6200d9" stroke-width="2.3"/><path d="M376.1,835.8C380.4,842.2 384.7,854.0 389.0,859.1" stroke="#5600de" stroke-width="2.3"/><path d="M389.0,859.1C394.4,865.6 399.7,870.7 405.1,870.7" stroke="#4a00e2" stroke-width="2.3"/><path d="M405.1,870.7C411.2,870.7 417.4,871.6 423.5,866.9" stroke="#4d00e1" stroke-width="2.3"/><path d="M423.5,866.9C429.3,862.5 435.2,850.6 441.0,843.6" stroke="#5e00db" stroke-width="2.3"/><path d="M441.0,843.6C444.7,839.2 448.3,832.7 452.0,832.7" stroke="#6c00d6" stroke-width="2.3"/><path d="M452.0,832.7C457.8,832.7 463.7,837.8 469.5,843.6" stroke="#8800bc" stroke-width="2.3"/><path d="M469.5,843.6C474.1,848.2 478.7,858.8 483.3,863.8" stroke="#ae0094" stroke-width="2.3"/><path d="M483.3,863.8C487.9,868.9 492.5,873.8 497.1,873.8" stroke="#cf0071" stroke-width="2.3"/><path d="M497.1,873.8C501.0,873.8 504.8,861.1 508.7,851.4" stroke="#c4007d" stroke-width="2.3"/><path d="M508.7,851.4C511.5,844.3 514.4,824.9 517.2,823.3" stroke="#9300af" stroke-width="2.3"/><path d="M517.2,823.3C520.8,821.3 524.4,835.6 528.0,840.5C533.2,847.5 538.3,853.4 543.5,859.1C548.6,864.9 553.8,870.6 558.9,874.7C564.1,878.9 569.2,880.9 574.4,884.1C577.0,886.1 579.6,888.2 582.1,890.3" stroke="#7000d4" stroke-width="2.3"/>
<path d="M123.3,912.9C124.4,912.9 125.5,912.9 126.6,912.9C137.7,912.9 148.8,910.8 159.9,910.8C165.3,910.8 170.7,908.4 176.1,907.4C181.5,906.4 186.9,903.6 192.3,904.6C197.7,905.6 203.0,908.8 208.4,913.6C213.8,918.5 219.2,929.3 224.6,933.9C230.0,938.5 235.4,941.3 240.8,941.3C246.4,941.3 252.0,938.5 257.6,933.9C263.1,929.3 268.7,918.6 274.3,913.6C279.9,908.7 285.5,904.8 291.1,904.0C296.7,903.2 302.3,907.5 307.8,909.0C313.4,910.4 319.0,912.9 324.6,912.9C328.6,912.9 332.7,912.9 336.7,912.1C343.1,910.8 349.6,905.1 356.0,906.6C362.7,908.2 369.4,916.6 376.1,921.4C385.8,928.4 395.4,942.0 405.1,942.0C414.3,942.0 423.5,927.1 432.7,921.4C442.5,915.3 452.3,908.4 462.1,906.6C469.2,905.3 476.2,910.7 483.3,912.1C487.9,913.0 492.5,913.6 497.1,913.6C502.3,913.6 507.4,909.0 512.6,907.4C516.9,906.0 521.3,902.8 525.7,904.6C532.7,907.5 539.6,916.1 546.6,921.4C555.8,928.5 565.1,935.1 574.4,942.0C577.0,942.9 579.6,943.8 582.1,944.8" stroke="#1800f4" stroke-width="2.3"/>
<path d="M159.9,910.8C162.9,910.8 165.8,909.4 168.8,913.6" stroke="#2d00ec" stroke-width="2.3"/><path d="M168.8,913.6C172.3,918.6 175.8,929.2 179.3,938.5" stroke="#3800e8" stroke-width="2.3"/><path d="M179.3,938.5C183.6,950.0 187.9,965.1 192.3,975.9" stroke="#4700e3" stroke-width="2.3"/><path d="M192.3,975.9C195.2,983.3 198.2,992.5 201.2,993.0" stroke="#5b00dc" stroke-width="2.3"/><path d="M201.2,993.0C206.3,994.0 211.4,982.8 216.5,980.6C224.6,977.1 232.7,976.1 240.8,976.1C248.1,976.1 255.3,977.5 262.6,980.6C268.5,983.1 274.3,995.2 280.2,992.9" stroke="#7000d4" stroke-width="2.3"/><path d="M280.2,992.9C284.9,991.0 289.7,978.4 294.4,968.1" stroke="#5900dc" stroke-width="2.3"/><path d="M294.4,968.1C298.1,960.3 301.7,947.9 305.3,938.5" stroke="#4400e4" stroke-width="2.3"/><path d="M305.3,938.5C308.1,931.3 310.9,922.0 313.7,918.3" stroke="#3900e8" stroke-width="2.3"/><path d="M313.7,918.3C317.3,913.5 321.0,912.9 324.6,912.9" stroke="#2e00ec" stroke-width="2.3"/><path d="M324.6,912.9C328.4,912.9 332.1,914.0 335.9,921.4" stroke="#3500e9" stroke-width="2.3"/><path d="M335.9,921.4C340.2,929.9 344.5,950.1 348.8,960.3" stroke="#5000e0" stroke-width="2.3"/><path d="M348.8,960.3C354.7,974.5 360.6,993.2 366.5,994.6C371.3,995.7 376.1,973.3 381.0,968.1C389.0,959.4 397.1,952.9 405.1,952.9C414.3,952.9 423.5,960.5 432.7,968.1C439.1,973.5 445.6,993.3 452.0,991.9" stroke="#7000d4" stroke-width="2.3"/><path d="M452.0,991.9C457.8,990.7 463.7,972.7 469.5,960.3" stroke="#5700dd" stroke-width="2.3"/><path d="M469.5,960.3C474.7,949.2 479.9,930.2 485.1,921.4" stroke="#2c00ed" stroke-width="2.3"/><path d="M485.1,921.4C489.1,914.7 493.1,913.6 497.1,913.6" stroke="#3b00e7" stroke-width="2.3"/><path d="M497.1,913.6C501.0,913.6 504.8,927.7 508.7,937.0" stroke="#5000e0" stroke-width="2.3"/><path d="M508.7,937.0C513.1,947.5 517.5,964.5 521.8,972.8" stroke="#6700d7" stroke-width="2.3"/><path d="M521.8,972.8C526.5,981.6 531.1,987.4 535.8,988.4C540.9,989.4 546.1,982.6 551.2,979.0C555.1,976.3 558.9,971.5 562.8,969.7C566.7,967.9 570.5,968.6 574.4,968.1C577.0,968.1 579.6,968.1 582.1,968.1" stroke="#7000d4" stroke-width="2.3"/>
<path d="M123.3,912.9C124.4,912.9 125.5,912.9 126.6,912.9C137.7,912.9 148.8,909.7 159.9,909.7C163.9,909.7 168.0,919.3 172.0,929.2C177.4,942.4 182.8,962.9 188.2,979.0C195.0,999.2 201.7,1020.9 208.4,1038.2C213.8,1052.0 219.2,1065.0 224.6,1072.4C230.0,1079.8 235.4,1082.4 240.8,1082.4C246.4,1082.4 252.0,1079.8 257.6,1072.4C263.1,1065.0 268.7,1052.0 274.3,1038.2C281.3,1020.9 288.3,999.2 295.3,979.0C300.9,962.9 306.4,941.8 312.0,929.2C316.2,919.7 320.4,912.9 324.6,912.9C328.6,912.9 332.7,919.7 336.7,929.2C342.0,941.8 347.4,961.7 352.8,979.0C359.5,1000.6 366.2,1026.4 372.9,1046.0C378.3,1061.6 383.6,1076.8 389.0,1084.9C394.4,1092.9 399.7,1094.2 405.1,1094.2C411.2,1094.2 417.4,1092.9 423.5,1084.9C429.6,1076.8 435.8,1061.6 441.9,1046.0C449.6,1026.4 457.2,1000.6 464.9,979.0C471.0,961.7 477.2,941.7 483.3,929.2C487.9,919.9 492.5,913.6 497.1,913.6C501.0,913.6 504.8,933.6 508.7,944.8C513.8,959.6 519.0,976.4 524.2,991.5C529.3,1006.5 534.5,1024.7 539.6,1035.1C543.5,1042.8 547.3,1043.0 551.2,1046.0C558.9,1051.8 566.7,1056.3 574.4,1061.5C577.0,1064.1 579.6,1066.7 582.1,1069.3" stroke="#1800f4" stroke-width="2.3"/>
<path d="M123.3,1053.1C124.4,1053.1 125.5,1053.1 126.6,1053.1C132.2,1053.1 137.7,1055.8 143.2,1058.4C148.8,1061.0 154.3,1068.7 159.9,1068.7" stroke="#c00090" stroke-width="2.3"/><path d="M159.9,1068.7C168.0,1068.7 176.1,1064.1 184.2,1061.5" stroke="#a200aa" stroke-width="2.3"/><path d="M184.2,1061.5C188.2,1060.2 192.3,1059.4 196.3,1056.9" stroke="#7500d0" stroke-width="2.3"/><path d="M196.3,1056.9C200.6,1054.2 204.9,1046.4 209.2,1046.0" stroke="#6600d7" stroke-width="2.3"/><path d="M209.2,1046.0C214.4,1045.4 219.5,1050.7 224.6,1053.7" stroke="#5a00dc" stroke-width="2.3"/><path d="M224.6,1053.7C230.0,1056.9 235.4,1064.6 240.8,1064.6" stroke="#4b00e1" stroke-width="2.3"/><path d="M240.8,1064.6C245.3,1064.6 249.7,1056.8 254.2,1053.7" stroke="#4d00e1" stroke-width="2.3"/><path d="M254.2,1053.7C258.1,1051.1 262.0,1048.9 265.9,1047.5" stroke="#5d00db" stroke-width="2.3"/><path d="M265.9,1047.5C267.9,1046.8 269.9,1046.7 271.8,1047.7" stroke="#6900d7" stroke-width="2.3"/><path d="M271.8,1047.7C274.0,1048.8 276.3,1050.9 278.5,1053.7" stroke="#7300d2" stroke-width="2.3"/><path d="M278.5,1053.7C281.9,1058.1 285.2,1067.7 288.6,1069.3" stroke="#8d00bb" stroke-width="2.3"/><path d="M288.6,1069.3C294.2,1071.9 299.7,1068.7 305.3,1066.2" stroke="#b80097" stroke-width="2.3"/><path d="M305.3,1066.2C311.8,1063.3 318.2,1053.1 324.6,1053.1" stroke="#c00090" stroke-width="2.3"/><path d="M324.6,1053.1C328.4,1053.1 332.1,1058.7 335.9,1061.5" stroke="#ad00a0" stroke-width="2.3"/><path d="M335.9,1061.5C342.6,1066.6 349.3,1074.7 356.0,1077.1" stroke="#7900cc" stroke-width="2.3"/><path d="M356.0,1077.1C359.5,1078.3 363.0,1072.1 366.5,1072.4C369.7,1072.7 372.9,1075.9 376.1,1078.6C379.6,1081.6 383.1,1087.9 386.6,1089.5C392.8,1092.5 398.9,1092.7 405.1,1092.7" stroke="#7000d4" stroke-width="2.3"/>
<path d="M123.3,1068.7C124.4,1068.7 125.5,1068.7 126.6,1068.7C137.7,1068.7 148.8,1068.7 159.9,1068.7C170.7,1068.7 181.5,1064.5 192.3,1064.6C200.3,1064.7 208.4,1066.3 216.5,1069.3C224.6,1072.3 232.7,1082.4 240.8,1082.4C249.2,1082.4 257.6,1072.3 265.9,1069.3C274.3,1066.3 282.7,1064.9 291.1,1064.6C302.3,1064.3 313.4,1067.7 324.6,1067.7C335.1,1067.7 345.5,1065.1 356.0,1065.4C364.3,1065.6 372.6,1067.5 381.0,1069.3C389.0,1071.1 397.1,1076.3 405.1,1076.3C417.1,1076.3 429.0,1069.7 441.0,1067.7C451.7,1066.0 462.4,1065.1 473.2,1065.4C481.2,1065.6 489.1,1069.3 497.1,1069.3C503.3,1069.3 509.5,1065.4 515.7,1065.4C522.6,1065.4 529.6,1067.6 536.5,1069.3C543.5,1071.0 550.4,1073.4 557.4,1075.5C563.1,1077.3 568.7,1079.2 574.4,1081.0C577.0,1081.8 579.6,1082.5 582.1,1083.3" stroke="#1800f4" stroke-width="2.3"/>
<path d="M423.5,1074.0C429.6,1071.9 435.8,1068.8 441.9,1067.7" stroke="#7d00c9" stroke-width="2.3"/><path d="M441.9,1067.7C451.1,1066.2 460.3,1065.9 469.5,1066.2" stroke="#9f00ac" stroke-width="2.3"/><path d="M469.5,1066.2C478.7,1066.5 487.9,1069.3 497.1,1069.3C502.3,1069.3 507.4,1067.0 512.6,1066.2C517.7,1065.4 522.9,1065.7 528.0,1064.6" stroke="#c00090" stroke-width="2.3"/><path d="M528.0,1064.6C532.9,1063.6 537.8,1058.3 542.7,1060.0" stroke="#8c00bc" stroke-width="2.3"/><path d="M542.7,1060.0C545.5,1060.9 548.4,1068.6 551.2,1072.4C553.8,1075.9 556.4,1080.4 558.9,1081.8C564.1,1084.5 569.2,1083.8 574.4,1084.9C577.0,1084.9 579.6,1084.9 582.1,1084.9" stroke="#7000d4" stroke-width="2.3"/>
<path d="M133.3,1131.6C136.6,1122.2 139.9,1110.8 143.2,1103.6C148.8,1091.6 154.3,1074.0 159.9,1074.0C165.3,1074.0 170.7,1083.0 176.1,1089.5C178.8,1092.8 181.5,1102.7 184.2,1103.6C188.2,1104.8 192.3,1093.7 196.3,1095.8C200.4,1097.8 204.4,1108.8 208.4,1116.0C211.1,1120.8 213.8,1126.4 216.5,1131.6" stroke="#c00090" stroke-width="2.3"/>
<path d="M441.9,1131.6C451.1,1121.2 460.3,1110.0 469.5,1100.4C478.7,1090.8 487.9,1074.0 497.1,1074.0C502.3,1074.0 507.4,1087.6 512.6,1094.2C515.1,1097.5 517.7,1103.3 520.3,1103.6C524.2,1103.9 528.0,1093.7 531.9,1095.8C535.8,1097.8 539.6,1108.8 543.5,1116.0C546.1,1120.8 548.6,1126.4 551.2,1131.6" stroke="#c00090" stroke-width="2.3"/>
<path d="M146.6,1131.6C148.8,1118.6 151.0,1103.1 153.2,1092.7C155.5,1082.2 157.7,1068.7 159.9,1068.7C168.0,1068.7 176.1,1080.1 184.2,1092.7C189.6,1101.0 195.0,1118.6 200.4,1131.6" stroke="#9000c0" stroke-width="2.3"/>
<path d="M432.7,1131.6C438.8,1123.8 445.0,1114.2 451.1,1108.2C455.7,1103.8 460.3,1104.3 464.9,1100.4C469.5,1096.5 474.1,1089.3 478.7,1084.9C484.8,1078.9 491.0,1069.3 497.1,1069.3C504.8,1069.3 512.6,1088.0 520.3,1100.4C525.4,1108.7 530.6,1121.2 535.8,1131.6" stroke="#9000c0" stroke-width="2.3"/>
<path d="M265.9,1131.6C270.7,1126.4 275.4,1122.5 280.2,1116.0C283.0,1112.2 285.8,1101.6 288.6,1100.4C292.2,1099.0 295.8,1103.4 299.5,1108.2C303.7,1113.8 307.8,1123.8 312.0,1131.6" stroke="#7000d4" stroke-width="2.3"/>
<path d="M274.3,1131.6C282.7,1118.6 291.1,1105.7 299.5,1092.7C307.8,1079.6 316.2,1053.1 324.6,1053.1C330.0,1053.1 335.3,1073.2 340.7,1084.9C347.4,1099.4 354.1,1116.0 360.8,1131.6" stroke="#c00090" stroke-width="2.3"/>
<path d="M348.8,1131.6C354.1,1121.2 359.5,1105.6 364.9,1100.4C367.5,1097.8 370.2,1106.5 372.9,1108.2C378.3,1111.7 383.6,1114.7 389.0,1116.0C394.4,1117.3 399.7,1116.0 405.1,1116.0C411.2,1116.0 417.4,1116.0 423.5,1116.0" stroke="#7000d4" stroke-width="2.3"/>
</g>
<g clip-path="url(#dclipc)" fill="none" stroke-linejoin="round">
<path d="M608.1,648.4 C609.6,648.4 611.2,646.8 616.9,648.4 C622.5,650.0 637.6,654.7 642.1,657.9 C646.7,661.1 638.3,663.9 644.2,667.4 C650.2,670.9 673.4,676.5 678.0,679.0 C682.5,681.4 670.6,680.2 671.6,682.1 C672.7,684.1 685.7,688.8 684.3,690.6 C682.9,692.3 671.6,692.0 663.2,692.7 C654.8,693.4 637.8,693.4 633.7,694.8 C629.7,696.2 639.3,698.6 639.0,701.1 C638.6,703.6 634.2,707.1 631.6,709.5 C629.0,712.0 622.8,713.4 623.2,715.9 C623.5,718.3 630.6,721.1 633.7,724.3 C636.9,727.4 639.3,731.3 642.1,734.8 C645.0,738.3 646.7,742.9 650.6,745.4 C654.4,747.8 665.0,748.2 665.3,749.6 C665.7,751.0 655.5,751.8 652.7,753.8 C649.9,755.7 621.4,759.6 648.5,761.2 C675.5,762.7 812.5,762.7 814.9,763.3 C817.4,763.8 693.4,762.7 663.2,764.3 C633.0,765.9 635.5,770.3 633.7,772.7 C632.0,775.2 646.0,777.3 652.7,779.1 C659.3,780.8 662.9,781.7 673.7,783.3 C684.6,784.9 714.1,787.1 718.0,788.5 C721.9,790.0 698.7,790.5 696.9,791.7 C695.2,792.9 713.1,794.5 707.5,795.9 C701.8,797.3 674.1,798.4 663.2,800.1 C652.3,801.9 647.1,804.0 642.1,806.5 C637.2,808.9 632.3,812.4 633.7,814.9 C635.1,817.3 645.7,819.4 650.6,821.2 C655.5,823.0 664.6,823.7 663.2,825.4 C661.8,827.2 648.1,828.9 642.1,831.7 C636.2,834.5 628.8,838.8 627.4,842.3 C626.0,845.8 628.8,850.0 633.7,852.8 C638.6,855.6 650.6,856.8 656.9,859.1 C663.2,861.4 671.3,864.4 671.6,866.5 C672.0,868.6 665.7,869.8 659.0,871.8 C652.3,873.7 635.1,877.6 631.6,878.1 C628.1,878.6 639.7,874.3 637.9,875.0 C636.2,875.7 622.1,880.3 621.1,882.4 C620.0,884.5 626.3,885.7 631.6,887.6 C636.9,889.6 647.1,892.2 652.7,894.0 C658.3,895.7 662.9,896.8 665.3,898.2 C667.8,899.6 662.9,901.0 667.4,902.4 C672.0,903.8 693.4,905.4 692.7,906.6 C692.0,907.8 663.9,908.4 663.2,909.8 C662.5,911.2 688.5,913.8 688.5,915.0 C688.5,916.3 672.3,915.7 663.2,917.1 C654.1,918.5 640.0,921.4 633.7,923.5 C627.4,925.6 628.8,927.7 625.3,929.8 C621.8,931.9 614.7,933.6 612.6,936.1 C610.5,938.6 610.2,941.4 612.6,944.5 C615.1,947.7 620.7,952.6 627.4,955.1 C634.1,957.5 643.9,958.4 652.7,959.3 C661.5,960.2 680.1,959.3 680.1,960.3 C680.1,961.4 655.8,963.7 652.7,965.6 C649.5,967.5 662.9,970.2 661.1,971.9 C659.3,973.7 649.5,973.3 642.1,976.1 C634.8,978.9 622.1,986.0 616.9,988.8 C611.6,991.6 611.2,989.5 610.5,993.0 C609.8,996.5 611.6,1004.9 612.6,1009.9 C613.7,1014.8 615.5,1018.3 616.9,1022.5 C618.3,1026.7 618.6,1031.6 621.1,1035.1 C623.5,1038.6 625.3,1040.8 631.6,1043.6 C637.9,1046.4 647.8,1049.5 659.0,1052.0 C670.2,1054.4 687.1,1056.9 699.0,1058.3 C711.0,1059.7 731.7,1059.4 730.6,1060.4 C729.6,1061.5 693.4,1063.2 692.7,1064.6 C692.0,1066.0 729.6,1067.1 726.4,1068.8 C723.3,1070.6 687.1,1073.1 673.7,1075.2 C660.4,1077.3 650.6,1079.4 646.4,1081.5 C642.1,1083.6 644.6,1085.7 648.5,1087.8 C652.3,1089.9 657.9,1092.4 669.5,1094.1 C681.1,1095.8 717.3,1096.5 718.0,1097.9 C718.7,1099.3 683.6,1101.1 673.7,1102.6 C663.9,1104.0 657.2,1104.7 659.0,1106.8 C660.8,1108.9 692.8,1113.8 684.3,1115.2 C675.8,1116.6 620.8,1115.2 608.1,1115.2Z" fill="#d3d3d3" stroke="#d3d3d3" stroke-width="0.8"/>
<path d="M610.5,648.4 C610.7,650.5 610.9,656.2 611.6,661.1 C612.3,666.0 614.4,672.7 614.7,677.9 C615.1,683.2 614.2,688.5 613.7,692.7 C613.2,696.9 612.1,697.9 611.6,703.2 C611.1,708.5 610.4,718.0 610.5,724.3 C610.7,730.6 611.9,735.5 612.6,741.1 C613.3,746.8 613.2,754.2 614.7,758.0 C616.3,761.8 622.8,762.5 622.1,763.9 C621.4,765.3 612.5,764.2 610.5,766.4 C608.6,768.6 609.8,772.4 610.5,777.0 C611.2,781.5 613.0,790.7 614.7,793.8 C616.5,797.0 621.4,794.2 621.1,795.9 C620.7,797.7 614.4,800.5 612.6,804.3 C610.9,808.2 610.5,814.9 610.5,819.1 C610.5,823.3 612.8,824.4 612.6,829.6 C612.5,834.9 609.5,845.4 609.5,850.7 C609.5,856.0 612.3,856.7 612.6,861.2 C613.0,865.8 612.1,875.8 611.6,878.1 C611.1,880.4 609.8,874.1 609.5,875.0 C609.1,875.9 609.0,879.9 609.5,883.4 C610.0,886.9 610.9,891.9 612.6,896.1 C614.4,900.3 620.4,906.3 620.0,908.7 C619.7,911.2 610.7,909.8 610.5,910.8 C610.4,911.9 619.0,913.3 619.0,915.0 C619.0,916.8 612.1,917.5 610.5,921.4 C609.0,925.2 609.1,932.6 609.5,938.2 C609.8,943.8 610.9,951.4 612.6,955.1 C614.4,958.8 619.7,958.2 620.0,960.3 C620.4,962.4 614.9,965.4 614.7,967.7 C614.6,970.0 619.7,971.2 619.0,974.0 C618.3,976.8 612.3,980.0 610.5,984.6 C608.8,989.1 608.4,993.3 608.4,1001.4 C608.4,1009.5 609.5,1026.0 610.5,1033.0 C611.6,1040.1 613.0,1040.1 614.7,1043.6 C616.5,1047.1 619.0,1051.6 621.1,1054.1 C623.2,1056.6 627.7,1056.9 627.4,1058.3 C627.0,1059.7 619.0,1060.8 619.0,1062.5 C619.0,1064.3 627.7,1066.7 627.4,1068.8 C627.0,1071.0 619.3,1072.4 616.9,1075.2 C614.4,1078.0 613.0,1082.5 612.6,1085.7 C612.3,1088.9 612.3,1092.0 614.7,1094.1 C617.2,1096.2 626.7,1096.9 627.4,1098.3 C628.1,1099.8 620.0,1100.8 619.0,1102.6 C617.9,1104.3 621.4,1107.1 621.1,1108.9 C620.7,1110.6 617.0,1111.9 616.9,1113.1 C616.7,1114.3 619.5,1115.7 620.0,1116.3" stroke="#ff0000" stroke-width="2.2"/>
<path d="M616.9,648.4 C616.5,649.7 612.1,654.2 614.7,655.8 C617.4,657.4 629.5,655.3 632.7,657.9 C635.8,660.5 629.7,668.1 633.7,671.6 C637.8,675.1 653.9,676.2 656.9,679.0 C659.9,681.8 650.6,686.5 651.6,688.5 C652.7,690.4 667.6,689.6 663.2,690.6 C658.8,691.6 631.8,691.6 625.3,694.4 C618.8,697.2 625.6,703.7 624.2,707.4 C622.8,711.2 617.0,713.4 616.9,716.9 C616.7,720.4 620.7,724.5 623.2,728.5 C625.6,732.5 627.7,737.6 631.6,741.1 C635.5,744.6 645.1,747.3 646.4,749.6 C647.6,751.8 639.7,752.9 639.0,754.8 C638.3,756.8 618.8,759.7 642.1,761.2 C665.5,762.6 772.1,762.6 779.1,763.3 C786.1,764.0 708.9,763.6 684.3,765.4 C659.7,767.1 636.9,771.5 631.6,773.8 C626.3,776.1 645.3,777.1 652.7,779.1 C660.1,781.0 668.3,783.8 675.9,785.4 C683.4,787.0 700.4,787.3 698.0,788.5 C695.5,789.8 665.3,791.7 661.1,792.8 C656.9,793.8 674.8,793.8 672.7,794.9 C670.6,795.9 655.0,797.1 648.5,799.1 C642.0,801.0 637.6,803.5 633.7,806.5 C629.8,809.4 624.6,814.5 625.3,817.0 C626.0,819.4 634.1,819.6 637.9,821.2 C641.8,822.8 650.9,823.0 648.5,826.5 C646.0,830.0 626.7,837.4 623.2,842.3 C619.7,847.2 623.5,852.6 627.4,856.0 C631.3,859.3 641.6,860.4 646.4,862.3 C651.1,864.2 654.8,866.0 655.8,867.6 C656.9,869.1 658.1,870.2 652.7,871.8 C647.2,873.4 625.6,876.5 623.2,877.0 C620.7,877.6 638.3,874.8 637.9,875.0 C637.6,875.2 623.7,876.4 621.1,878.2 C618.4,879.9 618.6,882.9 622.1,885.5 C625.6,888.2 637.6,891.7 642.1,894.0 C646.7,896.2 648.1,897.7 649.5,899.2 C650.9,900.8 647.2,902.4 650.6,903.4 C653.9,904.5 667.8,904.7 669.5,905.6 C671.3,906.4 668.0,907.8 661.1,908.7 C654.3,909.6 631.6,909.9 628.4,910.8 C625.3,911.7 636.7,913.1 642.1,914.0 C647.6,914.9 662.2,915.2 661.1,916.1 C660.1,917.0 642.1,917.3 635.8,919.2 C629.5,921.2 626.0,925.0 623.2,927.7 C620.4,930.3 621.1,933.6 619.0,935.1 C616.9,936.5 611.9,934.2 610.5,936.1 C609.1,938.0 609.8,943.7 610.5,946.6 C611.2,949.6 609.5,952.1 614.7,954.0 C620.0,955.9 635.1,957.2 642.1,958.2 C649.2,959.3 657.9,959.1 656.9,960.3 C655.8,961.6 639.7,963.5 635.8,965.6 C632.0,967.7 635.8,970.9 633.7,973.0 C631.6,975.1 627.0,975.4 623.2,978.2 C619.3,981.1 612.6,986.7 610.5,989.8 C608.4,993.0 610.2,991.8 610.5,997.2 C610.9,1002.7 611.6,1015.8 612.6,1022.5 C613.7,1029.2 614.4,1033.4 616.9,1037.2 C619.3,1041.1 622.5,1043.2 627.4,1045.7 C632.3,1048.1 640.7,1050.2 646.4,1052.0 C652.0,1053.7 658.3,1055.0 661.1,1056.2 C663.9,1057.4 658.3,1058.7 663.2,1059.4 C668.1,1060.1 691.3,1059.7 690.6,1060.4 C689.9,1061.1 663.6,1062.5 659.0,1063.6 C654.4,1064.6 657.8,1065.8 663.2,1066.7 C668.7,1067.7 693.1,1068.2 691.7,1069.3 C690.3,1070.3 664.8,1071.7 654.8,1073.1 C644.8,1074.4 636.2,1075.5 631.6,1077.3 C627.0,1079.0 627.4,1081.1 627.4,1083.6 C627.4,1086.1 628.4,1089.9 631.6,1092.0 C634.8,1094.1 640.4,1095.2 646.4,1096.2 C652.3,1097.3 668.1,1097.6 667.4,1098.3 C666.7,1099.0 647.8,1099.4 642.1,1100.5 C636.5,1101.5 634.4,1103.3 633.7,1104.7 C633.0,1106.1 634.9,1107.1 637.9,1108.9 C640.9,1110.6 649.3,1114.1 651.6,1115.2" stroke="#0000ff" stroke-width="2.4"/>
<path d="M608.6,645.0 L608.6,1120.0" stroke="#008000" stroke-width="1.6"/>
</g>
<path d="M126.6,882.5H574.4" stroke="#2a2a2a" stroke-width="1.1"/>
<rect x="126.6" y="649.0" width="447.8" height="467.0" fill="none" stroke="#a8a8a8" stroke-width="1"/>
<path d="M608.1,882.5H831.2" stroke="#000" stroke-width="1"/>
<rect x="608.1" y="649.0" width="223.1" height="467.0" fill="none" stroke="#a8a8a8" stroke-width="1"/>
<text x="117.2" y="656.4" font-size="28" text-anchor="end" textLength="42.5" lengthAdjust="spacingAndGlyphs" >1.5</text>
<text x="117.2" y="735.8" font-size="28" text-anchor="end" textLength="42.5" lengthAdjust="spacingAndGlyphs" >1.0</text>
<text x="117.2" y="816.2" font-size="28" text-anchor="end" textLength="42.5" lengthAdjust="spacingAndGlyphs" >0.5</text>
<text x="117.2" y="895.8" font-size="28" text-anchor="end" textLength="42.5" lengthAdjust="spacingAndGlyphs" >0.0</text>
<text x="117.2" y="974.0" font-size="28" text-anchor="end" textLength="67.5" lengthAdjust="spacingAndGlyphs" >−0.5</text>
<text x="117.2" y="1053.9" font-size="28" text-anchor="end" textLength="67.5" lengthAdjust="spacingAndGlyphs" >−1.0</text>
<text x="117.2" y="1132.6" font-size="28" text-anchor="end" textLength="67.5" lengthAdjust="spacingAndGlyphs" >−1.5</text>
<text x="124.9" y="1153.5" font-size="29.5" text-anchor="middle" textLength="20.8" lengthAdjust="spacingAndGlyphs" font-style="italic">Γ</text>
<text x="158.4" y="1153.5" font-size="29.5" text-anchor="middle" textLength="21.0" lengthAdjust="spacingAndGlyphs" font-style="italic">Z</text>
<text x="240.6" y="1153.5" font-size="29.5" text-anchor="middle" textLength="22.6" lengthAdjust="spacingAndGlyphs" font-style="italic">F</text>
<text x="323.4" y="1153.5" font-size="29.5" text-anchor="middle" textLength="20.8" lengthAdjust="spacingAndGlyphs" font-style="italic">Γ</text>
<text x="405.8" y="1153.5" font-size="29.5" text-anchor="middle" textLength="21.5" lengthAdjust="spacingAndGlyphs" font-style="italic">L</text>
<text x="496.9" y="1153.5" font-size="29.5" text-anchor="middle" textLength="21.0" lengthAdjust="spacingAndGlyphs" font-style="italic">Z</text>
<text x="578.3" y="1153.5" font-size="29.5" text-anchor="middle" textLength="24.5" lengthAdjust="spacingAndGlyphs" font-style="italic">P</text>
<text x="722.5" y="1155.7" font-size="30" text-anchor="middle" textLength="69.4" lengthAdjust="spacingAndGlyphs" >DOS</text>
<rect x="126.6" y="649.0" width="113" height="113" fill="#fff" fill-opacity="0.86" stroke="#aaa" stroke-width="1"/>
<g clip-path="url(#tric)"><g filter="url(#gam)"><rect x="151.4" y="681.8" width="57.7" height="49.4" fill="url(#gRc)"/><rect x="151.4" y="681.8" width="57.7" height="49.4" fill="url(#gGc)" style="mix-blend-mode:screen"/><rect x="151.4" y="681.8" width="57.7" height="49.4" fill="url(#gBc)" style="mix-blend-mode:screen"/></g></g>
<text x="175.7" y="677.2" font-size="27" text-anchor="middle" >Ge</text>
<text x="149.8" y="751.8" font-size="27" text-anchor="middle" >Te</text>
<text x="220.5" y="751.8" font-size="27" text-anchor="middle" >Cs</text>
<path d="M1021.5,652.9V1120.0M1103.0,652.9V1120.0M1186.6,652.9V1120.0M1268.5,652.9V1120.0M1359.5,652.9V1120.0M989.6,1042.2H1437.5M989.6,964.3H1437.5M989.6,808.6H1437.5M989.6,730.8H1437.5" fill="none" stroke="#8a8a8a" stroke-width="0.9" stroke-dasharray="1.4,1.6"/>
<path d="M1502.6,652.9V1120.0M1543.0,652.9V1120.0M1583.3,652.9V1120.0M1623.5,652.9V1120.0M1663.7,652.9V1120.0M1471.4,1042.2H1695.5M1471.4,964.3H1695.5M1471.4,808.6H1695.5M1471.4,730.8H1695.5" fill="none" stroke="#8a8a8a" stroke-width="0.9" stroke-dasharray="1.4,1.6"/>
<g clip-path="url(#clipd)" fill="none" stroke-linecap="round" stroke-linejoin="round">
<path d="M986.4,673.1C987.5,673.1 988.5,673.1 989.6,673.1C1000.2,673.1 1010.9,673.1 1021.5,673.1C1035.1,673.1 1048.7,668.2 1062.2,668.5C1075.8,668.7 1089.4,674.7 1103.0,674.7C1116.9,674.7 1130.9,674.7 1144.8,671.6C1158.7,668.5 1172.7,656.0 1186.6,656.0C1200.2,656.0 1213.9,671.8 1227.5,674.7C1241.2,677.6 1254.8,673.1 1268.5,673.1C1283.7,673.1 1298.8,670.5 1314.0,668.5C1329.2,666.4 1344.3,660.7 1359.5,660.7C1372.5,660.7 1385.5,669.8 1398.5,671.6C1411.5,673.4 1424.5,671.6 1437.5,671.6C1440.1,671.6 1442.7,671.6 1445.3,671.6" stroke="#1800f4" stroke-width="2.3"/>
<path d="M986.4,660.7C987.5,660.7 988.5,660.7 989.6,660.7C1000.2,660.7 1010.9,660.7 1021.5,660.7C1035.1,660.7 1048.7,673.9 1062.2,674.7C1075.8,675.5 1089.4,665.4 1103.0,665.4C1116.9,665.4 1130.9,686.1 1144.8,684.0C1158.7,682.0 1172.7,652.9 1186.6,652.9C1200.2,652.9 1213.9,682.0 1227.5,687.2C1241.2,692.3 1254.8,684.0 1268.5,684.0C1283.7,684.0 1298.8,684.3 1314.0,680.9C1329.2,677.6 1344.3,663.8 1359.5,663.8C1372.5,663.8 1385.5,672.9 1398.5,676.3C1411.5,679.6 1424.5,681.4 1437.5,684.0C1440.1,684.0 1442.7,684.0 1445.3,684.0" stroke="#1800f4" stroke-width="2.3"/>
<path d="M986.4,707.4C987.5,707.4 988.5,707.4 989.6,707.4C1000.2,707.4 1010.9,707.4 1021.5,707.4C1035.1,707.4 1048.7,708.2 1062.2,709.0C1075.8,709.7 1089.4,712.1 1103.0,712.1C1119.7,712.1 1136.4,692.8 1153.2,690.3C1164.3,688.6 1175.5,699.6 1186.6,699.6C1197.5,699.6 1208.4,692.9 1219.4,694.9C1235.7,698.1 1252.1,715.2 1268.5,715.2C1283.7,715.2 1298.8,709.2 1314.0,707.4C1329.2,705.6 1344.3,704.3 1359.5,704.3C1372.5,704.3 1385.5,695.2 1398.5,696.5C1411.5,697.8 1424.5,706.9 1437.5,712.1C1440.1,712.1 1442.7,712.1 1445.3,712.1" stroke="#1800f4" stroke-width="2.3"/>
<path d="M986.4,721.4C987.5,721.4 988.5,721.4 989.6,721.4C1000.2,721.4 1010.9,721.4 1021.5,721.4C1035.1,721.4 1048.7,720.4 1062.2,719.9C1075.8,719.3 1089.4,718.3 1103.0,718.3C1116.9,718.3 1130.9,715.4 1144.8,715.2C1158.7,714.9 1172.7,716.7 1186.6,716.7C1200.2,716.7 1213.9,717.5 1227.5,718.3C1241.2,719.1 1254.8,721.4 1268.5,721.4C1283.7,721.4 1298.8,720.6 1314.0,719.9C1329.2,719.1 1344.3,716.7 1359.5,716.7C1372.5,716.7 1385.5,717.8 1398.5,718.3C1411.5,718.8 1424.5,719.3 1437.5,719.9C1440.1,719.9 1442.7,719.9 1445.3,719.9" stroke="#1800f4" stroke-width="2.3"/>
<path d="M986.4,724.5C987.5,724.5 988.5,724.5 989.6,724.5C1000.2,724.5 1010.9,723.0 1021.5,723.0C1048.7,723.0 1075.8,723.0 1103.0,723.0C1130.9,723.0 1158.7,715.2 1186.6,715.2C1213.9,715.2 1241.2,724.5 1268.5,724.5C1298.8,724.5 1329.2,715.2 1359.5,715.2C1385.5,715.2 1411.5,721.4 1437.5,724.5C1440.1,724.5 1442.7,724.5 1445.3,724.5" stroke="#1800f4" stroke-width="2.3"/>
<path d="M986.4,743.2C987.5,743.2 988.5,743.2 989.6,743.2C1000.2,743.2 1010.9,743.2 1021.5,743.2C1035.1,743.2 1048.7,746.6 1062.2,746.3C1075.8,746.1 1089.4,741.6 1103.0,741.6C1116.9,741.6 1130.9,738.3 1144.8,738.5C1158.7,738.8 1172.7,743.2 1186.6,743.2C1200.2,743.2 1213.9,749.4 1227.5,752.5C1241.2,755.7 1254.8,761.9 1268.5,761.9C1283.7,761.9 1298.8,752.8 1314.0,749.4C1329.2,746.1 1344.3,741.6 1359.5,741.6C1372.5,741.6 1385.5,740.9 1398.5,743.2C1411.5,745.5 1424.5,751.5 1437.5,755.7C1440.1,755.7 1442.7,755.7 1445.3,755.7" stroke="#1800f4" stroke-width="2.3"/>
<path d="M986.4,765.0C987.5,765.0 988.5,765.0 989.6,765.0C1000.2,765.0 1010.9,765.0 1021.5,765.0C1035.1,765.0 1048.7,771.2 1062.2,774.3C1075.8,777.5 1089.4,783.7 1103.0,783.7C1116.9,783.7 1130.9,772.8 1144.8,769.7C1158.7,766.6 1172.7,765.0 1186.6,765.0C1200.2,765.0 1213.9,772.8 1227.5,777.5C1241.2,782.1 1254.8,793.0 1268.5,793.0C1283.7,793.0 1298.8,782.1 1314.0,777.5C1329.2,772.8 1344.3,765.0 1359.5,765.0C1372.5,765.0 1385.5,765.0 1398.5,768.1C1411.5,771.2 1424.5,778.5 1437.5,783.7C1440.1,783.7 1442.7,783.7 1445.3,783.7" stroke="#1800f4" stroke-width="2.3"/>
<path d="M986.4,780.6C987.5,780.6 988.5,780.6 989.6,780.6C1000.2,780.6 1010.9,777.5 1021.5,777.5C1035.1,777.5 1048.7,781.6 1062.2,783.7C1075.8,785.8 1089.4,789.9 1103.0,789.9C1116.9,789.9 1130.9,784.2 1144.8,782.1C1158.7,780.1 1172.7,777.5 1186.6,777.5C1200.2,777.5 1213.9,786.5 1227.5,793.0C1241.2,799.5 1254.8,816.4 1268.5,816.4C1283.7,816.4 1298.8,796.4 1314.0,789.9C1329.2,783.4 1344.3,777.5 1359.5,777.5C1372.5,777.5 1385.5,781.1 1398.5,783.7C1411.5,786.3 1424.5,789.9 1437.5,793.0C1440.1,793.0 1442.7,793.0 1445.3,793.0" stroke="#1800f4" stroke-width="2.3"/>
<path d="M986.4,793.0C987.5,793.0 988.5,793.0 989.6,793.0C1000.2,793.0 1010.9,793.0 1021.5,793.0C1035.1,793.0 1048.7,788.6 1062.2,789.9C1075.8,791.2 1089.4,800.8 1103.0,800.8C1116.9,800.8 1130.9,797.4 1144.8,796.1C1158.7,794.8 1172.7,793.0 1186.6,793.0C1200.2,793.0 1213.9,788.6 1227.5,789.9C1241.2,791.2 1254.8,800.8 1268.5,800.8C1283.7,800.8 1298.8,797.4 1314.0,796.1C1329.2,794.8 1344.3,793.0 1359.5,793.0C1372.5,793.0 1385.5,793.5 1398.5,793.0C1411.5,792.5 1424.5,791.0 1437.5,789.9C1440.1,789.9 1442.7,789.9 1445.3,789.9" stroke="#1800f4" stroke-width="2.3"/>
<path d="M986.4,810.2C987.5,810.2 988.5,810.2 989.6,810.2C1000.2,810.2 1010.9,808.6 1021.5,808.6C1035.1,808.6 1048.7,812.8 1062.2,814.8C1075.8,816.9 1089.4,821.1 1103.0,821.1C1116.9,821.1 1130.9,815.3 1144.8,813.3C1158.7,811.2 1172.7,808.6 1186.6,808.6C1200.2,808.6 1213.9,813.5 1227.5,816.4C1241.2,819.2 1254.8,825.7 1268.5,825.7C1283.7,825.7 1298.8,819.2 1314.0,816.4C1329.2,813.5 1344.3,808.6 1359.5,808.6C1372.5,808.6 1385.5,810.9 1398.5,813.3C1411.5,815.6 1424.5,819.5 1437.5,822.6C1440.1,822.6 1442.7,822.6 1445.3,822.6" stroke="#1800f4" stroke-width="2.3"/>
<path d="M986.4,810.2C987.5,810.2 988.5,810.2 989.6,810.2C1000.2,810.2 1010.9,810.2 1021.5,810.2C1037.8,810.2 1054.1,839.1 1070.4,847.5C1081.3,853.1 1092.1,852.2 1103.0,852.2C1114.1,852.2 1125.3,853.1 1136.4,847.5C1153.2,839.1 1169.9,810.2 1186.6,810.2C1203.0,810.2 1219.4,836.6 1235.7,844.4C1246.7,849.6 1257.6,849.1 1268.5,849.1C1280.6,849.1 1292.8,849.6 1304.9,844.4C1323.1,836.6 1341.3,810.2 1359.5,810.2C1375.1,810.2 1390.7,838.8 1406.3,847.5C1416.7,853.3 1427.1,851.7 1437.5,853.8C1440.1,853.8 1442.7,853.8 1445.3,853.8" stroke="#1800f4" stroke-width="2.3"/>
<path d="M1151.5,634.2C1157.1,643.0 1162.6,654.5 1168.2,660.7C1174.3,667.5 1180.5,673.1 1186.6,673.1C1192.6,673.1 1198.6,667.5 1204.6,660.7C1210.1,654.5 1215.5,643.0 1221.0,634.2" stroke="#e8004c" stroke-width="2.3"/>
<path d="M1156.5,712.1C1161.0,704.8 1165.4,695.3 1169.9,690.3C1175.5,683.9 1181.0,677.8 1186.6,677.8C1192.1,677.8 1197.5,683.9 1203.0,690.3C1207.3,695.3 1211.7,704.8 1216.1,712.1" stroke="#e8004c" stroke-width="2.3"/>
<path d="M1159.8,680.9C1164.3,689.2 1168.8,700.1 1173.2,705.8C1177.7,711.5 1182.1,715.2 1186.6,715.2C1191.0,715.2 1195.3,711.5 1199.7,705.8C1204.1,700.1 1208.4,689.2 1212.8,680.9" stroke="#e8004c" stroke-width="2.3"/>
<path d="M1154.8,733.9C1159.8,727.6 1164.9,719.1 1169.9,715.2C1175.5,710.8 1181.0,709.0 1186.6,709.0C1192.1,709.0 1197.5,710.8 1203.0,715.2C1207.9,719.1 1212.8,727.6 1217.7,733.9" stroke="#c00090" stroke-width="2.3"/>
<path d="M1321.3,634.2C1327.3,643.0 1333.4,654.5 1339.5,660.7C1346.2,667.5 1352.8,673.1 1359.5,673.1C1365.2,673.1 1370.9,667.5 1376.7,660.7C1381.9,654.5 1387.1,643.0 1392.3,634.2" stroke="#e8004c" stroke-width="2.3"/>
<path d="M1326.7,712.1C1331.6,704.8 1336.4,695.3 1341.3,690.3C1347.4,683.9 1353.4,677.8 1359.5,677.8C1364.7,677.8 1369.9,683.9 1375.1,690.3C1379.3,695.3 1383.4,704.8 1387.6,712.1" stroke="#e8004c" stroke-width="2.3"/>
<path d="M1330.4,680.9C1335.2,689.2 1340.1,700.1 1344.9,705.8C1349.8,711.5 1354.6,715.2 1359.5,715.2C1363.7,715.2 1367.8,711.5 1372.0,705.8C1376.1,700.1 1380.3,689.2 1384.5,680.9" stroke="#e8004c" stroke-width="2.3"/>
<path d="M1324.9,733.9C1330.4,727.6 1335.8,719.1 1341.3,715.2C1347.4,710.8 1353.4,709.0 1359.5,709.0C1364.7,709.0 1369.9,710.8 1375.1,715.2C1379.8,719.1 1384.5,727.6 1389.1,733.9" stroke="#c00090" stroke-width="2.3"/>
<path d="M1115.5,637.1C1117.9,654.4 1120.3,672.5 1122.6,689.1C1125.0,705.8 1127.4,721.7 1129.8,737.0C1132.1,752.2 1134.5,766.7 1136.9,780.5C1139.2,794.2 1141.6,807.3 1144.0,819.5C1146.3,831.7 1148.7,843.2 1151.1,853.9C1153.4,864.5 1155.8,874.4 1158.2,883.4C1160.5,892.3 1162.9,900.5 1165.3,907.7C1167.7,914.9 1170.0,921.3 1172.4,926.6C1174.8,931.8 1177.1,936.3 1179.5,939.3C1181.9,942.4 1184.2,944.7 1186.6,944.7C1188.9,944.7 1191.2,942.4 1193.6,939.3C1195.9,936.3 1198.2,931.8 1200.5,926.6C1202.8,921.3 1205.2,914.9 1207.5,907.7C1209.8,900.5 1212.1,892.3 1214.4,883.4C1216.8,874.4 1219.1,864.5 1221.4,853.9C1223.7,843.2 1226.0,831.7 1228.4,819.5C1230.7,807.3 1233.0,794.2 1235.3,780.5C1237.7,766.7 1240.0,752.2 1242.3,737.0C1244.6,721.7 1246.9,705.8 1249.3,689.1C1251.6,672.5 1253.9,654.4 1256.2,637.1" stroke="#7000d4" stroke-width="2.3"/>
<path d="M1111.4,656.2C1113.9,672.6 1116.4,689.5 1118.9,705.3C1121.4,721.0 1123.9,736.2 1126.4,750.7C1128.9,765.2 1131.4,779.1 1133.9,792.3C1136.4,805.5 1138.9,818.1 1141.5,830.0C1144.0,841.8 1146.5,853.0 1149.0,863.4C1151.5,873.9 1154.0,883.6 1156.5,892.5C1159.0,901.4 1161.5,909.6 1164.0,916.9C1166.5,924.2 1169.0,930.7 1171.6,936.2C1174.1,941.6 1176.6,946.4 1179.1,949.6C1181.6,952.8 1184.1,955.6 1186.6,955.6C1189.1,955.6 1191.5,952.8 1194.0,949.6C1196.4,946.4 1198.9,941.6 1201.3,936.2C1203.8,930.7 1206.3,924.2 1208.7,916.9C1211.2,909.6 1213.6,901.4 1216.1,892.5C1218.5,883.6 1221.0,873.9 1223.5,863.4C1225.9,853.0 1228.4,841.8 1230.8,830.0C1233.3,818.1 1235.7,805.5 1238.2,792.3C1240.7,779.1 1243.1,765.2 1245.6,750.7C1248.0,736.2 1250.5,721.0 1252.9,705.3C1255.4,689.5 1257.9,672.6 1260.3,656.2" stroke="#4400e4" stroke-width="2.3"/>
<path d="M1282.2,642.7C1284.7,660.0 1287.3,678.1 1289.9,694.7C1292.5,711.4 1295.0,727.4 1297.6,742.6C1300.2,757.8 1302.8,772.3 1305.4,786.1C1307.9,799.8 1310.5,812.9 1313.1,825.1C1315.7,837.3 1318.2,848.8 1320.8,859.5C1323.4,870.1 1326.0,880.0 1328.6,889.0C1331.1,897.9 1333.7,906.1 1336.3,913.3C1338.9,920.5 1341.5,926.9 1344.0,932.2C1346.6,937.4 1349.2,941.9 1351.8,944.9C1354.3,948.0 1356.9,950.3 1359.5,950.3C1361.7,950.3 1363.9,948.0 1366.1,944.9C1368.3,941.9 1370.5,937.4 1372.8,932.2C1375.0,926.9 1377.2,920.5 1379.4,913.3C1381.6,906.1 1383.8,897.9 1386.0,889.0C1388.2,880.0 1390.4,870.1 1392.7,859.5C1394.9,848.8 1397.1,837.3 1399.3,825.1C1401.5,812.9 1403.7,799.8 1405.9,786.1C1408.1,772.3 1410.3,757.8 1412.5,742.6C1414.8,727.4 1417.0,711.4 1419.2,694.7C1421.4,678.1 1423.6,660.0 1425.8,642.7" stroke="#7000d4" stroke-width="2.3"/>
<path d="M1277.6,661.8C1280.3,678.2 1283.1,695.1 1285.8,710.9C1288.5,726.6 1291.2,741.8 1294.0,756.3C1296.7,770.8 1299.4,784.7 1302.2,797.9C1304.9,811.1 1307.6,823.7 1310.4,835.6C1313.1,847.4 1315.8,858.6 1318.5,869.0C1321.3,879.5 1324.0,889.2 1326.7,898.1C1329.5,907.0 1332.2,915.2 1334.9,922.5C1337.7,929.8 1340.4,936.3 1343.1,941.8C1345.9,947.2 1348.6,952.0 1351.3,955.2C1354.0,958.4 1356.8,961.2 1359.5,961.2C1361.8,961.2 1364.2,958.4 1366.5,955.2C1368.9,952.0 1371.2,947.2 1373.5,941.8C1375.9,936.3 1378.2,929.8 1380.6,922.5C1382.9,915.2 1385.2,907.0 1387.6,898.1C1389.9,889.2 1392.3,879.5 1394.6,869.0C1396.9,858.6 1399.3,847.4 1401.6,835.6C1404.0,823.7 1406.3,811.1 1408.6,797.9C1411.0,784.7 1413.3,770.8 1415.7,756.3C1418.0,741.8 1420.3,726.6 1422.7,710.9C1425.0,695.1 1427.4,678.2 1429.7,661.8" stroke="#4400e4" stroke-width="2.3"/>
<path d="M1037.2,1151.1C1039.0,1126.6 1040.8,1100.6 1042.7,1077.6C1044.5,1054.6 1046.3,1033.2 1048.1,1013.2C1050.0,993.1 1051.8,974.6 1053.6,957.4C1055.5,940.2 1057.3,924.5 1059.1,910.0C1060.9,895.5 1062.8,882.3 1064.6,870.4C1066.4,858.4 1068.3,847.8 1070.1,838.2C1071.9,828.6 1073.7,820.3 1075.6,813.0C1077.4,805.6 1079.2,799.4 1081.1,794.1C1082.9,788.7 1084.7,784.5 1086.5,780.9C1088.4,777.4 1090.2,774.9 1092.0,772.9C1093.9,770.9 1095.7,769.8 1097.5,769.0C1099.3,768.2 1101.2,768.1 1103.0,768.1C1104.9,768.1 1106.8,768.2 1108.6,769.0C1110.5,769.8 1112.4,770.9 1114.3,772.9C1116.1,774.9 1118.0,777.4 1119.9,780.9C1121.8,784.5 1123.6,788.7 1125.5,794.1C1127.4,799.4 1129.3,805.6 1131.1,813.0C1133.0,820.3 1134.9,828.6 1136.8,838.2C1138.6,847.8 1140.5,858.4 1142.4,870.4C1144.3,882.3 1146.1,895.5 1148.0,910.0C1149.9,924.5 1151.8,940.2 1153.6,957.4C1155.5,974.6 1157.4,993.1 1159.3,1013.2C1161.2,1033.2 1163.0,1054.6 1164.9,1077.6C1166.8,1100.6 1168.7,1126.6 1170.5,1151.1" stroke="#7000d4" stroke-width="2.3"/>
<path d="M1042.6,1151.1C1044.3,1127.2 1046.0,1101.8 1047.6,1079.4C1049.3,1057.0 1051.0,1036.1 1052.7,1016.5C1054.3,997.0 1056.0,978.9 1057.7,962.1C1059.4,945.4 1061.1,930.0 1062.7,915.8C1064.4,901.7 1066.1,888.9 1067.8,877.2C1069.4,865.6 1071.1,855.2 1072.8,845.8C1074.5,836.5 1076.2,828.4 1077.8,821.2C1079.5,814.0 1081.2,808.0 1082.9,802.8C1084.5,797.6 1086.2,793.4 1087.9,790.0C1089.6,786.5 1091.3,784.0 1092.9,782.1C1094.6,780.2 1096.3,779.1 1098.0,778.3C1099.6,777.5 1101.3,777.5 1103.0,777.5C1104.7,777.5 1106.4,777.5 1108.2,778.3C1109.9,779.1 1111.6,780.2 1113.3,782.1C1115.0,784.0 1116.8,786.5 1118.5,790.0C1120.2,793.4 1121.9,797.6 1123.7,802.8C1125.4,808.0 1127.1,814.0 1128.8,821.2C1130.5,828.4 1132.3,836.5 1134.0,845.8C1135.7,855.2 1137.4,865.6 1139.1,877.2C1140.9,888.9 1142.6,901.7 1144.3,915.8C1146.0,930.0 1147.7,945.4 1149.5,962.1C1151.2,978.9 1152.9,997.0 1154.6,1016.5C1156.4,1036.1 1158.1,1057.0 1159.8,1079.4C1161.5,1101.8 1163.2,1127.2 1165.0,1151.1" stroke="#7000d4" stroke-width="2.3"/>
<path d="M1051.2,1151.1C1052.7,1128.3 1054.1,1104.0 1055.6,1082.7C1057.0,1061.3 1058.4,1041.4 1059.9,1022.9C1061.3,1004.4 1062.7,987.3 1064.2,971.5C1065.6,955.6 1067.1,941.2 1068.5,927.9C1069.9,914.7 1071.4,902.7 1072.8,891.9C1074.2,881.0 1075.7,871.4 1077.1,862.7C1078.6,854.1 1080.0,846.7 1081.4,840.1C1082.9,833.5 1084.3,828.0 1085.7,823.3C1087.2,818.6 1088.6,814.8 1090.1,811.8C1091.5,808.7 1092.9,806.5 1094.4,804.8C1095.8,803.1 1097.2,802.2 1098.7,801.5C1100.1,800.9 1101.6,800.8 1103.0,800.8C1104.5,800.8 1105.9,800.9 1107.4,801.5C1108.9,802.2 1110.4,803.1 1111.8,804.8C1113.3,806.5 1114.8,808.7 1116.3,811.8C1117.7,814.8 1119.2,818.6 1120.7,823.3C1122.2,828.0 1123.6,833.5 1125.1,840.1C1126.6,846.7 1128.1,854.1 1129.5,862.7C1131.0,871.4 1132.5,881.0 1134.0,891.9C1135.4,902.7 1136.9,914.7 1138.4,927.9C1139.9,941.2 1141.3,955.6 1142.8,971.5C1144.3,987.3 1145.8,1004.4 1147.2,1022.9C1148.7,1041.4 1150.2,1061.3 1151.7,1082.7C1153.1,1104.0 1154.6,1128.3 1156.1,1151.1" stroke="#4400e4" stroke-width="2.3"/>
<path d="M1220.7,1151.1C1222.1,1124.1 1223.4,1095.3 1224.7,1070.0C1226.1,1044.8 1227.4,1021.4 1228.7,999.7C1230.0,978.0 1231.4,958.0 1232.7,939.6C1234.0,921.2 1235.3,904.4 1236.7,889.1C1238.0,873.8 1239.3,860.1 1240.6,847.6C1242.0,835.2 1243.3,824.3 1244.6,814.5C1245.9,804.7 1247.3,796.3 1248.6,789.0C1249.9,781.6 1251.3,775.6 1252.6,770.4C1253.9,765.2 1255.2,761.1 1256.6,757.8C1257.9,754.5 1259.2,752.2 1260.5,750.4C1261.9,748.6 1263.2,747.7 1264.5,747.0C1265.8,746.3 1267.2,746.3 1268.5,746.3C1270.0,746.3 1271.4,746.3 1272.9,747.0C1274.4,747.7 1275.9,748.6 1277.3,750.4C1278.8,752.2 1280.3,754.5 1281.8,757.8C1283.2,761.1 1284.7,765.2 1286.2,770.4C1287.7,775.6 1289.1,781.6 1290.6,789.0C1292.1,796.3 1293.6,804.7 1295.0,814.5C1296.5,824.3 1298.0,835.2 1299.5,847.6C1300.9,860.1 1302.4,873.8 1303.9,889.1C1305.3,904.4 1306.8,921.2 1308.3,939.6C1309.8,958.0 1311.2,978.0 1312.7,999.7C1314.2,1021.4 1315.7,1044.8 1317.1,1070.0C1318.6,1095.3 1320.1,1124.1 1321.6,1151.1" stroke="#7000d4" stroke-width="2.3"/>
<path d="M1218.0,1151.1C1219.4,1125.4 1220.8,1098.0 1222.2,1073.8C1223.6,1049.7 1225.0,1027.3 1226.4,1006.4C1227.8,985.5 1229.2,966.2 1230.6,948.3C1232.0,930.4 1233.4,914.2 1234.8,899.2C1236.2,884.2 1237.6,870.7 1239.0,858.4C1240.4,846.2 1241.8,835.3 1243.2,825.6C1244.6,815.8 1246.0,807.4 1247.5,800.0C1248.9,792.6 1250.3,786.4 1251.7,781.0C1253.1,775.7 1254.5,771.5 1255.9,768.0C1257.3,764.5 1258.7,762.1 1260.1,760.1C1261.5,758.2 1262.9,757.2 1264.3,756.5C1265.7,755.7 1267.1,755.7 1268.5,755.7C1270.1,755.7 1271.6,755.7 1273.2,756.5C1274.7,757.2 1276.3,758.2 1277.9,760.1C1279.4,762.1 1281.0,764.5 1282.5,768.0C1284.1,771.5 1285.7,775.7 1287.2,781.0C1288.8,786.4 1290.3,792.6 1291.9,800.0C1293.4,807.4 1295.0,815.8 1296.6,825.6C1298.1,835.3 1299.7,846.2 1301.2,858.4C1302.8,870.7 1304.4,884.2 1305.9,899.2C1307.5,914.2 1309.0,930.4 1310.6,948.3C1312.2,966.2 1313.7,985.5 1315.3,1006.4C1316.8,1027.3 1318.4,1049.7 1320.0,1073.8C1321.5,1098.0 1323.1,1125.4 1324.6,1151.1" stroke="#7000d4" stroke-width="2.3"/>
<path d="M1225.0,1151.1C1226.2,1126.8 1227.4,1100.7 1228.6,1078.0C1229.8,1055.3 1231.0,1034.3 1232.2,1014.8C1233.4,995.3 1234.6,977.4 1235.9,960.9C1237.1,944.4 1238.3,929.5 1239.5,915.8C1240.7,902.1 1241.9,889.9 1243.1,878.9C1244.3,867.8 1245.5,858.1 1246.7,849.5C1247.9,840.9 1249.2,833.5 1250.4,827.0C1251.6,820.5 1252.8,815.2 1254.0,810.7C1255.2,806.1 1256.4,802.6 1257.6,799.7C1258.8,796.9 1260.0,794.9 1261.2,793.3C1262.5,791.8 1263.7,791.1 1264.9,790.5C1266.1,789.9 1267.3,789.9 1268.5,789.9C1269.8,789.9 1271.2,789.9 1272.5,790.5C1273.9,791.1 1275.2,791.8 1276.6,793.3C1277.9,794.9 1279.2,796.9 1280.6,799.7C1281.9,802.6 1283.3,806.1 1284.6,810.7C1286.0,815.2 1287.3,820.5 1288.7,827.0C1290.0,833.5 1291.3,840.9 1292.7,849.5C1294.0,858.1 1295.4,867.8 1296.7,878.9C1298.1,889.9 1299.4,902.1 1300.7,915.8C1302.1,929.5 1303.4,944.4 1304.8,960.9C1306.1,977.4 1307.5,995.3 1308.8,1014.8C1310.1,1034.3 1311.5,1055.3 1312.8,1078.0C1314.2,1100.7 1315.5,1126.8 1316.9,1151.1" stroke="#4400e4" stroke-width="2.3"/>
<path d="M986.4,886.5C987.5,886.5 988.5,886.5 989.6,886.5C1000.2,886.5 1010.9,887.2 1021.5,887.2C1029.7,887.2 1037.8,890.0 1046.0,895.8C1053.6,901.2 1061.2,911.6 1068.8,920.7C1075.8,929.2 1082.9,940.1 1090.0,948.7C1094.3,954.1 1098.7,958.1 1103.0,962.7C1107.5,958.1 1111.9,954.1 1116.4,948.7C1123.6,940.1 1130.9,929.2 1138.1,920.7C1145.9,911.6 1153.7,901.3 1161.5,895.8C1169.9,889.9 1178.2,886.5 1186.6,886.5C1194.8,886.5 1203.0,889.9 1211.2,895.8C1218.8,901.3 1226.5,911.6 1234.1,920.7C1241.2,929.2 1248.3,940.1 1255.4,948.7C1259.8,954.1 1264.1,958.1 1268.5,962.7C1273.4,958.1 1278.2,954.1 1283.1,948.7C1290.9,940.1 1298.8,929.2 1306.7,920.7C1315.2,911.6 1323.7,901.3 1332.2,895.8C1341.3,889.9 1350.4,886.5 1359.5,886.5C1367.3,886.5 1375.1,889.9 1382.9,895.8C1390.2,901.3 1397.5,911.6 1404.7,920.7C1411.5,929.2 1418.3,940.1 1425.0,948.7C1429.2,954.1 1433.3,958.1 1437.5,962.7" stroke="#1800f4" stroke-width="2.3"/>
<path d="M1021.5,951.8C1024.9,951.3 1028.3,951.2 1031.7,950.1C1035.1,949.0 1038.5,947.2 1041.9,945.1C1045.3,943.0 1048.7,940.4 1052.1,937.7C1055.5,935.0 1058.9,931.8 1062.2,928.9C1065.6,925.9 1069.0,922.8 1072.4,920.1C1075.8,917.4 1079.2,914.7 1082.6,912.6C1086.0,910.6 1089.4,908.8 1092.8,907.7C1096.2,906.5 1099.6,905.9 1103.0,905.9C1106.5,905.9 1110.0,906.5 1113.5,907.7C1116.9,908.8 1120.4,910.6 1123.9,912.6C1127.4,914.7 1130.9,917.4 1134.3,920.1C1137.8,922.8 1141.3,925.9 1144.8,928.9C1148.3,931.8 1151.8,935.0 1155.2,937.7C1158.7,940.4 1162.2,943.0 1165.7,945.1C1169.2,947.2 1172.7,949.0 1176.1,950.1C1179.6,951.2 1183.1,951.3 1186.6,951.8" stroke="#1800f4" stroke-width="2.3"/>
<path d="M1021.5,964.3C1024.9,963.9 1028.3,963.8 1031.7,963.0C1035.1,962.1 1038.5,960.7 1041.9,959.2C1045.3,957.6 1048.7,955.6 1052.1,953.5C1055.5,951.4 1058.9,949.0 1062.2,946.8C1065.6,944.5 1069.0,942.1 1072.4,940.1C1075.8,938.0 1079.2,936.0 1082.6,934.4C1086.0,932.8 1089.4,931.5 1092.8,930.6C1096.2,929.7 1099.6,929.3 1103.0,929.3C1106.5,929.3 1110.0,929.7 1113.5,930.6C1116.9,931.5 1120.4,932.8 1123.9,934.4C1127.4,936.0 1130.9,938.0 1134.3,940.1C1137.8,942.1 1141.3,944.5 1144.8,946.8C1148.3,949.0 1151.8,951.4 1155.2,953.5C1158.7,955.6 1162.2,957.6 1165.7,959.2C1169.2,960.7 1172.7,962.1 1176.1,963.0C1179.6,963.8 1183.1,963.9 1186.6,964.3" stroke="#2800ee" stroke-width="2.3"/>
<path d="M1186.6,951.8C1190.0,951.3 1193.4,951.2 1196.8,950.2C1200.2,949.1 1203.7,947.4 1207.1,945.5C1210.5,943.5 1213.9,941.0 1217.3,938.4C1220.7,935.8 1224.1,932.8 1227.5,930.0C1231.0,927.3 1234.4,924.3 1237.8,921.7C1241.2,919.1 1244.6,916.6 1248.0,914.6C1251.4,912.7 1254.9,911.0 1258.3,909.9C1261.7,908.8 1265.1,908.2 1268.5,908.2C1272.3,908.2 1276.1,908.8 1279.9,909.9C1283.7,911.0 1287.5,912.7 1291.2,914.6C1295.0,916.6 1298.8,919.1 1302.6,921.7C1306.4,924.3 1310.2,927.3 1314.0,930.0C1317.8,932.8 1321.6,935.8 1325.4,938.4C1329.2,941.0 1333.0,943.5 1336.8,945.5C1340.5,947.4 1344.3,949.1 1348.1,950.2C1351.9,951.2 1355.7,951.3 1359.5,951.8" stroke="#1800f4" stroke-width="2.3"/>
<path d="M1186.6,964.3C1190.0,963.9 1193.4,963.9 1196.8,963.1C1200.2,962.3 1203.7,961.0 1207.1,959.5C1210.5,958.0 1213.9,956.1 1217.3,954.2C1220.7,952.3 1224.1,950.0 1227.5,948.0C1231.0,945.9 1234.4,943.6 1237.8,941.7C1241.2,939.8 1244.6,937.9 1248.0,936.4C1251.4,934.9 1254.9,933.6 1258.3,932.8C1261.7,932.0 1265.1,931.6 1268.5,931.6C1272.3,931.6 1276.1,932.0 1279.9,932.8C1283.7,933.6 1287.5,934.9 1291.2,936.4C1295.0,937.9 1298.8,939.8 1302.6,941.7C1306.4,943.6 1310.2,945.9 1314.0,948.0C1317.8,950.0 1321.6,952.3 1325.4,954.2C1329.2,956.1 1333.0,958.0 1336.8,959.5C1340.5,961.0 1344.3,962.3 1348.1,963.1C1351.9,963.9 1355.7,963.9 1359.5,964.3" stroke="#2800ee" stroke-width="2.3"/>
<path d="M1029.7,959.6C1032.7,959.2 1035.8,959.2 1038.8,958.3C1041.9,957.5 1044.9,956.2 1048.0,954.6C1051.0,953.1 1054.1,951.1 1057.2,949.1C1060.2,947.0 1063.3,944.7 1066.3,942.5C1069.4,940.3 1072.4,938.0 1075.5,935.9C1078.5,933.9 1081.6,931.9 1084.7,930.4C1087.7,928.8 1090.8,927.5 1093.8,926.7C1096.9,925.8 1099.9,925.4 1103.0,925.4C1106.1,925.4 1109.3,925.8 1112.4,926.7C1115.5,927.5 1118.7,928.8 1121.8,930.4C1124.9,931.9 1128.1,933.9 1131.2,935.9C1134.3,938.0 1137.5,940.3 1140.6,942.5C1143.8,944.7 1146.9,947.0 1150.0,949.1C1153.2,951.1 1156.3,953.1 1159.4,954.6C1162.6,956.2 1165.7,957.5 1168.8,958.3C1172.0,959.2 1175.1,959.2 1178.2,959.6" stroke="#9000c0" stroke-width="2.3"/>
<path d="M1194.8,959.6C1197.9,959.0 1200.9,959.0 1204.0,957.9C1207.1,956.7 1210.1,954.9 1213.2,952.8C1216.3,950.7 1219.4,948.0 1222.4,945.2C1225.5,942.5 1228.6,939.3 1231.6,936.3C1234.7,933.3 1237.8,930.1 1240.9,927.3C1243.9,924.6 1247.0,921.9 1250.1,919.8C1253.1,917.7 1256.2,915.8 1259.3,914.7C1262.4,913.6 1265.4,912.9 1268.5,912.9C1271.9,912.9 1275.3,913.6 1278.7,914.7C1282.1,915.8 1285.6,917.7 1289.0,919.8C1292.4,921.9 1295.8,924.6 1299.2,927.3C1302.6,930.1 1306.0,933.3 1309.5,936.3C1312.9,939.3 1316.3,942.5 1319.7,945.2C1323.1,948.0 1326.5,950.7 1329.9,952.8C1333.3,954.9 1336.8,956.7 1340.2,957.9C1343.6,959.0 1347.0,959.0 1350.4,959.6" stroke="#9000c0" stroke-width="2.3"/>
<path d="M986.4,953.4C987.5,953.4 988.5,953.4 989.6,953.4C1000.2,953.4 1010.9,951.8 1021.5,951.8C1035.1,951.8 1048.7,951.3 1062.2,953.4C1075.8,955.5 1089.4,964.3 1103.0,964.3C1116.9,964.3 1130.9,957.8 1144.8,956.5C1158.7,955.2 1172.7,956.5 1186.6,956.5C1200.2,956.5 1213.9,953.7 1227.5,955.0C1241.2,956.3 1254.8,964.3 1268.5,964.3C1283.7,964.3 1298.8,955.5 1314.0,953.4C1329.2,951.3 1344.3,951.8 1359.5,951.8C1372.5,951.8 1385.5,954.2 1398.5,955.0C1411.5,955.7 1424.5,956.0 1437.5,956.5C1440.1,956.5 1442.7,956.5 1445.3,956.5" stroke="#1800f4" stroke-width="2.3"/>
<path d="M986.4,983.0C987.5,983.0 988.5,983.0 989.6,983.0C1000.2,983.0 1010.9,983.0 1021.5,983.0C1035.1,983.0 1048.7,981.7 1062.2,979.9C1075.8,978.1 1089.4,972.1 1103.0,972.1C1116.9,972.1 1130.9,977.3 1144.8,979.9C1158.7,982.5 1172.7,987.7 1186.6,987.7C1200.2,987.7 1213.9,982.5 1227.5,979.9C1241.2,977.3 1254.8,972.1 1268.5,972.1C1283.7,972.1 1298.8,977.3 1314.0,979.9C1329.2,982.5 1344.3,987.7 1359.5,987.7C1372.5,987.7 1385.5,983.8 1398.5,983.0C1411.5,982.2 1424.5,983.0 1437.5,983.0C1440.1,983.0 1442.7,983.0 1445.3,983.0" stroke="#1800f4" stroke-width="2.3"/>
<path d="M986.4,992.3C987.5,992.3 988.5,992.3 989.6,992.3C1000.2,992.3 1010.9,992.3 1021.5,992.3C1035.1,992.3 1048.7,989.7 1062.2,990.8C1075.8,991.8 1089.4,998.6 1103.0,998.6C1116.9,998.6 1130.9,993.4 1144.8,990.8C1158.7,988.2 1172.7,983.0 1186.6,983.0C1200.2,983.0 1213.9,986.6 1227.5,989.2C1241.2,991.8 1254.8,998.6 1268.5,998.6C1283.7,998.6 1298.8,991.8 1314.0,989.2C1329.2,986.6 1344.3,983.0 1359.5,983.0C1372.5,983.0 1385.5,987.7 1398.5,989.2C1411.5,990.8 1424.5,991.3 1437.5,992.3C1440.1,992.3 1442.7,992.3 1445.3,992.3" stroke="#1800f4" stroke-width="2.3"/>
<path d="M986.4,998.6C987.5,998.6 988.5,998.6 989.6,998.6C1000.2,998.6 1010.9,998.6 1021.5,998.6C1035.1,998.6 1048.7,992.3 1062.2,989.2C1075.8,986.1 1089.4,979.9 1103.0,979.9C1116.9,979.9 1130.9,987.7 1144.8,992.3C1158.7,997.0 1172.7,1007.9 1186.6,1007.9C1200.2,1007.9 1213.9,1000.1 1227.5,995.4C1241.2,990.8 1254.8,979.9 1268.5,979.9C1283.7,979.9 1298.8,990.8 1314.0,995.4C1329.2,1000.1 1344.3,1007.9 1359.5,1007.9C1372.5,1007.9 1385.5,1003.2 1398.5,1001.7C1411.5,1000.1 1424.5,999.6 1437.5,998.6C1440.1,998.6 1442.7,998.6 1445.3,998.6" stroke="#1800f4" stroke-width="2.3"/>
<path d="M986.4,972.1C987.5,972.1 988.5,972.1 989.6,972.1C1000.2,972.1 1010.9,972.1 1021.5,972.1C1035.1,972.1 1048.7,970.3 1062.2,969.0C1075.8,967.7 1089.4,964.3 1103.0,964.3C1116.9,964.3 1130.9,969.5 1144.8,972.1C1158.7,974.7 1172.7,979.9 1186.6,979.9C1200.2,979.9 1213.9,976.2 1227.5,973.6C1241.2,971.0 1254.8,964.3 1268.5,964.3C1283.7,964.3 1298.8,969.0 1314.0,972.1C1329.2,975.2 1344.3,983.0 1359.5,983.0C1372.5,983.0 1385.5,977.0 1398.5,975.2C1411.5,973.4 1424.5,973.1 1437.5,972.1C1440.1,972.1 1442.7,972.1 1445.3,972.1" stroke="#1800f4" stroke-width="2.3"/>
<path d="M986.4,1018.8C987.5,1018.8 988.5,1018.8 989.6,1018.8C1000.2,1018.8 1010.9,1018.8 1021.5,1018.8C1035.1,1018.8 1048.7,1016.5 1062.2,1015.7C1075.8,1014.9 1089.4,1014.1 1103.0,1014.1C1116.9,1014.1 1130.9,1018.8 1144.8,1020.4C1158.7,1021.9 1172.7,1023.5 1186.6,1023.5C1200.2,1023.5 1213.9,1019.3 1227.5,1017.2C1241.2,1015.2 1254.8,1011.0 1268.5,1011.0C1283.7,1011.0 1298.8,1013.6 1314.0,1015.7C1329.2,1017.8 1344.3,1023.5 1359.5,1023.5C1372.5,1023.5 1385.5,1021.1 1398.5,1020.4C1411.5,1019.6 1424.5,1019.3 1437.5,1018.8C1440.1,1018.8 1442.7,1018.8 1445.3,1018.8" stroke="#1800f4" stroke-width="2.3"/>
<path d="M1128.1,979.9C1135.0,982.5 1142.0,981.9 1149.0,987.7C1154.6,992.3 1160.1,1004.8 1165.7,1011.0C1172.7,1018.8 1179.6,1029.7 1186.6,1029.7C1193.4,1029.7 1200.2,1018.8 1207.1,1011.0C1212.5,1004.8 1218.0,992.3 1223.5,987.7C1230.3,981.9 1237.1,982.5 1243.9,979.9" stroke="#9000c0" stroke-width="2.3"/>
<path d="M1295.8,979.9C1303.4,982.5 1311.0,981.9 1318.5,987.7C1324.6,992.3 1330.7,1003.9 1336.8,1011.0C1344.3,1019.9 1351.9,1035.9 1359.5,1035.9C1366.0,1035.9 1372.5,1019.9 1379.0,1011.0C1384.2,1003.9 1389.4,992.3 1394.6,987.7C1401.1,981.9 1407.6,982.5 1414.1,979.9" stroke="#9000c0" stroke-width="2.3"/>
<path d="M986.4,1034.4C987.5,1034.4 988.5,1034.4 989.6,1034.4C1000.2,1034.4 1010.9,1034.4 1021.5,1034.4C1035.1,1034.4 1048.7,1024.0 1062.2,1018.8C1075.8,1013.6 1089.4,1003.2 1103.0,1003.2C1116.9,1003.2 1130.9,1024.8 1144.8,1034.4C1158.7,1044.0 1172.7,1060.8 1186.6,1060.8C1200.2,1060.8 1213.9,1037.0 1227.5,1026.6C1241.2,1016.2 1254.8,998.6 1268.5,998.6C1283.7,998.6 1298.8,1016.2 1314.0,1026.6C1329.2,1037.0 1344.3,1060.8 1359.5,1060.8C1372.5,1060.8 1385.5,1047.9 1398.5,1042.2C1411.5,1036.4 1424.5,1031.8 1437.5,1026.6C1440.1,1026.6 1442.7,1026.6 1445.3,1026.6" stroke="#9000c0" stroke-width="2.3"/>
<path d="M1029.7,1112.2C1032.7,1111.3 1035.8,1111.2 1038.8,1109.4C1041.9,1107.5 1044.9,1104.6 1048.0,1101.3C1051.0,1097.9 1054.1,1093.6 1057.2,1089.1C1060.2,1084.7 1063.3,1079.6 1066.3,1074.8C1069.4,1070.1 1072.4,1065.0 1075.5,1060.5C1078.5,1056.1 1081.6,1051.8 1084.7,1048.4C1087.7,1045.1 1090.8,1042.1 1093.8,1040.3C1096.9,1038.5 1099.9,1037.5 1103.0,1037.5C1106.1,1037.5 1109.3,1038.5 1112.4,1040.3C1115.5,1042.1 1118.7,1045.1 1121.8,1048.4C1124.9,1051.8 1128.1,1056.1 1131.2,1060.5C1134.3,1065.0 1137.5,1070.1 1140.6,1074.8C1143.8,1079.6 1146.9,1084.7 1150.0,1089.1C1153.2,1093.6 1156.3,1097.9 1159.4,1101.3C1162.6,1104.6 1165.7,1107.5 1168.8,1109.4C1172.0,1111.2 1175.1,1111.3 1178.2,1112.2" stroke="#1800f4" stroke-width="2.3"/>
<path d="M1037.8,1120.0C1040.5,1119.2 1043.2,1119.2 1046.0,1117.7C1048.7,1116.3 1051.4,1114.0 1054.1,1111.3C1056.8,1108.7 1059.5,1105.2 1062.2,1101.7C1065.0,1098.3 1067.7,1094.2 1070.4,1090.4C1073.1,1086.6 1075.8,1082.6 1078.5,1079.1C1081.3,1075.6 1084.0,1072.2 1086.7,1069.5C1089.4,1066.8 1092.1,1064.5 1094.8,1063.1C1097.6,1061.6 1100.3,1060.8 1103.0,1060.8C1105.8,1060.8 1108.6,1061.6 1111.4,1063.1C1114.1,1064.5 1116.9,1066.8 1119.7,1069.5C1122.5,1072.2 1125.3,1075.6 1128.1,1079.1C1130.9,1082.6 1133.7,1086.6 1136.4,1090.4C1139.2,1094.2 1142.0,1098.3 1144.8,1101.7C1147.6,1105.2 1150.4,1108.7 1153.2,1111.3C1155.9,1114.0 1158.7,1116.3 1161.5,1117.7C1164.3,1119.2 1167.1,1119.2 1169.9,1120.0" stroke="#2800ee" stroke-width="2.3"/>
<path d="M1054.1,1135.6C1056.1,1135.0 1058.2,1134.9 1060.2,1133.8C1062.2,1132.7 1064.3,1130.8 1066.3,1128.7C1068.4,1126.6 1070.4,1123.9 1072.4,1121.2C1074.5,1118.4 1076.5,1115.2 1078.5,1112.2C1080.6,1109.2 1082.6,1106.0 1084.7,1103.3C1086.7,1100.5 1088.7,1097.8 1090.8,1095.7C1092.8,1093.6 1094.9,1091.8 1096.9,1090.6C1098.9,1089.5 1101.0,1088.9 1103.0,1088.9C1105.1,1088.9 1107.2,1089.5 1109.3,1090.6C1111.4,1091.8 1113.5,1093.6 1115.5,1095.7C1117.6,1097.8 1119.7,1100.5 1121.8,1103.3C1123.9,1106.0 1126.0,1109.2 1128.1,1112.2C1130.2,1115.2 1132.3,1118.4 1134.3,1121.2C1136.4,1123.9 1138.5,1126.6 1140.6,1128.7C1142.7,1130.8 1144.8,1132.7 1146.9,1133.8C1149.0,1134.9 1151.1,1135.0 1153.2,1135.6" stroke="#7000d4" stroke-width="2.3"/>
<path d="M1062.2,1135.6C1063.9,1135.2 1065.6,1135.1 1067.3,1134.4C1069.0,1133.6 1070.7,1132.4 1072.4,1131.0C1074.1,1129.6 1075.8,1127.8 1077.5,1126.0C1079.2,1124.1 1080.9,1122.0 1082.6,1120.0C1084.3,1118.0 1086.0,1115.9 1087.7,1114.0C1089.4,1112.2 1091.1,1110.4 1092.8,1109.0C1094.5,1107.6 1096.2,1106.4 1097.9,1105.6C1099.6,1104.9 1101.3,1104.4 1103.0,1104.4C1104.7,1104.4 1106.5,1104.9 1108.2,1105.6C1110.0,1106.4 1111.7,1107.6 1113.5,1109.0C1115.2,1110.4 1116.9,1112.2 1118.7,1114.0C1120.4,1115.9 1122.2,1118.0 1123.9,1120.0C1125.6,1122.0 1127.4,1124.1 1129.1,1126.0C1130.9,1127.8 1132.6,1129.6 1134.3,1131.0C1136.1,1132.4 1137.8,1133.6 1139.6,1134.4C1141.3,1135.1 1143.1,1135.2 1144.8,1135.6" stroke="#1800f4" stroke-width="2.3"/>
<path d="M1194.8,1112.2C1197.9,1111.3 1200.9,1111.2 1204.0,1109.4C1207.1,1107.5 1210.1,1104.6 1213.2,1101.3C1216.3,1097.9 1219.4,1093.6 1222.4,1089.1C1225.5,1084.7 1228.6,1079.6 1231.6,1074.8C1234.7,1070.1 1237.8,1065.0 1240.9,1060.5C1243.9,1056.1 1247.0,1051.8 1250.1,1048.4C1253.1,1045.1 1256.2,1042.1 1259.3,1040.3C1262.4,1038.5 1265.4,1037.5 1268.5,1037.5C1271.9,1037.5 1275.3,1038.5 1278.7,1040.3C1282.1,1042.1 1285.6,1045.1 1289.0,1048.4C1292.4,1051.8 1295.8,1056.1 1299.2,1060.5C1302.6,1065.0 1306.0,1070.1 1309.5,1074.8C1312.9,1079.6 1316.3,1084.7 1319.7,1089.1C1323.1,1093.6 1326.5,1097.9 1329.9,1101.3C1333.3,1104.6 1336.8,1107.5 1340.2,1109.4C1343.6,1111.2 1347.0,1111.3 1350.4,1112.2" stroke="#1800f4" stroke-width="2.3"/>
<path d="M1203.0,1120.0C1205.7,1119.2 1208.4,1119.2 1211.2,1117.7C1213.9,1116.3 1216.6,1114.0 1219.4,1111.3C1222.1,1108.7 1224.8,1105.2 1227.5,1101.7C1230.3,1098.3 1233.0,1094.2 1235.7,1090.4C1238.5,1086.6 1241.2,1082.6 1243.9,1079.1C1246.7,1075.6 1249.4,1072.2 1252.1,1069.5C1254.8,1066.8 1257.6,1064.5 1260.3,1063.1C1263.0,1061.6 1265.8,1060.8 1268.5,1060.8C1271.5,1060.8 1274.6,1061.6 1277.6,1063.1C1280.6,1064.5 1283.7,1066.8 1286.7,1069.5C1289.7,1072.2 1292.8,1075.6 1295.8,1079.1C1298.8,1082.6 1301.9,1086.6 1304.9,1090.4C1307.9,1094.2 1311.0,1098.3 1314.0,1101.7C1317.0,1105.2 1320.1,1108.7 1323.1,1111.3C1326.1,1114.0 1329.2,1116.3 1332.2,1117.7C1335.2,1119.2 1338.3,1119.2 1341.3,1120.0" stroke="#2800ee" stroke-width="2.3"/>
<path d="M1219.4,1135.6C1221.4,1135.0 1223.5,1134.9 1225.5,1133.8C1227.5,1132.7 1229.6,1130.8 1231.6,1128.7C1233.7,1126.6 1235.7,1123.9 1237.8,1121.2C1239.8,1118.4 1241.9,1115.2 1243.9,1112.2C1246.0,1109.2 1248.0,1106.0 1250.1,1103.3C1252.1,1100.5 1254.2,1097.8 1256.2,1095.7C1258.3,1093.6 1260.3,1091.8 1262.4,1090.6C1264.4,1089.5 1266.5,1088.9 1268.5,1088.9C1270.8,1088.9 1273.0,1089.5 1275.3,1090.6C1277.6,1091.8 1279.9,1093.6 1282.2,1095.7C1284.4,1097.8 1286.7,1100.5 1289.0,1103.3C1291.2,1106.0 1293.5,1109.2 1295.8,1112.2C1298.1,1115.2 1300.3,1118.4 1302.6,1121.2C1304.9,1123.9 1307.2,1126.6 1309.5,1128.7C1311.7,1130.8 1314.0,1132.7 1316.3,1133.8C1318.5,1134.9 1320.8,1135.0 1323.1,1135.6" stroke="#7000d4" stroke-width="2.3"/>
<path d="M1227.5,1135.6C1229.3,1135.2 1231.0,1135.1 1232.7,1134.4C1234.4,1133.6 1236.1,1132.4 1237.8,1131.0C1239.5,1129.6 1241.2,1127.8 1242.9,1126.0C1244.6,1124.1 1246.3,1122.0 1248.0,1120.0C1249.7,1118.0 1251.4,1115.9 1253.1,1114.0C1254.8,1112.2 1256.6,1110.4 1258.3,1109.0C1260.0,1107.6 1261.7,1106.4 1263.4,1105.6C1265.1,1104.9 1266.8,1104.4 1268.5,1104.4C1270.4,1104.4 1272.3,1104.9 1274.2,1105.6C1276.1,1106.4 1278.0,1107.6 1279.9,1109.0C1281.8,1110.4 1283.7,1112.2 1285.6,1114.0C1287.5,1115.9 1289.4,1118.0 1291.2,1120.0C1293.1,1122.0 1295.0,1124.1 1296.9,1126.0C1298.8,1127.8 1300.7,1129.6 1302.6,1131.0C1304.5,1132.4 1306.4,1133.6 1308.3,1134.4C1310.2,1135.1 1312.1,1135.2 1314.0,1135.6" stroke="#1800f4" stroke-width="2.3"/>
<path d="M986.4,1065.5C987.5,1065.5 988.5,1065.5 989.6,1065.5C1000.2,1065.5 1010.9,1065.5 1021.5,1065.5C1035.1,1065.5 1048.7,1067.3 1062.2,1068.6C1075.8,1069.9 1089.4,1073.3 1103.0,1073.3C1116.9,1073.3 1130.9,1068.1 1144.8,1065.5C1158.7,1062.9 1172.7,1057.7 1186.6,1057.7C1200.2,1057.7 1213.9,1064.5 1227.5,1067.1C1241.2,1069.7 1254.8,1073.3 1268.5,1073.3C1283.7,1073.3 1298.8,1068.1 1314.0,1065.5C1329.2,1062.9 1344.3,1057.7 1359.5,1057.7C1372.5,1057.7 1385.5,1059.5 1398.5,1060.8C1411.5,1062.1 1424.5,1063.9 1437.5,1065.5C1440.1,1065.5 1442.7,1065.5 1445.3,1065.5" stroke="#1800f4" stroke-width="2.3"/>
<path d="M986.4,1076.4C987.5,1076.4 988.5,1076.4 989.6,1076.4C1000.2,1076.4 1010.9,1076.4 1021.5,1076.4C1035.1,1076.4 1048.7,1071.7 1062.2,1073.3C1075.8,1074.8 1089.4,1085.7 1103.0,1085.7C1116.9,1085.7 1130.9,1079.0 1144.8,1076.4C1158.7,1073.8 1172.7,1070.2 1186.6,1070.2C1200.2,1070.2 1213.9,1076.9 1227.5,1079.5C1241.2,1082.1 1254.8,1085.7 1268.5,1085.7C1283.7,1085.7 1298.8,1078.0 1314.0,1076.4C1329.2,1074.8 1344.3,1076.4 1359.5,1076.4C1372.5,1076.4 1385.5,1080.3 1398.5,1081.1C1411.5,1081.9 1424.5,1081.1 1437.5,1081.1C1440.1,1081.1 1442.7,1081.1 1445.3,1081.1" stroke="#9000c0" stroke-width="2.3"/>
<path d="M986.4,1104.4C987.5,1104.4 988.5,1104.4 989.6,1104.4C1000.2,1104.4 1010.9,1101.3 1021.5,1101.3C1035.1,1101.3 1048.7,1105.7 1062.2,1107.5C1075.8,1109.4 1089.4,1112.2 1103.0,1112.2C1116.9,1112.2 1130.9,1106.2 1144.8,1104.4C1158.7,1102.6 1172.7,1101.3 1186.6,1101.3C1200.2,1101.3 1213.9,1105.7 1227.5,1107.5C1241.2,1109.4 1254.8,1112.2 1268.5,1112.2C1283.7,1112.2 1298.8,1105.7 1314.0,1104.4C1329.2,1103.1 1344.3,1104.4 1359.5,1104.4C1372.5,1104.4 1385.5,1104.9 1398.5,1104.4C1411.5,1103.9 1424.5,1102.4 1437.5,1101.3C1440.1,1101.3 1442.7,1101.3 1445.3,1101.3" stroke="#1800f4" stroke-width="2.3"/>
<path d="M986.4,1116.9C987.5,1116.9 988.5,1116.9 989.6,1116.9C1000.2,1116.9 1010.9,1116.9 1021.5,1116.9C1048.7,1116.9 1075.8,1112.2 1103.0,1112.2C1130.9,1112.2 1158.7,1116.9 1186.6,1116.9C1213.9,1116.9 1241.2,1112.2 1268.5,1112.2C1298.8,1112.2 1329.2,1116.9 1359.5,1116.9C1385.5,1116.9 1411.5,1116.9 1437.5,1116.9C1440.1,1116.9 1442.7,1116.9 1445.3,1116.9" stroke="#1800f4" stroke-width="2.3"/>
<path d="M986.4,1049.9C987.5,1049.9 988.5,1049.9 989.6,1049.9C1000.2,1049.9 1010.9,1049.9 1021.5,1049.9C1035.1,1049.9 1048.7,1051.2 1062.2,1057.7C1075.8,1064.2 1089.4,1088.9 1103.0,1088.9C1116.9,1088.9 1130.9,1065.5 1144.8,1057.7C1158.7,1049.9 1172.7,1042.2 1186.6,1042.2C1200.2,1042.2 1213.9,1046.8 1227.5,1054.6C1241.2,1062.4 1254.8,1088.9 1268.5,1088.9C1283.7,1088.9 1298.8,1068.1 1314.0,1060.8C1329.2,1053.6 1344.3,1045.3 1359.5,1045.3C1372.5,1045.3 1385.5,1047.9 1398.5,1049.9C1411.5,1052.0 1424.5,1055.1 1437.5,1057.7C1440.1,1057.7 1442.7,1057.7 1445.3,1057.7" stroke="#4400e4" stroke-width="2.3"/>
<path d="M1041.9,1135.6C1055.5,1075.9 1069.0,1016.2 1082.6,956.5" stroke="#4400e4" stroke-width="2.2" stroke-dasharray="2.2,2.2"/>
<path d="M1050.0,1135.6C1063.6,1078.5 1077.2,1021.4 1090.8,964.3" stroke="#4400e4" stroke-width="2.2" stroke-dasharray="2.2,2.2"/>
<path d="M1115.5,964.3C1129.5,1021.4 1143.4,1078.5 1157.3,1135.6" stroke="#4400e4" stroke-width="2.2" stroke-dasharray="2.2,2.2"/>
<path d="M1123.9,956.5C1137.8,1016.2 1151.8,1075.9 1165.7,1135.6" stroke="#4400e4" stroke-width="2.2" stroke-dasharray="2.2,2.2"/>
<path d="M1207.1,1135.6C1220.7,1075.9 1234.4,1016.2 1248.0,956.5" stroke="#4400e4" stroke-width="2.2" stroke-dasharray="2.2,2.2"/>
<path d="M1215.3,1135.6C1228.9,1078.5 1242.6,1021.4 1256.2,964.3" stroke="#4400e4" stroke-width="2.2" stroke-dasharray="2.2,2.2"/>
<path d="M1282.2,964.3C1297.3,1021.4 1312.5,1078.5 1327.7,1135.6" stroke="#4400e4" stroke-width="2.2" stroke-dasharray="2.2,2.2"/>
<path d="M1291.2,956.5C1306.4,1016.2 1321.6,1075.9 1336.8,1135.6" stroke="#4400e4" stroke-width="2.2" stroke-dasharray="2.2,2.2"/>
<path d="M1382.9,1135.6C1395.9,1078.5 1408.9,1021.4 1421.9,964.3" stroke="#4400e4" stroke-width="2.2" stroke-dasharray="2.2,2.2"/>
<path d="M1161.5,964.3C1168.5,985.1 1175.5,1005.8 1182.4,1026.6" stroke="#4400e4" stroke-width="2.2" stroke-dasharray="2.2,2.2"/>
<path d="M1190.7,964.3C1197.5,985.1 1204.3,1005.8 1211.2,1026.6" stroke="#4400e4" stroke-width="2.2" stroke-dasharray="2.2,2.2"/>
<path d="M1332.2,964.3C1339.8,985.1 1347.4,1005.8 1355.0,1026.6" stroke="#4400e4" stroke-width="2.2" stroke-dasharray="2.2,2.2"/>
<path d="M1363.4,964.3C1369.9,985.1 1376.4,1005.8 1382.9,1026.6" stroke="#4400e4" stroke-width="2.2" stroke-dasharray="2.2,2.2"/>
<path d="M1146.5,637.3C1149.3,658.1 1152.0,678.9 1154.8,699.6" stroke="#4400e4" stroke-width="2.2" stroke-dasharray="2.2,2.2"/>
<path d="M1315.8,637.3C1318.9,658.1 1321.9,678.9 1324.9,699.6" stroke="#4400e4" stroke-width="2.2" stroke-dasharray="2.2,2.2"/>
<path d="M986.4,758.8C987.5,758.8 988.5,758.8 989.6,758.8C1000.2,758.8 1010.9,758.8 1021.5,758.8C1035.1,758.8 1048.7,762.4 1062.2,765.0C1075.8,767.6 1089.4,774.3 1103.0,774.3C1116.9,774.3 1130.9,765.5 1144.8,761.9C1158.7,758.3 1172.7,752.5 1186.6,752.5C1200.2,752.5 1213.9,756.2 1227.5,758.8C1241.2,761.4 1254.8,768.1 1268.5,768.1C1283.7,768.1 1298.8,767.6 1314.0,765.0C1329.2,762.4 1344.3,752.5 1359.5,752.5C1372.5,752.5 1385.5,754.1 1398.5,755.7C1411.5,757.2 1424.5,759.8 1437.5,761.9C1440.1,761.9 1442.7,761.9 1445.3,761.9" stroke="#1800f4" stroke-width="2.3"/>
<path d="M986.4,774.3C987.5,774.3 988.5,774.3 989.6,774.3C1000.2,774.3 1010.9,774.3 1021.5,774.3C1035.1,774.3 1048.7,777.5 1062.2,780.6C1075.8,783.7 1089.4,793.0 1103.0,793.0C1116.9,793.0 1130.9,779.5 1144.8,774.3C1158.7,769.2 1172.7,761.9 1186.6,761.9C1200.2,761.9 1213.9,771.2 1227.5,777.5C1241.2,783.7 1254.8,799.3 1268.5,799.3C1283.7,799.3 1298.8,786.8 1314.0,780.6C1329.2,774.3 1344.3,761.9 1359.5,761.9C1372.5,761.9 1385.5,768.6 1398.5,771.2C1411.5,773.8 1424.5,775.4 1437.5,777.5C1440.1,777.5 1442.7,777.5 1445.3,777.5" stroke="#2800ee" stroke-width="2.3"/>
<path d="M1231.6,684.0C1235.7,704.8 1239.8,728.2 1243.9,746.3C1248.0,764.5 1252.1,782.1 1256.2,793.0C1260.3,803.9 1264.4,811.7 1268.5,811.7C1273.0,811.7 1277.6,803.9 1282.2,793.0C1286.7,782.1 1291.2,764.5 1295.8,746.3C1300.3,728.2 1304.9,704.8 1309.5,684.0" stroke="#7000d4" stroke-width="2.3"/>
<path d="M1058.2,800.8C1065.0,792.0 1071.8,777.9 1078.5,774.3C1082.6,772.2 1086.7,781.1 1090.8,783.7C1094.9,786.3 1098.9,789.9 1103.0,789.9C1107.2,789.9 1111.4,786.3 1115.5,783.7C1119.7,781.1 1123.9,772.2 1128.1,774.3C1135.0,777.9 1142.0,792.0 1149.0,800.8" stroke="#7000d4" stroke-width="2.3"/>
<path d="M986.4,976.8C987.5,976.8 988.5,976.8 989.6,976.8C1000.2,976.8 1010.9,979.9 1021.5,979.9C1035.1,979.9 1048.7,981.4 1062.2,983.0C1075.8,984.5 1089.4,989.2 1103.0,989.2C1116.9,989.2 1130.9,982.7 1144.8,979.9C1158.7,977.0 1172.7,972.1 1186.6,972.1C1200.2,972.1 1213.9,977.0 1227.5,979.9C1241.2,982.7 1254.8,989.2 1268.5,989.2C1283.7,989.2 1298.8,982.7 1314.0,979.9C1329.2,977.0 1344.3,972.1 1359.5,972.1C1372.5,972.1 1385.5,975.5 1398.5,976.8C1411.5,978.1 1424.5,978.8 1437.5,979.9C1440.1,979.9 1442.7,979.9 1445.3,979.9" stroke="#2800ee" stroke-width="2.3"/>
<path d="M986.4,1088.9C987.5,1088.9 988.5,1088.9 989.6,1088.9C1000.2,1088.9 1010.9,1088.9 1021.5,1088.9C1035.1,1088.9 1048.7,1090.7 1062.2,1092.0C1075.8,1093.3 1089.4,1096.6 1103.0,1096.6C1116.9,1096.6 1130.9,1091.5 1144.8,1088.9C1158.7,1086.3 1172.7,1081.1 1186.6,1081.1C1200.2,1081.1 1213.9,1086.3 1227.5,1088.9C1241.2,1091.5 1254.8,1096.6 1268.5,1096.6C1283.7,1096.6 1298.8,1090.7 1314.0,1088.9C1329.2,1087.0 1344.3,1085.7 1359.5,1085.7C1372.5,1085.7 1385.5,1088.3 1398.5,1088.9C1411.5,1089.4 1424.5,1088.9 1437.5,1088.9C1440.1,1088.9 1442.7,1088.9 1445.3,1088.9" stroke="#4400e4" stroke-width="2.3"/>
</g>
<g clip-path="url(#dclipd)" fill="none" stroke-linejoin="round">
<path d="M1553.5,653.4 L1557.7,661.9 L1555.6,670.3 L1561.9,678.7 L1572.5,687.1 L1576.7,697.7 L1574.6,706.1 L1553.5,712.4 L1526.1,717.7 L1545.1,720.9 L1559.8,725.1 L1570.4,729.3 L1564.0,733.5 L1545.1,737.7 L1528.2,739.8 L1545.1,744.0 L1536.6,748.2 L1517.7,754.6 L1502.9,756.7 L1494.5,759.8 L1481.9,764.0 L1507.1,765.1 L1549.3,767.2 L1568.2,771.4 L1536.6,774.6 L1557.7,777.7 L1496.6,784.1 L1538.7,786.2 L1507.1,790.4 L1490.3,795.7 L1553.5,800.9 L1502.9,806.2 L1528.2,809.3 L1477.6,814.6 L1538.7,815.7 L1502.9,820.9 L1528.2,826.2 L1517.7,830.4 L1545.1,834.6 L1502.9,842.0 L1540.9,845.2 L1559.8,849.4 L1570.4,853.6 L1553.5,864.1 L1561.9,872.6 L1568.2,878.9 L1566.1,880.0 L1559.8,886.3 L1549.3,893.7 L1561.9,901.1 L1570.4,909.5 L1578.8,911.6 L1579.8,922.1 L1574.6,928.5 L1576.7,943.2 L1575.6,964.3 L1557.7,972.7 L1481.9,976.9 L1549.3,981.1 L1564.0,989.6 L1566.1,998.0 L1557.7,1002.2 L1564.0,1006.4 L1549.3,1014.9 L1538.7,1017.0 L1553.5,1023.3 L1479.7,1029.6 L1553.5,1033.8 L1515.6,1044.3 L1532.4,1046.5 L1553.5,1052.8 L1566.1,1063.3 L1561.9,1071.7 L1545.1,1084.4 L1553.5,1090.7 L1557.7,1101.2 L1559.8,1111.8 L1566.1,1120.2 L1696.8,1120.6 L1696.8,1119.8 L1633.6,1117.0 L1612.5,1111.8 L1599.9,1103.3 L1595.6,1090.7 L1597.7,1078.1 L1599.9,1065.4 L1602.0,1052.8 L1604.1,1040.1 L1599.9,1027.5 L1593.5,1010.6 L1599.9,1002.2 L1614.6,1000.1 L1606.2,991.7 L1604.1,981.1 L1602.0,964.3 L1596.7,953.7 L1593.5,943.2 L1590.4,932.7 L1589.3,911.6 L1588.3,892.6 L1588.3,880.0 L1589.3,878.9 L1591.4,866.2 L1589.3,855.7 L1591.4,845.2 L1599.9,836.7 L1610.4,833.6 L1595.6,826.2 L1589.3,817.8 L1591.4,809.3 L1595.6,800.9 L1600.9,792.5 L1597.7,784.1 L1595.6,775.6 L1599.9,767.2 L1605.1,759.8 L1599.9,752.5 L1595.6,746.1 L1593.5,737.7 L1595.6,729.3 L1593.5,718.7 L1591.4,708.2 L1595.6,697.7 L1593.5,687.1 L1595.6,666.1 L1602.0,653.4Z" fill="#d3d3d3" stroke="#d3d3d3" stroke-width="0.8"/>
<path d="M1579.8,653.4 L1580.9,676.6 L1578.8,716.6 L1581.9,725.1 L1579.8,750.4 L1580.9,771.4 L1579.8,792.5 L1579.8,813.6 L1580.9,834.6 L1581.9,855.7 L1581.9,883.1 L1580.9,880.0 L1581.9,909.5 L1580.9,968.5 L1577.7,976.9 L1580.9,981.1 L1579.8,1027.5 L1576.7,1029.6 L1579.8,1038.0 L1580.9,1069.6 L1579.8,1090.7 L1580.9,1120.2" stroke="#ff0000" stroke-width="1.3"/>
<path d="M1587.2,653.4 L1586.2,676.6 L1586.2,708.2 L1588.3,758.8 L1587.2,792.5 L1586.2,813.6 L1589.3,832.5 L1587.2,845.2 L1586.2,883.1 L1585.1,880.0 L1585.1,964.3 L1586.2,985.4 L1587.2,1006.4 L1585.1,1048.6 L1587.2,1069.6 L1585.1,1090.7 L1584.0,1120.2" stroke="#ff0000" stroke-width="1.3"/>
<path d="M1564.0,653.4 L1568.2,666.1 L1568.2,676.6 L1574.6,687.1 L1578.8,695.6 L1575.6,706.1 L1559.8,710.3 L1540.9,716.6 L1553.5,720.9 L1566.1,725.1 L1572.5,729.3 L1564.0,735.6 L1538.7,739.8 L1553.5,741.9 L1549.3,746.1 L1551.4,750.4 L1519.8,754.6 L1509.2,760.9 L1494.5,764.0 L1528.2,766.2 L1572.5,771.4 L1543.0,774.6 L1564.0,778.2 L1505.0,784.1 L1545.1,787.2 L1519.8,790.4 L1502.9,795.7 L1555.6,800.9 L1509.2,806.2 L1534.5,811.5 L1492.4,814.6 L1557.7,817.8 L1511.4,820.9 L1545.1,826.2 L1526.1,830.4 L1549.3,835.7 L1515.6,842.0 L1561.9,848.3 L1572.5,853.6 L1557.7,864.1 L1568.2,874.7 L1570.4,883.1 L1568.2,880.0 L1557.7,893.7 L1564.0,896.9 L1572.5,901.1 L1574.6,907.4 L1563.0,909.5 L1581.9,910.6 L1578.8,922.1 L1572.5,928.5 L1576.7,930.6 L1574.6,970.6 L1549.3,972.7 L1502.9,976.9 L1553.5,981.1 L1561.9,985.4 L1568.2,987.5 L1564.0,991.7 L1570.4,1002.2 L1561.9,1006.4 L1557.7,1014.9 L1549.3,1017.0 L1564.0,1025.4 L1507.1,1029.6 L1564.0,1033.8 L1534.5,1044.3 L1553.5,1050.7 L1561.9,1063.3 L1572.5,1068.6 L1561.9,1071.7 L1564.0,1078.1 L1557.7,1084.4 L1561.9,1099.1 L1564.0,1109.7 L1568.2,1120.2" stroke="#0000ff" stroke-width="1.3"/>
<path d="M1588.3,653.4 L1586.8,666.1 L1586.2,687.1 L1586.8,708.2 L1588.3,729.3 L1588.9,750.4 L1588.3,771.4 L1589.3,792.5 L1585.1,813.6 L1595.6,833.6 L1589.3,838.8 L1587.2,855.7 L1586.2,876.8 L1586.2,880.0 L1587.2,901.1 L1589.3,922.1 L1592.5,943.2 L1594.6,964.3 L1595.6,985.4 L1605.1,1000.1 L1591.4,1004.3 L1590.4,1010.6 L1593.5,1027.5 L1595.6,1048.6 L1594.6,1069.6 L1591.4,1090.7 L1585.1,1107.6 L1604.1,1112.8 L1629.3,1118.1 L1686.2,1120.2" stroke="#0000ff" stroke-width="1.3"/>
<path d="M1583.4,652.0 L1583.4,1121.0" stroke="#008000" stroke-width="1.6"/>
</g>
<path d="M989.6,886.4H1437.5" stroke="#2a2a2a" stroke-width="1.1"/>
<rect x="989.6" y="652.9" width="447.9" height="467.1" fill="none" stroke="#808080" stroke-width="1"/>
<path d="M1471.4,886.4H1695.5" stroke="#000" stroke-width="1"/>
<rect x="1471.4" y="652.9" width="224.1" height="467.1" fill="none" stroke="#808080" stroke-width="1"/>
<text x="984.7" y="664.1" font-size="28" text-anchor="end" textLength="42.5" lengthAdjust="spacingAndGlyphs" >1.5</text>
<text x="984.7" y="743.6" font-size="28" text-anchor="end" textLength="42.5" lengthAdjust="spacingAndGlyphs" >1.0</text>
<text x="984.7" y="823.0" font-size="28" text-anchor="end" textLength="42.5" lengthAdjust="spacingAndGlyphs" >0.5</text>
<text x="984.7" y="902.1" font-size="28" text-anchor="end" textLength="42.5" lengthAdjust="spacingAndGlyphs" >0.0</text>
<text x="984.7" y="982.1" font-size="28" text-anchor="end" textLength="67.5" lengthAdjust="spacingAndGlyphs" >−0.5</text>
<text x="984.7" y="1061.1" font-size="28" text-anchor="end" textLength="67.5" lengthAdjust="spacingAndGlyphs" >−1.0</text>
<text x="984.7" y="1132.1" font-size="28" text-anchor="end" textLength="67.5" lengthAdjust="spacingAndGlyphs" >−1.5</text>
<text x="989.1" y="1153.7" font-size="29.5" text-anchor="middle" textLength="20.8" lengthAdjust="spacingAndGlyphs" font-style="italic">Γ</text>
<text x="1026.4" y="1153.7" font-size="29.5" text-anchor="middle" textLength="21.0" lengthAdjust="spacingAndGlyphs" font-style="italic">Z</text>
<text x="1105.6" y="1153.7" font-size="29.5" text-anchor="middle" textLength="22.6" lengthAdjust="spacingAndGlyphs" font-style="italic">F</text>
<text x="1188.3" y="1153.7" font-size="29.5" text-anchor="middle" textLength="20.8" lengthAdjust="spacingAndGlyphs" font-style="italic">Γ</text>
<text x="1272.4" y="1153.7" font-size="29.5" text-anchor="middle" textLength="21.5" lengthAdjust="spacingAndGlyphs" font-style="italic">L</text>
<text x="1363.1" y="1153.7" font-size="29.5" text-anchor="middle" textLength="21.0" lengthAdjust="spacingAndGlyphs" font-style="italic">Z</text>
<text x="1443.3" y="1153.7" font-size="29.5" text-anchor="middle" textLength="24.5" lengthAdjust="spacingAndGlyphs" font-style="italic">P</text>
<text x="1590.5" y="1156.0" font-size="30" text-anchor="middle" textLength="69.4" lengthAdjust="spacingAndGlyphs" >DOS</text>
<rect x="989.6" y="652.9" width="113" height="113" fill="#fff" fill-opacity="0.86" stroke="#aaa" stroke-width="1"/>
<g clip-path="url(#trid)"><g filter="url(#gam)"><rect x="1022.0" y="679.8" width="57.7" height="49.4" fill="url(#gRd)"/><rect x="1022.0" y="679.8" width="57.7" height="49.4" fill="url(#gGd)" style="mix-blend-mode:screen"/><rect x="1022.0" y="679.8" width="57.7" height="49.4" fill="url(#gBd)" style="mix-blend-mode:screen"/></g></g>
<text x="1050.1" y="676.0" font-size="27" text-anchor="middle" >Sb</text>
<text x="1016.7" y="750.5" font-size="27" text-anchor="middle" >Fe</text>
<text x="1085.5" y="750.5" font-size="27" text-anchor="middle" >Cs</text>
<text transform="translate(37.6,296.7) rotate(-90)" font-size="35" text-anchor="middle" textLength="186" lengthAdjust="spacingAndGlyphs"><tspan font-style="italic">E</tspan>−<tspan font-style="italic">E</tspan><tspan font-size="24" dy="5">F</tspan><tspan dy="-5"> (eV)</tspan></text>
<text transform="translate(906.5,298.2) rotate(-90)" font-size="35" text-anchor="middle" textLength="186" lengthAdjust="spacingAndGlyphs"><tspan font-style="italic">E</tspan>−<tspan font-style="italic">E</tspan><tspan font-size="24" dy="5">F</tspan><tspan dy="-5"> (eV)</tspan></text>
<text transform="translate(34.6,879.3) rotate(-90)" font-size="35" text-anchor="middle" textLength="186" lengthAdjust="spacingAndGlyphs"><tspan font-style="italic">E</tspan>−<tspan font-style="italic">E</tspan><tspan font-size="24" dy="5">F</tspan><tspan dy="-5"> (eV)</tspan></text>
<text transform="translate(906.5,887.2) rotate(-90)" font-size="35" text-anchor="middle" textLength="186" lengthAdjust="spacingAndGlyphs"><tspan font-style="italic">E</tspan>−<tspan font-style="italic">E</tspan><tspan font-size="24" dy="5">F</tspan><tspan dy="-5"> (eV)</tspan></text>
<text x="117.0" y="43.9" font-size="31" textLength="120.5" lengthAdjust="spacingAndGlyphs">CsV<tspan font-size="22" dy="4.4">6</tspan><tspan dy="-4.4">Sb</tspan><tspan font-size="22" dy="4.4">6</tspan></text>
<text x="250.5" y="43.9" font-size="31" textLength="321.5" lengthAdjust="spacingAndGlyphs">(<tspan font-style="italic">R</tspan>3<tspan font-style="italic">M</tspan> | CVS166-type)</text>
<path d="M289.0,17.4h8.6" stroke="#000" stroke-width="1.3"/>
<text x="980.9" y="43.9" font-size="31" textLength="124.5" lengthAdjust="spacingAndGlyphs">CsTi<tspan font-size="22" dy="4.4">6</tspan><tspan dy="-4.4">Bi</tspan><tspan font-size="22" dy="4.4">6</tspan></text>
<text x="1118.0" y="43.9" font-size="31" textLength="322.6" lengthAdjust="spacingAndGlyphs">(<tspan font-style="italic">R</tspan>3<tspan font-style="italic">M</tspan> | CVS166-type)</text>
<path d="M1156.5,17.4h8.6" stroke="#000" stroke-width="1.3"/>
<text x="120.5" y="630.3" font-size="31" textLength="138.5" lengthAdjust="spacingAndGlyphs">CsTc<tspan font-size="22" dy="4.4">6</tspan><tspan dy="-4.4">Ge</tspan><tspan font-size="22" dy="4.4">6</tspan></text>
<text x="272.1" y="630.3" font-size="31" textLength="322.1" lengthAdjust="spacingAndGlyphs">(<tspan font-style="italic">R</tspan>3<tspan font-style="italic">M</tspan> | CVS166-type)</text>
<path d="M310.6,603.8h8.6" stroke="#000" stroke-width="1.3"/>
<text x="974.0" y="630.3" font-size="31" textLength="129.5" lengthAdjust="spacingAndGlyphs">CsFe<tspan font-size="22" dy="4.4">6</tspan><tspan dy="-4.4">Sb</tspan><tspan font-size="22" dy="4.4">6</tspan></text>
<text x="1117.2" y="630.3" font-size="31" textLength="321.8" lengthAdjust="spacingAndGlyphs">(<tspan font-style="italic">R</tspan>3<tspan font-style="italic">M</tspan> | CVS166-type)</text>
<path d="M1155.7,603.8h8.6" stroke="#000" stroke-width="1.3"/>
<text x="2.0" y="48.0" font-size="36" text-anchor="start" textLength="45.5" lengthAdjust="spacingAndGlyphs" >(a)</text>
<text x="881.8" y="56.0" font-size="36" text-anchor="start" textLength="47.0" lengthAdjust="spacingAndGlyphs" >(b)</text>
<text x="1.7" y="657.0" font-size="36" text-anchor="start" textLength="42.5" lengthAdjust="spacingAndGlyphs" >(c)</text>
<text x="881.8" y="665.0" font-size="36" text-anchor="start" textLength="47.0" lengthAdjust="spacingAndGlyphs" >(d)</text>
<text x="1482.8" y="640.3" font-size="29" text-anchor="start" >Spin ↑</text>
<text x="1607.0" y="640.3" font-size="29" text-anchor="start" >Spin ↓</text>
<rect x="726.4" y="421.0" width="97.2" height="101.5" rx="3" fill="#fff" fill-opacity="0.8" stroke="#eeeeee" stroke-width="1"/>
<path d="M731.5,433.7H766.3" stroke="#a0a0a0" stroke-width="2.2"/>
<text x="769.8" y="440.3" font-size="19.5" text-anchor="start" textLength="49.5" lengthAdjust="spacingAndGlyphs" >Total</text>
<path d="M731.5,457.8H766.3" stroke="#0000ff" stroke-width="2.2"/>
<text x="769.8" y="464.4" font-size="19.5" text-anchor="start" textLength="15.5" lengthAdjust="spacingAndGlyphs" >V</text>
<path d="M731.5,481.6H766.3" stroke="#ff0000" stroke-width="2.2"/>
<text x="769.8" y="488.2" font-size="19.5" text-anchor="start" textLength="24.2" lengthAdjust="spacingAndGlyphs" >Sb</text>
<path d="M731.5,505.7H766.3" stroke="#008000" stroke-width="2.2"/>
<text x="769.8" y="512.3" font-size="19.5" text-anchor="start" textLength="23.7" lengthAdjust="spacingAndGlyphs" >Cs</text>
<rect x="1591.4" y="422.7" width="94.8" height="97.0" rx="3" fill="#fff" fill-opacity="0.8" stroke="#eeeeee" stroke-width="1"/>
<path d="M1595.6,433.3H1630.4" stroke="#a0a0a0" stroke-width="2.2"/>
<text x="1636.7" y="439.9" font-size="19.5" text-anchor="start" textLength="49.0" lengthAdjust="spacingAndGlyphs" >Total</text>
<path d="M1595.6,457.5H1630.4" stroke="#0000ff" stroke-width="2.2"/>
<text x="1636.7" y="464.1" font-size="19.5" text-anchor="start" textLength="20.5" lengthAdjust="spacingAndGlyphs" >Ti</text>
<path d="M1595.6,480.7H1630.4" stroke="#ff0000" stroke-width="2.2"/>
<text x="1636.7" y="487.3" font-size="19.5" text-anchor="start" textLength="20.5" lengthAdjust="spacingAndGlyphs" >Bi</text>
<path d="M1595.6,504.9H1630.4" stroke="#008000" stroke-width="2.2"/>
<text x="1636.7" y="511.5" font-size="19.5" text-anchor="start" textLength="23.5" lengthAdjust="spacingAndGlyphs" >Cs</text>
<rect x="726.4" y="1007.7" width="96.9" height="97.0" rx="3" fill="#fff" fill-opacity="0.8" stroke="#eeeeee" stroke-width="1"/>
<path d="M731.7,1019.3H767.5" stroke="#a0a0a0" stroke-width="2.2"/>
<text x="774.9" y="1025.9" font-size="19.5" text-anchor="start" textLength="50.0" lengthAdjust="spacingAndGlyphs" >Total</text>
<path d="M731.7,1043.6H767.5" stroke="#0000ff" stroke-width="2.2"/>
<text x="774.9" y="1050.2" font-size="19.5" text-anchor="start" textLength="23.6" lengthAdjust="spacingAndGlyphs" >Te</text>
<path d="M731.7,1067.2H767.5" stroke="#ff0000" stroke-width="2.2"/>
<text x="774.9" y="1073.8" font-size="19.5" text-anchor="start" textLength="26.8" lengthAdjust="spacingAndGlyphs" >Ge</text>
<path d="M731.7,1091.0H767.5" stroke="#008000" stroke-width="2.2"/>
<text x="774.9" y="1097.6" font-size="19.5" text-anchor="start" textLength="24.7" lengthAdjust="spacingAndGlyphs" >Cs</text>
<rect x="1591.4" y="1011.7" width="94.8" height="98.0" rx="3" fill="#fff" fill-opacity="0.8" stroke="#eeeeee" stroke-width="1"/>
<path d="M1595.6,1023.9H1630.4" stroke="#a0a0a0" stroke-width="2.2"/>
<text x="1636.7" y="1030.5" font-size="19.5" text-anchor="start" textLength="49.0" lengthAdjust="spacingAndGlyphs" >Total</text>
<path d="M1595.6,1047.9H1630.4" stroke="#0000ff" stroke-width="2.2"/>
<text x="1636.7" y="1054.5" font-size="19.5" text-anchor="start" textLength="21.5" lengthAdjust="spacingAndGlyphs" >Fe</text>
<path d="M1595.6,1071.7H1630.4" stroke="#ff0000" stroke-width="2.2"/>
<text x="1636.7" y="1078.3" font-size="19.5" text-anchor="start" textLength="22.5" lengthAdjust="spacingAndGlyphs" >Sb</text>
<path d="M1595.6,1095.3H1630.4" stroke="#008000" stroke-width="2.2"/>
<text x="1636.7" y="1101.9" font-size="19.5" text-anchor="start" textLength="23.5" lengthAdjust="spacingAndGlyphs" >Cs</text>
<rect x="1315.8" y="1049.4" width="96.4" height="61.1" rx="3" fill="#fff" fill-opacity="0.8" stroke="#e6e6e6" stroke-width="1"/>
<path d="M1317,1067H1352.2" stroke="#1800f4" stroke-width="2.3"/>
<path d="M1317,1092.4H1352.2" stroke="#1800f4" stroke-width="2.3" stroke-dasharray="2.2,2.2"/>
<text x="1355.8" y="1073.5" font-size="19.5" text-anchor="start" textLength="60.0" lengthAdjust="spacingAndGlyphs" >Spin ↑</text>
<text x="1355.8" y="1098.9" font-size="19.5" text-anchor="start" textLength="60.0" lengthAdjust="spacingAndGlyphs" >Spin ↓</text>
</svg>
</body></html>
